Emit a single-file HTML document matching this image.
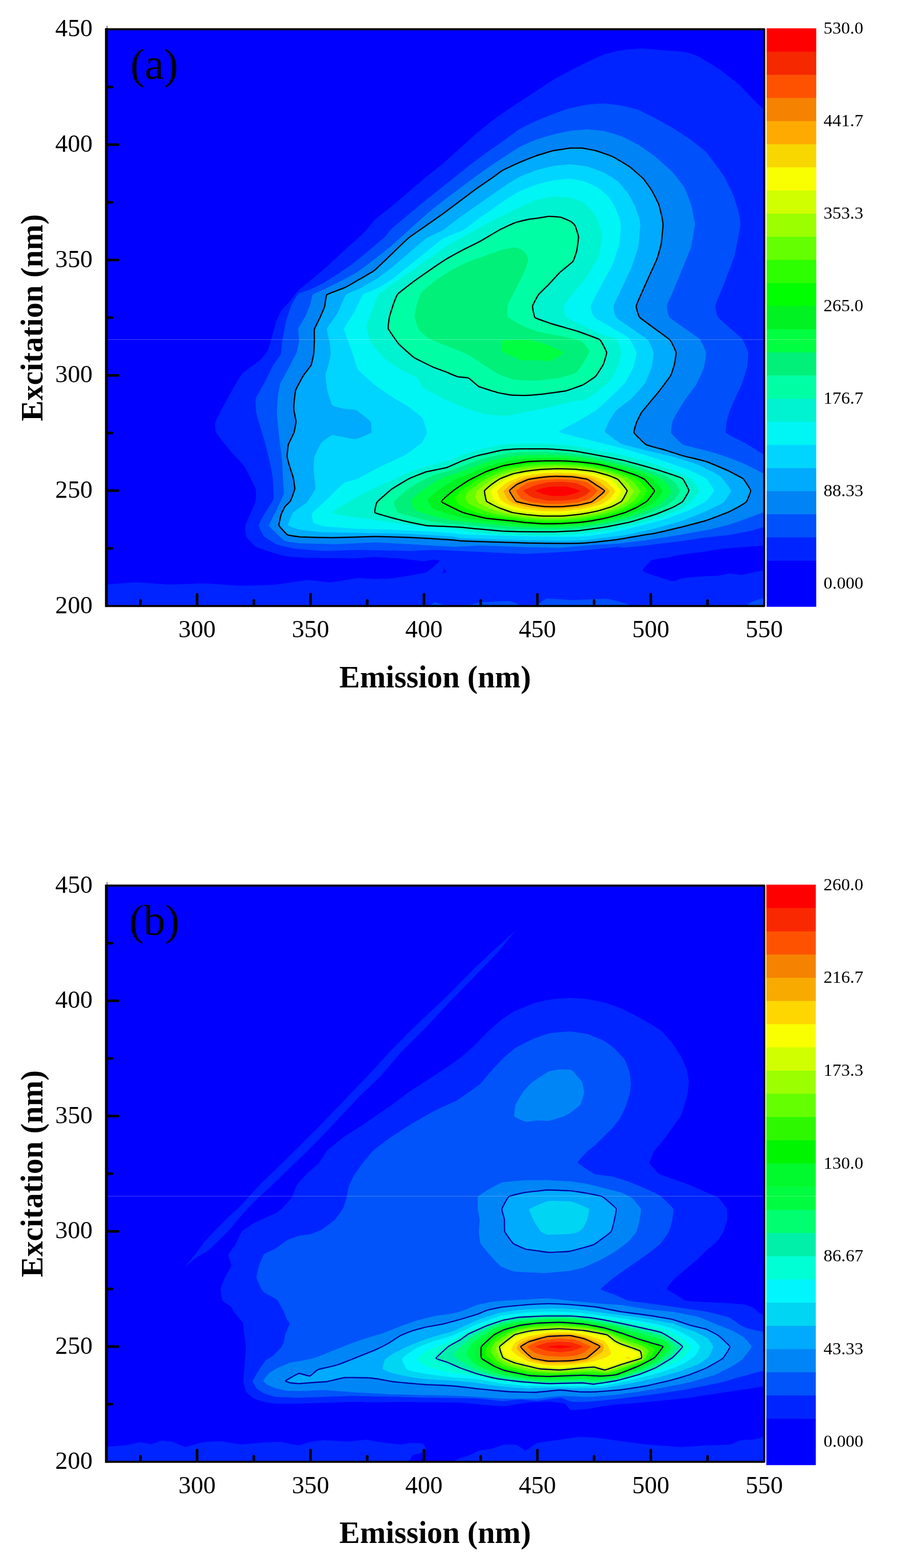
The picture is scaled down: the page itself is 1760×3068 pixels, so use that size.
<!DOCTYPE html>
<html lang="en">
<head>
<meta charset="utf-8">
<title>Excitation-emission contour maps</title>
<style>
html,body{margin:0;padding:0;background:#fff;}
body{width:1760px;height:3068px;overflow:hidden;}
svg{display:block;}
text{fill:#000;}
</style>
</head>
<body>
<svg width="1760" height="3068" viewBox="0 0 1760 3068">
<rect width="1760" height="3068" fill="#fff"/>
<defs><clipPath id="clipa"><rect x="208" y="57.3" width="1286.5" height="1128.5"/></clipPath><clipPath id="clipb"><rect x="208" y="1732.8" width="1286.5" height="1127.3999999999999"/></clipPath></defs>
<g>
<rect x="208" y="57.3" width="1286.5" height="1128.5" fill="#0000ff"/>
<g clip-path="url(#clipa)">
<path d="M1497.0 217.0C1497.0 217.0 1478.0 199.8 1474.7 196.6C1471.4 193.3 1452.5 172.3 1448.0 168.3C1443.6 164.3 1413.6 140.5 1408.1 136.6C1402.5 132.7 1369.4 112.3 1364.8 110.0C1360.1 107.6 1342.6 102.4 1338.1 101.6C1333.7 100.9 1303.7 98.7 1298.1 98.3C1292.6 97.9 1260.4 95.0 1254.8 95.0C1249.3 95.0 1219.8 97.5 1214.9 98.3C1210.0 99.1 1186.0 105.1 1181.6 106.6C1177.1 108.2 1152.7 119.5 1148.2 121.6C1143.8 123.7 1119.4 135.9 1114.9 138.3C1110.5 140.6 1086.1 153.9 1081.6 156.6C1077.2 159.3 1052.8 175.4 1048.3 178.2C1043.9 181.1 1018.2 197.8 1015.0 199.9C1011.8 202.0 1003.0 207.7 999.8 209.9C996.6 212.1 970.9 229.9 966.5 233.2C962.0 236.5 937.6 256.1 933.2 259.9C928.7 263.6 904.3 285.8 899.9 289.8C895.4 293.8 871.0 316.0 866.6 319.8C862.1 323.6 837.7 342.8 833.2 346.5C828.8 350.1 804.4 371.0 799.9 374.8C795.5 378.6 771.1 399.4 766.6 403.1C762.2 406.8 736.6 426.6 733.3 429.7C730.0 432.9 718.9 447.6 716.7 450.1C714.4 452.5 702.8 463.9 699.9 466.6C697.0 469.2 677.0 486.5 673.2 489.9C669.4 493.3 647.5 514.4 643.2 518.2C639.0 522.0 613.9 543.2 609.9 546.5C605.9 549.9 586.2 565.3 583.3 568.2C580.4 571.1 568.8 587.2 566.6 589.8C564.4 592.5 551.7 605.5 550.0 608.2C548.2 610.8 541.2 626.4 540.0 629.8C538.8 633.3 532.8 656.0 531.6 659.8C530.5 663.6 524.8 683.6 523.3 686.4C521.9 689.3 511.5 701.4 510.0 703.1C508.4 704.8 502.4 709.5 500.0 711.4C497.6 713.3 476.8 727.3 473.3 731.6C469.7 736.0 450.1 770.4 446.6 776.6C443.2 782.8 423.3 820.3 421.7 824.9C420.1 829.6 420.8 842.8 422.7 846.6C424.5 850.3 446.3 877.1 450.0 881.5C453.7 886.0 475.0 908.2 478.3 913.2C481.6 918.2 498.5 951.8 499.9 956.5C501.3 961.2 500.6 978.4 499.3 983.1C497.9 987.9 481.1 1023.7 479.9 1028.1C478.8 1032.6 480.3 1047.0 481.6 1049.8C482.9 1052.5 497.2 1067.9 499.9 1069.8C502.7 1071.6 519.4 1076.9 523.3 1078.1C527.1 1079.3 551.9 1087.1 557.1 1088.0C562.4 1088.9 592.9 1091.3 601.8 1091.6C610.7 1091.9 682.3 1092.6 691.1 1092.5C699.8 1092.4 726.9 1090.0 733.0 1090.0C739.1 1090.0 776.8 1092.5 783.0 1093.0C789.2 1093.5 822.4 1097.9 826.6 1098.0C830.8 1098.1 844.4 1095.1 846.6 1095.0C848.8 1094.9 860.0 1096.0 860.0 1097.0C860.0 1098.0 848.4 1108.5 846.6 1110.0C844.8 1111.5 836.1 1118.9 833.0 1120.0C829.9 1121.1 804.4 1125.7 800.0 1126.5C795.6 1127.3 771.1 1131.1 766.6 1131.5C762.1 1131.9 737.4 1133.0 733.0 1133.0C728.6 1133.0 705.8 1130.6 700.0 1131.0C694.2 1131.4 653.0 1139.1 646.4 1139.4C639.9 1139.6 608.9 1134.6 601.8 1134.9C594.6 1135.2 548.2 1143.1 539.3 1143.8C530.4 1144.6 477.1 1146.2 467.9 1146.1C458.6 1145.9 409.8 1141.8 400.9 1141.6C392.0 1141.5 342.9 1144.0 333.9 1143.8C325.0 1143.7 275.4 1139.4 267.0 1139.4C258.5 1139.4 206.8 1143.8 206.7 1143.8C206.6 1143.8 207.0 1144.0 207.0 1144.0C207.0 1144.0 207.0 1187.0 207.0 1187.0C207.0 1187.0 1497.0 1187.0 1497.0 1187.0C1497.0 1187.0 1497.0 217.0 1497.0 217.0Z" fill="#0024ff"/>
<path d="M1496.7 1067.5C1496.7 1067.5 1473.2 1069.1 1467.9 1069.5C1462.5 1069.9 1422.5 1072.9 1416.4 1073.6C1410.2 1074.3 1380.6 1079.1 1375.1 1079.8C1369.7 1080.6 1338.7 1084.2 1333.9 1085.0C1329.1 1085.7 1307.0 1090.4 1303.0 1091.1C1299.0 1091.9 1277.3 1094.6 1274.2 1096.3C1271.1 1098.0 1256.1 1114.8 1256.7 1116.9C1257.2 1119.0 1278.4 1125.9 1282.4 1127.2C1286.4 1128.6 1313.0 1136.8 1316.4 1137.1C1319.9 1137.4 1330.7 1131.9 1333.9 1131.3C1337.2 1130.7 1360.0 1128.6 1364.8 1128.2C1369.7 1127.9 1401.9 1126.6 1406.1 1126.2C1410.2 1125.8 1423.8 1122.1 1426.7 1122.1C1429.5 1122.0 1446.6 1125.2 1449.3 1125.1C1452.1 1125.1 1464.7 1121.7 1467.9 1121.0C1471.0 1120.3 1496.7 1114.8 1496.7 1114.8C1496.7 1114.8 1496.7 1067.5 1496.7 1067.5Z" fill="#0000ff"/>
<path d="M868.0 1113.0C868.5 1112.9 874.1 1118.5 874.0 1119.0C873.9 1119.5 866.4 1121.4 866.0 1121.0C865.6 1120.6 867.5 1113.1 868.0 1113.0Z" fill="#0000ff"/>
<path d="M1457.6 1187.0C1457.6 1187.0 1466.5 1179.4 1467.9 1178.7C1469.2 1178.0 1482.9 1173.0 1484.4 1172.5C1485.8 1172.1 1496.7 1170.1 1496.7 1170.1C1496.7 1170.1 1496.7 1187.0 1496.7 1187.0C1496.7 1187.0 1457.6 1187.0 1457.6 1187.0Z" fill="#0050fc"/>
<path d="M1046.4 1187.0C1046.4 1187.0 1065.1 1172.1 1068.7 1171.4C1072.3 1170.8 1112.1 1174.0 1117.9 1174.0C1123.7 1174.0 1180.3 1171.3 1184.8 1171.4C1189.3 1171.5 1204.1 1175.2 1207.0 1176.0C1209.9 1176.8 1243.0 1187.0 1243.0 1187.0C1243.0 1187.0 1046.4 1187.0 1046.4 1187.0Z" fill="#0050fc"/>
<path d="M908.0 1187.0C908.0 1187.0 934.5 1179.1 939.0 1178.6C943.5 1178.0 992.8 1175.6 997.0 1176.0C1001.2 1176.4 1024.0 1187.0 1024.0 1187.0C1024.0 1187.0 908.0 1187.0 908.0 1187.0Z" fill="#0050fc"/>
<path d="M840.0 1187.0C840.0 1187.0 848.1 1178.6 850.0 1178.6C851.9 1178.6 877.0 1187.0 877.0 1187.0C877.0 1187.0 840.0 1187.0 840.0 1187.0Z" fill="#0050fc"/>
<path d="M1496.7 891.9C1496.7 891.9 1480.1 880.8 1478.2 879.5C1476.2 878.3 1459.6 868.3 1457.6 867.2C1455.5 866.0 1438.9 857.9 1437.0 856.8C1435.1 855.8 1420.3 848.0 1419.5 846.5C1418.6 845.1 1420.1 830.1 1420.5 828.0C1420.8 825.9 1425.8 807.7 1426.7 805.3C1427.5 803.0 1435.7 783.4 1437.0 780.6C1438.2 777.8 1450.2 753.0 1451.4 749.8C1452.6 746.6 1460.8 719.5 1461.4 716.5C1462.0 713.5 1463.5 692.5 1463.0 689.8C1462.5 687.1 1454.3 666.6 1451.4 663.2C1448.5 659.7 1407.4 624.8 1404.7 621.5C1402.1 618.3 1398.1 601.8 1398.7 598.2C1399.4 594.6 1416.2 554.8 1418.1 549.9C1419.9 545.0 1434.9 505.4 1436.4 499.9C1437.9 494.4 1447.6 444.1 1448.0 440.0C1448.5 435.8 1445.4 419.3 1444.7 416.4C1444.0 413.6 1436.2 386.8 1434.7 383.1C1433.2 379.4 1417.4 347.4 1414.7 343.1C1412.1 338.9 1384.8 301.7 1381.4 298.2C1378.1 294.6 1351.4 273.9 1348.1 271.5C1344.8 269.1 1318.1 251.9 1314.8 249.9C1311.5 247.9 1284.8 233.3 1281.5 231.5C1278.2 229.8 1251.5 216.1 1248.2 214.9C1244.8 213.6 1218.2 207.2 1214.9 206.6C1211.5 205.9 1184.9 202.6 1181.6 202.6C1178.2 202.5 1151.6 204.4 1148.2 204.9C1144.9 205.3 1118.3 210.6 1114.9 211.6C1111.6 212.5 1085.0 222.0 1081.6 223.2C1078.3 224.5 1051.6 235.0 1048.3 236.5C1045.0 238.0 1018.3 251.2 1015.0 253.2C1011.7 255.2 986.4 274.2 983.1 276.5C979.9 278.8 953.2 297.4 949.8 299.8C946.5 302.2 919.9 322.2 916.5 324.8C913.2 327.4 886.5 348.8 883.2 351.5C879.9 354.1 853.2 375.4 849.9 378.1C846.6 380.8 819.9 402.0 816.6 404.8C813.3 407.5 785.9 430.8 783.3 433.1C780.6 435.3 764.8 448.6 763.3 450.1C761.8 451.6 755.3 461.2 753.2 463.3C751.0 465.3 723.2 488.8 719.9 491.6C716.5 494.3 689.5 516.0 686.5 518.2C683.5 520.5 662.6 534.8 659.9 536.5C657.2 538.3 635.9 551.7 633.2 553.2C630.6 554.7 609.1 565.4 606.6 566.5C604.1 567.6 585.1 573.4 583.3 574.9C581.4 576.3 571.1 593.9 570.0 596.5C568.8 599.1 560.7 623.8 560.0 626.5C559.2 629.1 555.4 647.6 555.0 649.8C554.5 652.0 551.9 667.6 551.6 669.8C551.3 672.0 550.2 690.8 549.3 693.1C548.4 695.4 534.9 713.6 533.3 716.4C531.7 719.3 518.3 746.9 516.7 750.1C515.0 753.2 500.7 777.0 499.9 779.9C499.2 782.9 500.8 805.9 501.6 809.9C502.4 813.9 515.3 855.4 516.6 859.9C517.8 864.4 525.7 896.2 526.6 899.9C527.4 903.5 532.8 929.3 533.2 933.2C533.7 937.0 535.7 972.8 534.9 976.5C534.1 980.1 518.0 1003.9 516.6 1006.5C515.1 1009.0 505.9 1025.9 505.9 1028.1C505.9 1030.3 514.9 1047.9 516.6 1049.8C518.3 1051.6 537.1 1063.6 539.9 1064.8C542.7 1065.9 568.6 1072.4 573.2 1073.1C577.9 1073.8 626.8 1077.9 633.2 1078.1C639.5 1078.2 691.7 1076.0 700.0 1076.0C708.3 1076.0 792.5 1078.0 800.0 1078.0C807.5 1078.0 843.0 1075.9 850.0 1076.0C857.0 1076.1 930.4 1079.6 939.3 1080.0C948.2 1080.4 1019.6 1083.6 1028.6 1083.6C1037.5 1083.5 1108.9 1079.8 1117.9 1079.1C1126.8 1078.4 1202.6 1070.5 1207.1 1070.2C1211.6 1069.8 1217.9 1071.7 1220.6 1071.6C1223.3 1071.4 1257.7 1067.9 1261.8 1067.5C1265.9 1067.0 1298.9 1062.8 1303.0 1062.3C1307.2 1061.8 1340.1 1057.7 1344.2 1057.2C1348.4 1056.6 1381.3 1051.5 1385.5 1051.0C1389.6 1050.5 1422.5 1047.5 1426.7 1046.8C1430.8 1046.2 1464.4 1039.4 1467.9 1038.6C1471.4 1037.8 1496.7 1030.4 1496.7 1030.4C1496.7 1030.4 1496.7 891.9 1496.7 891.9Z" fill="#0050fc"/>
<path d="M1496.7 929.0C1496.7 929.0 1480.1 919.7 1478.2 918.7C1476.2 917.6 1460.1 909.5 1457.6 908.4C1455.0 907.2 1429.8 897.1 1426.7 896.0C1423.6 894.9 1398.8 886.6 1395.8 885.7C1392.7 884.8 1367.8 878.2 1364.8 877.5C1361.9 876.7 1337.9 871.0 1336.0 870.2C1334.1 869.5 1328.9 864.2 1327.8 863.0C1326.6 861.8 1312.9 848.5 1312.3 846.5C1311.7 844.6 1314.6 826.1 1315.4 823.9C1316.2 821.6 1326.4 803.5 1327.8 801.2C1329.1 798.9 1340.5 781.0 1342.2 778.5C1343.9 776.1 1359.7 756.0 1361.4 753.1C1363.1 750.2 1375.5 723.0 1376.4 719.8C1377.4 716.6 1381.2 692.6 1380.8 689.8C1380.3 687.0 1371.6 666.6 1368.1 663.2C1364.6 659.7 1313.0 624.8 1309.8 621.5C1306.6 618.3 1303.9 600.6 1304.1 598.2C1304.4 595.8 1313.4 576.5 1314.8 573.2C1316.2 570.0 1329.6 537.7 1331.5 533.2C1333.3 528.7 1350.1 487.9 1351.4 483.3C1352.8 478.6 1358.5 442.3 1358.8 440.0C1359.1 437.7 1358.5 435.1 1358.1 433.1C1357.7 431.1 1352.4 403.1 1351.4 399.8C1350.4 396.4 1340.0 369.6 1338.1 366.5C1336.3 363.3 1317.6 339.5 1314.8 336.5C1312.0 333.5 1284.8 309.2 1281.5 306.5C1278.2 303.8 1251.5 285.2 1248.2 283.2C1244.8 281.2 1218.2 267.9 1214.9 266.5C1211.5 265.2 1184.9 257.2 1181.6 256.5C1178.2 255.9 1151.6 253.2 1148.2 253.2C1144.9 253.2 1118.3 255.4 1114.9 255.9C1111.6 256.4 1085.0 262.3 1081.6 263.2C1078.3 264.1 1051.6 271.9 1048.3 273.2C1045.0 274.4 1019.1 285.8 1015.0 288.2C1010.9 290.5 970.6 317.1 966.5 319.8C962.4 322.6 936.5 340.7 933.2 343.1C929.8 345.6 903.2 365.6 899.9 368.1C896.5 370.6 869.9 390.5 866.6 393.1C863.2 395.7 836.6 416.9 833.2 419.8C829.9 422.6 803.1 446.9 799.8 449.9C796.5 452.9 769.8 477.1 766.5 479.9C763.2 482.7 736.5 504.0 733.2 506.6C729.8 509.1 703.0 529.5 699.9 531.5C696.7 533.6 672.9 546.6 669.9 548.2C666.9 549.8 642.8 561.8 639.9 563.2C637.0 564.6 613.3 574.9 611.6 576.5C609.9 578.2 607.3 594.3 606.6 596.5C605.8 598.7 597.8 617.5 596.6 619.8C595.4 622.2 583.9 640.8 583.3 643.1C582.7 645.5 585.1 664.1 584.9 666.5C584.8 668.8 580.9 687.3 579.9 689.8C579.0 692.3 568.2 713.4 566.6 716.4C565.0 719.4 549.5 747.1 548.3 750.1C547.1 753.1 543.6 773.6 543.2 776.6C542.9 779.6 541.4 805.8 541.6 809.9C541.7 814.1 546.1 855.4 546.6 859.9C547.1 864.4 551.2 896.2 551.6 899.9C551.9 903.5 553.1 929.8 553.2 933.2C553.4 936.5 555.6 963.2 554.9 966.5C554.2 969.8 541.4 996.7 539.9 999.8C538.5 1002.9 525.9 1025.9 525.9 1028.1C525.9 1030.3 538.4 1041.6 539.9 1043.1C541.4 1044.6 554.2 1057.1 556.6 1058.1C558.9 1059.1 581.7 1062.8 586.5 1063.1C591.4 1063.4 645.8 1064.8 653.2 1064.8C660.5 1064.7 725.8 1061.4 733.1 1061.4C740.4 1061.4 792.1 1064.3 799.7 1064.8C807.3 1065.2 878.0 1069.6 885.0 1069.8C892.0 1069.9 931.8 1067.5 939.0 1067.5C946.2 1067.5 1020.8 1070.3 1028.6 1070.5C1036.4 1070.7 1088.8 1071.7 1095.5 1071.5C1102.2 1071.3 1157.3 1066.4 1162.5 1066.0C1167.7 1065.6 1197.1 1064.5 1200.0 1064.4C1202.9 1064.2 1217.5 1062.7 1220.6 1062.3C1223.7 1061.9 1257.7 1057.7 1261.8 1057.2C1265.9 1056.6 1298.9 1051.6 1303.0 1051.0C1307.2 1050.3 1340.1 1044.5 1344.2 1043.8C1348.4 1043.0 1381.3 1037.4 1385.5 1036.5C1389.6 1035.7 1422.5 1027.5 1426.7 1026.2C1430.8 1025.0 1464.4 1013.1 1467.9 1011.8C1471.4 1010.5 1496.7 1000.5 1496.7 1000.5C1496.7 1000.5 1496.7 929.0 1496.7 929.0Z" fill="#0083f5"/>
<path d="M1468.0 959.9C1467.7 957.6 1455.4 938.6 1453.0 936.6C1450.7 934.6 1425.0 921.6 1421.4 919.9C1417.8 918.2 1385.8 904.7 1381.4 903.3C1377.1 901.8 1339.0 892.8 1334.8 891.6C1330.6 890.4 1301.7 881.0 1298.1 879.9C1294.6 878.9 1266.1 871.6 1263.2 869.9C1260.3 868.3 1240.8 848.8 1239.9 846.6C1238.9 844.5 1244.1 828.6 1244.8 826.6C1245.6 824.6 1252.7 809.7 1254.8 806.7C1257.0 803.6 1285.3 770.0 1288.2 766.4C1291.0 762.8 1309.9 737.4 1311.5 734.8C1313.0 732.1 1318.3 715.4 1318.8 713.1C1319.3 710.9 1322.6 692.2 1322.1 689.8C1321.7 687.4 1313.3 668.2 1309.8 664.8C1306.3 661.4 1254.8 624.8 1251.5 621.5C1248.2 618.2 1244.0 601.3 1244.2 598.9C1244.3 596.5 1253.6 576.0 1254.8 573.2C1256.0 570.4 1266.7 546.6 1268.2 543.2C1269.7 539.9 1283.6 509.9 1284.8 506.6C1286.1 503.3 1292.6 479.9 1293.1 476.6C1293.7 473.4 1296.4 444.1 1296.5 441.6C1296.6 439.1 1295.2 428.5 1294.8 426.4C1294.4 424.3 1289.2 402.4 1288.2 399.8C1287.2 397.1 1276.3 375.6 1274.8 373.1C1273.3 370.6 1260.3 352.1 1258.2 349.8C1256.0 347.5 1234.5 328.6 1231.5 326.5C1228.5 324.3 1201.5 308.1 1198.2 306.5C1194.9 304.9 1167.9 295.7 1164.9 294.8C1161.9 294.0 1140.7 290.1 1138.3 289.8C1135.8 289.6 1117.8 289.6 1114.9 289.8C1112.1 290.1 1085.0 294.1 1081.6 294.8C1078.3 295.6 1051.6 303.7 1048.3 304.8C1045.0 306.0 1018.3 316.7 1015.0 318.2C1011.7 319.6 985.9 331.6 983.1 333.1C980.4 334.7 962.3 348.1 959.8 349.8C957.3 351.5 936.2 366.0 933.2 368.1C930.2 370.3 903.2 390.6 899.9 393.1C896.5 395.6 869.9 415.7 866.6 418.1C863.2 420.5 836.6 439.1 833.2 441.4C829.9 443.7 803.1 462.2 799.8 464.9C796.5 467.7 769.8 493.4 766.5 496.6C763.2 499.7 736.5 525.6 733.2 528.2C729.8 530.8 702.9 546.5 699.9 548.2C696.9 550.0 676.2 561.8 673.2 563.2C670.2 564.6 641.2 574.7 639.2 576.5C637.3 578.3 635.6 597.5 634.9 599.8C634.2 602.2 625.9 620.9 624.9 623.2C623.9 625.4 615.4 642.0 614.9 644.1C614.4 646.3 615.0 664.0 614.9 666.5C614.8 668.9 613.6 690.7 613.3 693.1C612.9 695.5 609.3 712.7 608.3 714.8C607.3 716.8 594.8 732.3 593.3 734.7C591.8 737.2 579.1 760.5 578.2 763.3C577.3 766.1 575.0 787.9 574.9 789.9C574.7 791.9 574.7 801.5 574.9 803.3C575.1 805.0 578.9 822.8 578.9 824.9C578.9 827.1 575.6 844.3 574.9 846.6C574.1 848.8 564.6 867.6 563.9 869.9C563.2 872.2 561.4 891.0 561.6 893.2C561.7 895.4 566.0 911.2 566.6 913.2C567.1 915.2 572.7 931.0 573.2 933.2C573.7 935.3 576.8 954.2 576.5 956.5C576.3 958.8 569.2 978.1 568.2 979.8C567.3 981.6 558.1 990.1 557.2 991.5C556.3 992.8 550.5 1004.6 549.9 1006.5C549.3 1008.3 545.0 1026.1 545.6 1028.1C546.2 1030.1 560.2 1045.3 562.2 1046.4C564.3 1047.6 582.2 1050.1 586.5 1050.4C590.9 1050.7 642.5 1052.1 649.8 1052.1C657.2 1052.1 725.6 1049.8 733.1 1049.8C740.6 1049.7 792.1 1051.1 799.7 1051.4C807.3 1051.8 880.0 1056.1 885.0 1056.4C890.0 1056.8 895.8 1058.0 899.9 1058.2C903.9 1058.4 959.8 1060.3 966.5 1060.5C973.2 1060.7 1026.4 1062.4 1033.1 1062.5C1039.8 1062.6 1094.2 1063.2 1099.7 1063.2C1105.2 1063.2 1137.9 1062.8 1143.0 1062.5C1148.1 1062.2 1197.1 1057.0 1201.5 1056.5C1206.0 1055.9 1227.5 1052.2 1231.5 1051.5C1235.5 1050.8 1276.5 1044.2 1281.5 1043.2C1286.5 1042.2 1326.5 1032.8 1331.5 1031.5C1336.5 1030.3 1376.9 1019.6 1381.4 1018.2C1385.9 1016.8 1418.2 1004.5 1421.4 1003.2C1424.6 1001.9 1442.8 992.6 1444.7 991.5C1446.6 990.4 1458.5 983.1 1459.7 981.5C1460.9 980.0 1468.4 962.1 1468.0 959.9Z" fill="#00aafc"/>
<path d="M1429.7 959.9C1429.4 957.3 1411.3 934.1 1408.1 931.6C1404.8 929.0 1369.4 911.2 1364.8 909.3C1360.1 907.3 1319.8 894.6 1314.8 893.3C1309.8 891.9 1269.8 882.9 1264.8 881.6C1259.8 880.4 1218.9 870.1 1214.9 868.3C1210.8 866.4 1184.4 847.2 1183.2 845.0C1182.1 842.7 1190.5 825.4 1191.5 823.3C1192.6 821.2 1202.7 805.5 1204.9 803.3C1207.0 801.1 1232.0 782.4 1234.9 779.7C1237.7 777.1 1259.5 752.9 1261.5 749.8C1263.5 746.6 1274.0 719.5 1274.8 716.5C1275.7 713.5 1278.6 692.4 1278.2 689.8C1277.7 687.2 1270.1 668.2 1266.5 664.8C1262.9 661.4 1208.9 624.8 1205.5 621.5C1202.2 618.2 1199.4 601.6 1199.9 598.9C1200.3 596.1 1213.1 570.3 1214.9 566.6C1216.6 562.8 1233.2 527.4 1234.9 523.3C1236.5 519.1 1247.3 487.4 1248.2 483.3C1249.0 479.1 1252.1 442.8 1252.2 440.0C1252.3 437.1 1250.4 428.3 1249.8 426.4C1249.3 424.6 1242.6 405.5 1241.5 403.1C1240.4 400.7 1229.9 380.5 1228.2 378.1C1226.5 375.7 1210.5 356.8 1208.2 354.8C1205.9 352.8 1184.6 339.6 1181.6 338.1C1178.6 336.7 1151.6 326.6 1148.2 325.8C1144.9 325.0 1118.3 321.5 1114.9 321.5C1111.6 321.4 1085.0 324.2 1081.6 324.8C1078.3 325.4 1051.6 332.1 1048.3 333.1C1045.0 334.2 1017.8 345.1 1015.0 346.5C1012.2 347.8 995.6 358.2 993.1 359.8C990.7 361.4 969.5 376.0 966.5 378.1C963.5 380.2 936.5 399.1 933.2 401.4C929.8 403.8 903.2 422.3 899.9 424.8C896.5 427.2 869.9 448.0 866.6 450.1C863.2 452.2 836.4 464.3 833.1 466.6C829.8 468.8 803.1 492.1 799.8 494.9C796.5 497.7 769.5 520.8 766.5 523.2C763.5 525.6 742.8 541.2 739.8 543.2C736.8 545.2 709.7 561.5 706.5 563.2C703.4 564.9 678.9 574.0 676.5 576.5C674.2 579.0 661.8 609.8 659.9 613.2C658.0 616.5 640.0 640.3 639.2 643.1C638.5 646.0 644.5 667.3 644.9 669.8C645.3 672.3 646.7 690.8 646.6 693.1C646.4 695.4 642.1 714.4 641.6 716.4C641.1 718.4 636.7 730.7 636.6 733.1C636.5 735.4 639.2 760.3 639.8 763.3C640.5 766.3 648.2 791.4 649.8 793.3C651.5 795.1 670.8 799.5 673.2 799.9C675.5 800.4 693.9 801.3 696.5 802.6C699.1 803.8 723.3 822.7 724.8 824.9C726.2 827.1 727.3 844.9 725.8 846.6C724.3 848.3 698.6 859.0 694.8 859.2C691.0 859.5 653.2 851.2 649.8 851.6C646.5 851.9 629.9 864.5 628.2 866.6C626.4 868.6 615.6 890.7 614.9 893.2C614.1 895.7 613.1 913.4 613.2 916.5C613.3 919.7 617.2 953.2 616.5 956.5C615.9 959.8 602.0 980.8 599.9 983.1C597.7 985.5 575.0 1000.9 573.2 1003.1C571.4 1005.4 562.6 1026.4 563.2 1028.1C563.9 1029.8 583.0 1035.8 586.5 1036.4C590.0 1037.1 625.8 1041.1 633.2 1041.4C640.5 1041.8 724.8 1042.9 733.1 1043.1C741.4 1043.3 792.1 1044.4 799.7 1044.8C807.3 1045.1 880.0 1049.4 885.0 1049.8C890.0 1050.2 895.8 1052.6 899.9 1052.8C903.9 1053.1 959.8 1054.9 966.5 1055.2C973.2 1055.4 1026.4 1057.0 1033.1 1057.2C1039.8 1057.3 1094.2 1057.8 1099.7 1057.8C1105.2 1057.8 1137.9 1057.2 1143.0 1056.8C1148.1 1056.4 1197.1 1050.4 1201.5 1049.8C1206.0 1049.2 1227.5 1046.0 1231.5 1045.2C1235.5 1044.4 1276.5 1035.1 1281.5 1033.8C1286.5 1032.6 1326.5 1021.5 1331.5 1019.8C1336.5 1018.1 1377.3 1001.7 1381.4 999.9C1385.6 998.0 1412.3 985.2 1414.7 983.2C1417.1 981.2 1430.1 962.5 1429.7 959.9Z" fill="#00d5ff"/>
<path d="M1396.4 959.9C1396.4 957.7 1383.8 938.6 1381.4 936.6C1379.0 934.6 1353.1 921.9 1348.1 919.9C1343.1 917.9 1288.2 898.8 1281.5 896.6C1274.8 894.4 1221.5 878.4 1214.9 876.6C1208.2 874.8 1154.3 861.5 1148.2 860.0C1142.2 858.4 1094.1 846.8 1093.3 845.0C1092.4 843.1 1128.0 825.4 1131.6 823.3C1135.2 821.2 1161.7 805.7 1164.9 803.3C1168.1 801.0 1192.0 779.1 1194.9 776.4C1197.7 773.7 1219.4 752.6 1221.5 749.8C1223.7 746.9 1237.0 722.8 1238.2 719.8C1239.4 716.8 1245.3 692.8 1244.8 689.8C1244.3 686.8 1232.3 663.2 1228.2 659.8C1224.1 656.4 1166.9 624.6 1163.2 621.5C1159.6 618.5 1154.3 601.9 1154.9 598.9C1155.5 595.8 1172.7 564.0 1174.9 559.9C1177.1 555.8 1196.4 520.8 1198.2 516.6C1200.0 512.4 1210.7 480.4 1211.5 476.6C1212.3 472.8 1214.3 442.6 1214.2 440.0C1214.1 437.3 1210.5 424.9 1209.9 423.1C1209.2 421.2 1202.6 405.1 1201.5 403.1C1200.5 401.1 1189.9 384.9 1188.2 383.1C1186.6 381.3 1170.6 367.9 1168.2 366.5C1165.9 365.0 1144.2 355.6 1141.6 354.8C1138.9 354.0 1117.9 349.9 1114.9 349.8C1111.9 349.7 1085.0 352.5 1081.6 353.1C1078.3 353.7 1051.6 360.4 1048.3 361.5C1045.0 362.5 1017.8 373.5 1015.0 374.8C1012.2 376.1 995.6 386.5 993.1 388.1C990.7 389.7 969.5 404.3 966.5 406.4C963.5 408.5 936.2 427.6 933.2 429.7C930.2 431.9 909.9 448.2 906.5 450.1C903.2 451.9 870.1 464.4 866.4 466.6C862.8 468.7 836.4 490.6 833.1 493.2C829.8 495.9 803.1 517.2 799.8 519.9C796.5 522.6 769.5 544.4 766.5 546.5C763.5 548.7 742.7 561.7 739.8 563.2C737.0 564.7 712.2 574.2 709.9 576.5C707.5 578.8 695.0 606.5 693.2 609.8C691.4 613.2 673.8 640.1 673.2 643.1C672.6 646.1 680.7 667.3 681.5 669.8C682.4 672.3 689.0 690.4 689.9 693.1C690.8 695.8 697.7 720.1 699.9 723.1C702.0 726.1 729.8 750.6 733.1 753.3C736.4 756.0 763.1 774.5 766.4 776.6C769.8 778.8 796.7 794.5 799.7 796.6C802.7 798.7 824.6 815.8 826.4 818.3C828.1 820.8 834.8 844.2 834.7 846.6C834.6 849.0 826.8 864.4 824.7 866.6C822.6 868.7 797.2 887.5 793.1 889.9C789.0 892.2 747.8 910.9 743.1 913.2C738.4 915.5 703.3 934.9 699.8 936.5C696.3 938.1 675.5 943.5 673.2 944.8C670.8 946.2 655.2 961.2 653.2 963.2C651.2 965.1 635.3 981.1 633.2 983.1C631.0 985.2 610.9 1002.8 609.9 1004.8C608.9 1006.8 612.0 1021.9 613.2 1023.1C614.4 1024.4 628.8 1029.2 633.2 1029.8C637.5 1030.4 693.1 1034.4 699.8 1034.8C706.5 1035.1 759.8 1036.2 766.4 1036.4C773.1 1036.7 827.1 1039.4 833.0 1039.8C839.0 1040.1 881.7 1042.8 885.0 1043.1C888.4 1043.4 895.8 1045.3 899.9 1045.5C903.9 1045.7 959.8 1047.6 966.5 1047.8C973.2 1048.0 1026.4 1049.7 1033.1 1049.8C1039.8 1050.0 1094.2 1050.5 1099.7 1050.5C1105.2 1050.5 1138.3 1049.9 1143.0 1049.5C1147.8 1049.1 1189.6 1043.1 1194.9 1042.2C1200.1 1041.2 1243.0 1031.1 1248.2 1029.8C1253.3 1028.6 1293.1 1018.1 1298.1 1016.5C1303.1 1014.9 1343.9 1000.0 1348.1 998.2C1352.3 996.4 1379.0 981.8 1381.4 979.9C1383.8 978.0 1396.4 962.1 1396.4 959.9Z" fill="#00f5f5"/>
<path d="M816.6 739.8C814.4 738.0 786.6 725.1 783.3 723.1C779.9 721.1 752.9 702.5 750.0 699.8C747.1 697.1 726.6 673.0 725.0 669.8C723.3 666.7 716.5 639.7 716.7 636.5C716.8 633.3 727.1 609.5 728.3 606.5C729.5 603.5 738.1 579.0 740.0 576.5C741.9 574.1 763.6 558.7 766.6 556.6C769.6 554.4 796.6 535.6 799.9 533.2C803.3 530.9 829.9 512.3 833.2 509.9C836.6 507.6 863.2 488.8 866.6 486.6C869.9 484.4 896.5 468.5 899.9 466.6C903.2 464.7 929.8 450.1 933.2 448.3C936.5 446.5 963.2 431.7 966.5 430.0C969.8 428.2 995.7 415.3 999.8 413.3C1003.9 411.4 1044.2 392.9 1048.3 391.4C1052.4 390.0 1078.3 385.0 1081.6 384.8C1085.0 384.5 1111.9 385.9 1114.9 386.4C1117.9 387.0 1139.4 395.1 1141.6 396.4C1143.7 397.8 1156.9 411.4 1158.2 413.1C1159.6 414.8 1167.3 427.4 1168.2 429.7C1169.2 432.1 1177.4 456.5 1177.6 460.0C1177.7 463.5 1173.0 495.9 1171.6 499.9C1170.1 503.9 1150.7 536.2 1148.2 539.9C1145.7 543.6 1123.9 570.3 1121.6 573.2C1119.3 576.2 1102.9 596.5 1102.3 598.9C1101.6 601.3 1104.3 618.6 1108.3 621.5C1112.2 624.4 1176.6 654.4 1181.6 656.5C1186.5 658.6 1204.9 661.5 1206.5 663.2C1208.2 664.8 1214.8 687.1 1214.9 689.8C1215.0 692.5 1209.2 713.8 1208.2 716.5C1207.2 719.1 1196.9 740.6 1194.9 743.1C1192.9 745.6 1170.9 764.4 1168.2 766.4C1165.6 768.4 1144.2 782.1 1141.6 783.1C1139.0 784.1 1119.3 785.3 1116.0 786.0C1112.7 786.7 1078.8 796.0 1074.7 797.0C1070.6 798.0 1037.6 804.2 1033.5 805.0C1029.4 805.8 996.4 813.1 992.3 813.4C988.2 813.7 955.1 811.5 951.0 810.7C946.9 809.9 914.0 799.8 909.9 798.3C905.8 796.8 872.8 782.4 868.7 780.4C864.6 778.4 830.1 760.5 827.5 758.5C824.9 756.5 818.8 741.5 816.6 739.8Z" fill="#00f3d0"/>
<path d="M1368.1 959.9C1368.1 957.6 1354.1 938.6 1351.4 936.6C1348.8 934.6 1319.1 921.6 1314.8 919.9C1310.5 918.2 1269.8 904.8 1264.8 903.3C1259.8 901.8 1219.9 891.1 1214.9 889.9C1209.9 888.8 1169.9 880.9 1164.9 879.9C1159.9 879.0 1119.9 872.2 1114.9 871.6C1109.9 871.0 1070.0 868.4 1065.0 868.3C1060.0 868.1 1019.1 868.2 1015.0 868.3C1010.9 868.4 987.2 869.3 983.1 869.9C979.1 870.6 937.3 879.5 933.2 880.6C929.0 881.7 902.3 890.7 899.9 891.6C897.5 892.5 886.7 898.6 885.0 899.2C883.3 899.8 869.0 903.2 866.4 903.9C863.8 904.6 836.4 912.2 833.0 913.2C829.7 914.2 803.1 922.5 799.7 923.9C796.4 925.2 769.8 938.3 766.4 939.8C763.1 941.4 736.4 953.2 733.1 954.8C729.8 956.4 703.1 969.7 699.8 971.5C696.5 973.3 669.0 989.9 666.5 991.5C664.0 993.1 649.0 1002.8 649.8 1003.8C650.7 1004.7 679.8 1009.9 683.1 1010.5C686.5 1011.0 713.1 1014.3 716.5 1014.8C719.8 1015.3 745.6 1019.2 749.8 1019.8C753.9 1020.4 795.6 1025.9 799.7 1026.4C803.9 1027.0 828.8 1030.4 833.0 1030.8C837.3 1031.2 880.0 1034.2 885.0 1034.8C890.0 1035.4 928.3 1041.9 933.2 1042.5C938.1 1043.1 979.1 1046.3 983.1 1046.5C987.2 1046.7 1011.7 1047.1 1015.0 1047.2C1018.3 1047.2 1044.1 1048.2 1048.3 1048.2C1052.5 1048.2 1093.3 1047.4 1098.3 1047.2C1103.3 1046.9 1143.2 1043.7 1148.2 1043.2C1153.2 1042.6 1193.2 1037.4 1198.2 1036.5C1203.2 1035.6 1243.2 1026.2 1248.2 1024.8C1253.2 1023.5 1294.0 1011.3 1298.1 1009.9C1302.3 1008.4 1328.8 997.9 1331.5 996.5C1334.1 995.1 1349.6 983.4 1351.4 981.5C1353.3 979.7 1368.1 962.1 1368.1 959.9Z" fill="#00f3d0"/>
<path d="M1073.1 423.3C1075.2 423.2 1094.2 424.5 1096.4 425.0C1098.6 425.5 1115.0 432.5 1116.4 433.3C1117.8 434.1 1124.0 440.1 1124.7 441.6C1125.5 443.1 1131.2 460.9 1131.4 463.3C1131.5 465.7 1128.6 487.5 1128.0 489.9C1127.5 492.4 1122.1 509.4 1120.4 511.6C1118.7 513.8 1097.1 531.0 1094.7 533.2C1092.4 535.5 1075.2 554.4 1073.1 556.6C1071.0 558.7 1054.7 574.4 1053.1 576.5C1051.5 578.7 1041.8 596.6 1041.4 598.9C1041.1 601.1 1044.4 619.7 1046.4 621.5C1048.5 623.3 1078.9 633.5 1083.1 634.8C1087.2 636.2 1125.2 646.7 1129.7 648.2C1134.2 649.7 1170.2 662.7 1173.0 664.8C1175.8 666.9 1186.0 687.4 1186.3 689.8C1186.7 692.2 1180.8 710.8 1179.7 713.1C1178.6 715.5 1166.7 734.4 1164.7 736.4C1162.7 738.4 1142.6 751.7 1139.7 753.1C1136.8 754.5 1110.1 763.9 1106.4 764.8C1102.7 765.6 1070.4 770.0 1066.4 770.4C1062.4 770.9 1029.8 773.6 1026.4 773.8C1023.1 773.9 1002.5 773.4 999.8 773.1C997.1 772.8 976.3 768.9 973.2 768.1C970.0 767.3 939.3 757.8 936.5 756.4C933.7 755.0 918.6 740.7 916.5 739.8C914.4 738.8 897.0 737.7 894.9 737.1C892.7 736.5 875.6 729.1 873.2 728.1C870.8 727.2 849.7 719.5 846.6 718.1C843.4 716.7 813.3 702.0 809.9 699.8C806.6 697.6 782.5 676.0 779.9 673.2C777.4 670.3 760.2 645.8 759.3 643.2C758.4 640.5 761.1 622.4 761.6 619.9C762.2 617.4 769.1 595.5 770.0 593.2C770.8 591.0 776.3 577.0 778.3 574.9C780.3 572.7 806.7 552.3 809.9 549.9C813.2 547.5 840.1 528.7 843.2 526.6C846.4 524.4 870.1 508.5 873.2 506.6C876.4 504.7 903.2 490.0 906.5 488.3C909.9 486.5 936.3 473.5 939.8 471.6C943.3 469.7 973.2 451.7 976.5 450.0C979.8 448.2 1003.6 437.0 1006.5 436.0C1009.3 434.9 1030.8 429.8 1033.1 429.3C1035.4 428.8 1051.1 426.9 1053.1 426.6C1055.1 426.3 1070.9 423.4 1073.1 423.3Z" fill="#00ffa5"/>
<path d="M1006.5 483.9C1008.3 483.9 1018.6 487.6 1019.8 488.3C1021.0 489.0 1029.1 497.2 1029.8 498.3C1030.4 499.4 1033.4 508.2 1033.1 509.9C1032.9 511.7 1025.9 530.6 1024.8 533.2C1023.6 535.9 1011.4 560.1 1009.8 563.2C1008.2 566.4 994.0 593.7 993.1 596.5C992.3 599.4 991.8 617.9 993.1 619.9C994.5 621.9 1017.0 635.1 1019.8 636.5C1022.6 637.9 1045.8 647.1 1049.8 648.2C1053.8 649.3 1095.4 657.2 1099.7 658.2C1104.1 659.1 1133.7 665.1 1136.4 666.5C1139.0 667.9 1152.7 684.5 1153.0 686.5C1153.4 688.5 1144.4 704.3 1143.0 706.5C1141.7 708.6 1128.9 728.1 1126.4 729.8C1123.9 731.4 1096.9 739.0 1093.1 739.8C1089.2 740.5 1054.1 744.6 1049.8 744.8C1045.4 744.9 1010.1 743.7 1006.5 743.1C1002.8 742.5 979.3 734.4 976.5 733.1C973.7 731.8 953.0 718.5 949.8 716.5C946.7 714.5 917.0 695.1 913.2 693.1C909.4 691.1 876.9 678.0 873.2 676.5C869.6 675.0 842.6 664.7 839.9 663.2C837.2 661.7 821.4 648.7 819.9 646.5C818.5 644.3 810.8 622.4 810.6 619.9C810.3 617.4 814.3 598.9 814.9 596.5C815.6 594.2 821.5 575.5 823.3 573.2C825.0 570.9 847.1 552.1 849.9 549.9C852.7 547.7 876.7 531.7 879.9 529.9C883.0 528.1 909.7 514.8 913.2 513.3C916.7 511.8 946.3 501.2 949.8 499.9C953.3 498.7 980.3 489.1 983.1 488.3C986.0 487.5 1004.6 483.9 1006.5 483.9Z" fill="#00f07a"/>
<path d="M981.5 666.5C984.1 665.3 1028.9 664.5 1033.1 664.8C1037.4 665.2 1062.9 671.9 1066.4 673.2C1069.9 674.4 1102.6 688.1 1103.1 689.8C1103.6 691.5 1079.1 705.7 1076.4 706.5C1073.8 707.2 1052.6 704.9 1049.8 704.8C1046.9 704.7 1022.3 705.2 1019.8 704.8C1017.3 704.4 1001.7 697.3 999.8 696.5C997.9 695.6 982.4 689.6 981.5 688.1C980.6 686.6 978.9 667.7 981.5 666.5Z" fill="#00ff40"/>
<path d="M733.3 1003.2C731.8 1001.7 735.6 984.9 737.3 982.5C739.0 980.2 763.5 958.9 766.6 956.6C769.8 954.3 796.6 938.2 799.9 936.6C803.3 934.9 829.6 924.3 833.2 923.2C836.9 922.2 869.9 915.9 873.2 914.9C876.5 913.9 896.9 904.4 899.9 903.3C902.9 902.1 929.0 892.7 933.2 891.6C937.3 890.5 979.1 881.3 983.1 880.6C987.2 879.9 1010.7 878.4 1015.0 878.3C1019.3 878.2 1063.3 878.1 1068.3 878.3C1073.3 878.4 1110.1 881.0 1114.9 881.6C1119.8 882.2 1159.9 889.0 1164.9 889.9C1169.9 890.8 1209.9 898.8 1214.9 899.9C1219.9 901.1 1260.2 911.9 1264.8 913.3C1269.5 914.6 1304.6 925.4 1308.1 926.6C1311.6 927.7 1332.8 934.9 1334.8 936.6C1336.7 938.2 1347.1 957.6 1347.1 959.9C1347.1 962.1 1336.4 979.9 1334.8 981.5C1333.2 983.2 1317.5 991.9 1314.8 993.2C1312.1 994.4 1285.7 1005.1 1281.5 1006.5C1277.3 1007.9 1236.5 1020.3 1231.5 1021.5C1226.5 1022.8 1186.6 1030.7 1181.6 1031.5C1176.6 1032.3 1136.6 1037.7 1131.6 1038.2C1126.6 1038.6 1087.5 1040.4 1081.6 1040.5C1075.8 1040.6 1019.9 1040.2 1015.0 1040.2C1010.1 1040.1 987.2 1039.4 983.1 1039.2C979.1 1038.9 937.3 1035.2 933.2 1034.8C929.0 1034.5 903.2 1031.8 899.9 1031.5C896.5 1031.3 869.9 1030.0 866.6 1029.8C863.2 1029.7 836.6 1028.6 833.2 1028.2C829.9 1027.8 803.3 1022.3 799.9 1021.5C796.6 1020.8 770.0 1014.1 766.6 1013.2C763.3 1012.3 734.8 1004.7 733.3 1003.2Z" fill="#00ffa5"/>
<path d="M1329.7 961.0C1329.6 962.5 1321.9 974.6 1320.6 976.1C1319.4 977.5 1306.1 987.9 1304.1 989.1C1302.2 990.2 1284.4 998.2 1282.3 999.0C1280.2 999.9 1263.7 1006.1 1261.8 1006.8C1259.8 1007.4 1244.9 1012.1 1243.2 1012.7C1241.4 1013.2 1228.8 1017.0 1227.2 1017.4C1225.7 1017.8 1213.8 1020.6 1212.4 1020.9C1211.1 1021.2 1200.6 1023.3 1199.4 1023.6C1198.1 1023.8 1189.1 1025.7 1188.1 1025.9C1187.0 1026.1 1179.1 1027.7 1178.1 1027.9C1177.2 1028.0 1169.6 1029.1 1168.8 1029.2C1167.9 1029.3 1161.1 1030.2 1160.3 1030.3C1159.5 1030.4 1153.5 1031.3 1152.7 1031.4C1152.0 1031.5 1146.4 1032.2 1145.7 1032.3C1145.1 1032.4 1139.9 1033.1 1139.2 1033.2C1138.6 1033.3 1133.7 1033.8 1133.1 1033.9C1132.5 1034.0 1127.8 1034.4 1127.2 1034.4C1126.6 1034.5 1122.1 1034.7 1121.5 1034.7C1121.0 1034.7 1116.6 1035.0 1116.1 1035.0C1115.6 1035.0 1111.4 1035.2 1110.9 1035.2C1110.4 1035.3 1106.3 1035.5 1105.8 1035.5C1105.3 1035.5 1101.3 1035.7 1100.8 1035.7C1100.3 1035.8 1096.4 1035.9 1095.9 1036.0C1095.4 1036.0 1091.5 1036.1 1091.0 1036.1C1090.5 1036.2 1086.6 1036.3 1086.1 1036.3C1085.6 1036.4 1081.6 1036.5 1081.1 1036.5C1080.6 1036.5 1076.5 1036.5 1076.0 1036.5C1075.5 1036.5 1071.3 1036.5 1070.8 1036.5C1070.2 1036.5 1065.9 1036.5 1065.4 1036.5C1064.8 1036.5 1060.3 1036.5 1059.7 1036.5C1059.2 1036.5 1054.4 1036.4 1053.8 1036.4C1053.2 1036.4 1048.2 1036.3 1047.5 1036.3C1046.9 1036.3 1041.5 1036.2 1040.8 1036.2C1040.1 1036.2 1034.2 1036.1 1033.4 1036.1C1032.6 1036.0 1026.2 1035.9 1025.3 1035.9C1024.4 1035.9 1017.2 1035.7 1016.3 1035.7C1015.4 1035.7 1007.4 1035.3 1006.4 1035.2C1005.3 1035.2 996.2 1034.7 995.0 1034.7C993.8 1034.6 983.6 1033.8 982.2 1033.7C980.8 1033.6 969.0 1032.5 967.4 1032.4C965.7 1032.2 951.5 1031.0 949.5 1030.8C947.5 1030.6 930.2 1028.9 927.7 1028.6C925.2 1028.4 902.8 1026.3 899.4 1026.0C896.0 1025.8 863.5 1023.6 859.5 1023.0C855.6 1022.5 824.3 1015.9 820.2 1014.9C816.2 1013.8 780.5 1003.8 778.0 1002.2C775.5 1000.6 769.4 984.1 770.2 982.0C770.9 980.0 790.1 962.9 792.5 961.0C795.0 959.1 816.9 944.8 819.7 943.2C822.6 941.6 846.2 930.4 849.4 929.2C852.6 928.0 881.0 920.7 883.8 919.8C886.6 918.9 903.4 912.1 905.4 911.3C907.4 910.5 922.1 904.9 923.8 904.2C925.5 903.6 938.6 899.0 940.2 898.5C941.8 898.0 954.4 894.8 955.9 894.4C957.5 894.0 969.0 891.6 970.4 891.4C971.7 891.1 981.6 889.0 982.8 888.7C984.0 888.5 993.0 886.8 994.1 886.6C995.2 886.5 1004.0 885.7 1005.1 885.7C1006.1 885.6 1013.9 884.9 1014.9 884.9C1015.8 884.8 1023.0 884.5 1023.9 884.4C1024.7 884.4 1031.4 884.4 1032.2 884.4C1033.0 884.3 1039.0 884.3 1039.7 884.3C1040.5 884.3 1046.0 884.2 1046.7 884.2C1047.3 884.2 1052.5 884.2 1053.1 884.2C1053.7 884.2 1058.6 884.1 1059.2 884.1C1059.8 884.1 1064.3 884.1 1064.9 884.1C1065.5 884.1 1069.9 884.2 1070.4 884.2C1071.0 884.2 1075.3 884.5 1075.8 884.5C1076.3 884.5 1080.5 884.8 1081.0 884.8C1081.5 884.8 1085.5 885.0 1086.0 885.1C1086.5 885.1 1090.5 885.3 1091.0 885.4C1091.5 885.4 1095.4 885.6 1095.9 885.6C1096.4 885.7 1100.4 885.9 1100.9 885.9C1101.4 886.0 1105.4 886.2 1105.9 886.3C1106.4 886.3 1110.4 886.6 1110.9 886.6C1111.4 886.7 1115.5 887.1 1116.1 887.2C1116.6 887.3 1120.7 887.9 1121.3 887.9C1121.8 888.0 1126.1 888.6 1126.6 888.7C1127.2 888.8 1131.7 889.5 1132.3 889.5C1132.8 889.6 1137.6 890.3 1138.2 890.4C1138.8 890.5 1143.8 891.2 1144.5 891.3C1145.1 891.4 1150.5 892.3 1151.2 892.4C1151.9 892.5 1157.7 893.4 1158.5 893.5C1159.2 893.6 1165.5 894.8 1166.4 894.9C1167.2 895.1 1174.1 896.3 1175.1 896.5C1176.0 896.7 1183.7 898.1 1184.8 898.3C1185.8 898.5 1194.5 900.3 1195.6 900.6C1196.8 900.8 1206.9 902.9 1208.2 903.2C1209.6 903.5 1220.4 906.4 1221.9 906.8C1223.3 907.2 1236.1 910.7 1237.8 911.2C1239.6 911.6 1254.9 915.9 1257.0 916.5C1259.1 917.1 1276.9 922.7 1279.3 923.5C1281.7 924.4 1302.9 931.7 1305.0 932.8C1307.1 933.9 1320.7 944.5 1321.9 945.9C1323.1 947.3 1329.8 959.5 1329.7 961.0Z" fill="#00f07a"/>
<path d="M1312.9 961.0C1312.9 962.4 1305.2 973.7 1304.0 975.0C1302.8 976.3 1291.3 986.1 1289.7 987.2C1288.0 988.2 1272.2 995.8 1270.3 996.7C1268.4 997.5 1253.5 1003.4 1251.7 1004.1C1250.0 1004.7 1236.4 1009.3 1234.8 1009.8C1233.2 1010.3 1221.2 1013.9 1219.7 1014.3C1218.3 1014.7 1207.3 1017.4 1206.0 1017.7C1204.7 1018.0 1194.9 1020.1 1193.7 1020.3C1192.6 1020.5 1184.1 1022.3 1183.1 1022.5C1182.1 1022.7 1174.6 1024.3 1173.6 1024.4C1172.7 1024.6 1165.6 1025.6 1164.8 1025.7C1163.9 1025.8 1157.6 1026.7 1156.8 1026.8C1156.1 1026.9 1150.3 1027.7 1149.6 1027.8C1148.9 1027.9 1143.6 1028.7 1143.0 1028.8C1142.4 1028.8 1137.4 1029.5 1136.8 1029.5C1136.2 1029.6 1131.5 1030.1 1130.9 1030.1C1130.3 1030.2 1125.9 1030.5 1125.3 1030.6C1124.8 1030.6 1120.5 1030.8 1119.9 1030.9C1119.4 1030.9 1115.3 1031.1 1114.8 1031.1C1114.3 1031.2 1110.4 1031.4 1109.9 1031.4C1109.4 1031.4 1105.5 1031.6 1105.1 1031.7C1104.6 1031.7 1100.8 1031.9 1100.3 1031.9C1099.9 1031.9 1096.1 1032.1 1095.7 1032.1C1095.2 1032.1 1091.5 1032.2 1091.0 1032.2C1090.5 1032.2 1086.8 1032.4 1086.3 1032.4C1085.9 1032.4 1082.1 1032.5 1081.6 1032.5C1081.1 1032.5 1077.3 1032.5 1076.8 1032.5C1076.3 1032.5 1072.3 1032.6 1071.8 1032.6C1071.3 1032.6 1067.2 1032.6 1066.7 1032.6C1066.2 1032.6 1061.9 1032.6 1061.3 1032.6C1060.8 1032.6 1056.3 1032.5 1055.7 1032.5C1055.2 1032.5 1050.4 1032.3 1049.8 1032.3C1049.2 1032.3 1044.2 1032.1 1043.5 1032.1C1042.8 1032.1 1037.3 1031.9 1036.6 1031.9C1035.9 1031.9 1029.8 1031.7 1029.0 1031.6C1028.3 1031.6 1021.6 1031.4 1020.7 1031.3C1019.8 1031.3 1012.5 1030.8 1011.5 1030.7C1010.5 1030.6 1002.2 1030.1 1001.1 1030.0C1000.0 1029.9 990.6 1029.1 989.3 1029.0C988.0 1028.9 977.0 1027.8 975.5 1027.7C974.0 1027.5 960.8 1026.3 959.0 1026.1C957.1 1025.9 941.0 1024.3 938.7 1024.1C936.4 1023.8 916.4 1021.6 913.4 1021.3C910.5 1021.0 883.3 1018.1 879.9 1017.6C876.5 1017.0 849.8 1010.6 846.4 1009.7C843.0 1008.7 813.6 999.3 811.4 997.8C809.3 996.3 802.8 981.7 803.4 979.9C804.0 978.0 821.3 962.7 823.5 961.0C825.7 959.3 845.1 946.5 847.6 945.0C850.1 943.6 870.1 933.4 872.8 932.3C875.5 931.2 898.8 924.1 901.2 923.2C903.6 922.4 918.5 916.0 920.3 915.3C922.1 914.5 935.8 909.4 937.4 908.9C939.0 908.3 950.9 904.1 952.4 903.6C953.9 903.1 965.5 900.1 966.9 899.8C968.3 899.5 979.1 897.4 980.3 897.1C981.6 896.9 990.8 895.0 991.9 894.8C993.0 894.6 1001.2 893.0 1002.2 892.9C1003.3 892.7 1011.1 891.9 1012.1 891.8C1013.0 891.7 1020.1 891.0 1021.0 891.0C1021.8 890.9 1028.5 890.6 1029.2 890.6C1030.0 890.6 1036.1 890.4 1036.9 890.4C1037.6 890.4 1043.1 890.3 1043.8 890.3C1044.4 890.3 1049.5 890.2 1050.1 890.2C1050.7 890.2 1055.4 890.0 1056.0 890.0C1056.6 890.0 1061.1 890.0 1061.6 890.0C1062.1 890.0 1066.4 890.0 1066.9 890.0C1067.4 890.0 1071.5 890.0 1072.0 890.0C1072.5 890.0 1076.4 890.2 1076.9 890.2C1077.4 890.3 1081.2 890.4 1081.7 890.4C1082.2 890.5 1085.9 890.6 1086.4 890.6C1086.9 890.7 1090.5 890.8 1091.0 890.8C1091.5 890.8 1095.1 891.0 1095.6 891.0C1096.0 891.0 1099.7 891.2 1100.2 891.2C1100.6 891.2 1104.4 891.5 1104.8 891.5C1105.3 891.6 1109.1 891.8 1109.5 891.8C1110.0 891.9 1113.8 892.2 1114.3 892.3C1114.8 892.4 1118.7 892.8 1119.2 892.9C1119.7 892.9 1123.8 893.4 1124.3 893.5C1124.8 893.6 1129.1 894.1 1129.6 894.1C1130.1 894.2 1134.6 894.7 1135.2 894.8C1135.8 894.9 1140.6 895.5 1141.2 895.5C1141.8 895.6 1146.9 896.4 1147.6 896.5C1148.2 896.6 1153.8 897.4 1154.5 897.5C1155.2 897.6 1161.2 898.6 1162.0 898.7C1162.8 898.8 1169.5 899.9 1170.4 900.1C1171.3 900.3 1178.7 901.6 1179.7 901.8C1180.6 901.9 1188.8 903.7 1189.9 903.9C1191.0 904.2 1200.4 906.1 1201.6 906.4C1202.9 906.7 1213.1 909.5 1214.5 909.8C1215.9 910.2 1227.8 913.6 1229.4 914.0C1231.0 914.5 1245.3 918.6 1247.2 919.2C1249.1 919.7 1265.7 925.0 1267.8 925.8C1270.0 926.6 1288.5 933.7 1290.3 934.8C1292.1 935.8 1303.5 945.7 1304.7 947.0C1305.8 948.3 1313.0 959.6 1312.9 961.0Z" fill="#00ff40"/>
<path d="M1296.1 961.0C1296.1 962.3 1288.4 972.7 1287.4 973.9C1286.3 975.1 1276.6 984.2 1275.2 985.2C1273.7 986.3 1260.0 993.5 1258.4 994.3C1256.7 995.1 1243.3 1000.8 1241.7 1001.4C1240.1 1002.0 1227.9 1006.5 1226.4 1007.0C1224.9 1007.5 1213.6 1010.8 1212.2 1011.2C1210.9 1011.6 1200.9 1014.3 1199.6 1014.6C1198.4 1014.9 1189.2 1016.8 1188.1 1017.1C1187.0 1017.3 1179.0 1019.0 1178.1 1019.2C1177.1 1019.4 1170.0 1020.8 1169.2 1021.0C1168.3 1021.1 1161.6 1022.1 1160.8 1022.2C1160.0 1022.3 1154.0 1023.2 1153.3 1023.3C1152.6 1023.4 1147.1 1024.2 1146.5 1024.3C1145.8 1024.4 1140.9 1025.1 1140.2 1025.2C1139.6 1025.3 1134.9 1025.8 1134.4 1025.9C1133.8 1025.9 1129.3 1026.3 1128.7 1026.3C1128.2 1026.4 1123.9 1026.7 1123.4 1026.7C1122.9 1026.8 1118.8 1027.0 1118.3 1027.0C1117.8 1027.0 1114.0 1027.3 1113.5 1027.3C1113.0 1027.3 1109.3 1027.5 1108.8 1027.6C1108.4 1027.6 1104.7 1027.8 1104.3 1027.8C1103.8 1027.8 1100.3 1028.1 1099.8 1028.1C1099.4 1028.1 1095.8 1028.2 1095.4 1028.2C1095.0 1028.2 1091.4 1028.3 1091.0 1028.3C1090.6 1028.3 1087.0 1028.4 1086.6 1028.4C1086.1 1028.4 1082.6 1028.5 1082.1 1028.5C1081.7 1028.5 1078.0 1028.6 1077.6 1028.6C1077.1 1028.6 1073.4 1028.6 1072.9 1028.6C1072.4 1028.6 1068.5 1028.6 1068.0 1028.7C1067.5 1028.7 1063.5 1028.7 1063.0 1028.7C1062.4 1028.7 1058.2 1028.6 1057.7 1028.6C1057.1 1028.5 1052.7 1028.3 1052.2 1028.3C1051.6 1028.3 1046.8 1028.0 1046.2 1028.0C1045.6 1028.0 1040.5 1027.7 1039.8 1027.7C1039.2 1027.7 1033.5 1027.4 1032.8 1027.4C1032.1 1027.3 1025.9 1027.0 1025.0 1027.0C1024.2 1026.9 1017.6 1026.3 1016.7 1026.2C1015.8 1026.1 1008.2 1025.4 1007.2 1025.3C1006.2 1025.2 997.6 1024.3 996.4 1024.2C995.2 1024.1 985.1 1023.1 983.7 1023.0C982.3 1022.8 970.1 1021.6 968.4 1021.4C966.7 1021.3 951.7 1019.8 949.7 1019.5C947.6 1019.3 929.9 1016.9 927.4 1016.5C924.9 1016.2 903.0 1012.7 900.3 1012.1C897.5 1011.5 875.3 1005.4 872.5 1004.5C869.8 1003.5 846.6 994.8 844.8 993.4C843.0 992.1 836.1 979.3 836.5 977.7C837.0 976.1 852.5 962.5 854.4 961.0C856.4 959.5 873.4 948.2 875.5 946.9C877.6 945.6 894.0 936.4 896.1 935.3C898.3 934.3 916.7 927.5 918.6 926.7C920.5 925.9 933.5 919.9 935.1 919.2C936.7 918.6 949.5 914.0 951.0 913.5C952.5 912.9 963.3 909.1 964.7 908.7C966.0 908.3 976.6 905.5 977.8 905.2C979.1 904.9 989.1 903.1 990.3 902.8C991.4 902.6 999.9 901.0 1001.0 900.8C1002.0 900.6 1009.5 899.3 1010.4 899.1C1011.3 899.0 1018.2 898.0 1019.1 897.9C1019.9 897.8 1026.3 897.2 1027.1 897.1C1027.9 897.1 1033.9 896.8 1034.6 896.7C1035.4 896.7 1040.9 896.5 1041.5 896.5C1042.2 896.5 1047.2 896.3 1047.8 896.3C1048.4 896.3 1053.0 896.1 1053.5 896.1C1054.1 896.1 1058.4 895.9 1058.9 895.9C1059.4 895.9 1063.5 895.9 1064.0 895.9C1064.5 895.9 1068.4 895.9 1068.9 895.9C1069.4 895.9 1073.1 895.9 1073.6 895.9C1074.0 895.9 1077.6 896.0 1078.1 896.0C1078.5 896.0 1082.0 896.1 1082.5 896.1C1082.9 896.1 1086.3 896.2 1086.8 896.2C1087.2 896.2 1090.6 896.3 1091.0 896.3C1091.4 896.3 1094.8 896.4 1095.2 896.4C1095.7 896.4 1099.1 896.5 1099.5 896.5C1099.9 896.5 1103.3 896.7 1103.8 896.8C1104.2 896.8 1107.7 897.0 1108.1 897.1C1108.6 897.1 1112.1 897.4 1112.6 897.4C1113.0 897.4 1116.7 897.8 1117.2 897.8C1117.6 897.9 1121.4 898.2 1121.9 898.3C1122.4 898.3 1126.4 898.7 1126.9 898.7C1127.5 898.8 1131.7 899.2 1132.3 899.2C1132.8 899.3 1137.4 899.7 1138.0 899.8C1138.6 899.8 1143.3 900.5 1144.0 900.6C1144.6 900.7 1149.8 901.4 1150.5 901.5C1151.2 901.6 1156.9 902.4 1157.7 902.5C1158.4 902.6 1164.8 903.6 1165.7 903.7C1166.5 903.8 1173.6 905.0 1174.6 905.2C1175.5 905.3 1183.0 907.0 1184.1 907.3C1185.1 907.5 1193.9 909.4 1195.0 909.7C1196.2 910.0 1205.9 912.5 1207.2 912.9C1208.5 913.2 1219.5 916.4 1221.0 916.9C1222.5 917.3 1235.6 921.2 1237.3 921.8C1239.1 922.3 1254.4 927.4 1256.4 928.1C1258.3 928.9 1274.1 935.7 1275.6 936.7C1277.2 937.7 1286.4 946.9 1287.5 948.1C1288.5 949.3 1296.1 959.7 1296.1 961.0Z" fill="#00f222"/>
<path d="M863.2 981.5C862.2 979.4 883.9 962.0 886.5 959.9C889.2 957.8 913.4 941.7 916.5 939.9C919.7 938.1 946.5 924.7 949.8 923.2C953.2 921.8 979.1 912.6 983.1 911.6C987.1 910.6 1025.9 903.9 1029.9 903.4C1033.9 902.9 1059.4 901.8 1062.9 901.8C1066.3 901.7 1095.0 901.6 1098.6 901.8C1102.1 901.9 1130.9 903.6 1134.3 904.0C1137.7 904.3 1164.2 907.6 1167.3 908.1C1170.3 908.6 1192.0 913.7 1194.7 914.4C1197.5 915.1 1219.7 921.9 1222.2 922.6C1224.7 923.4 1242.3 929.3 1244.2 930.1C1246.1 930.8 1258.9 936.8 1260.7 938.3C1262.4 939.8 1279.7 958.1 1279.9 960.3C1280.1 962.4 1266.6 979.2 1264.8 980.9C1263.0 982.5 1246.3 992.1 1244.2 993.2C1242.0 994.3 1224.7 1002.0 1222.2 1002.9C1219.7 1003.8 1197.5 1010.4 1194.7 1011.1C1192.0 1011.8 1170.3 1016.6 1167.3 1017.1C1164.2 1017.7 1137.7 1021.7 1134.3 1022.1C1130.9 1022.4 1102.1 1024.1 1098.6 1024.3C1095.0 1024.4 1066.3 1024.9 1062.9 1024.8C1059.4 1024.8 1032.9 1022.9 1029.9 1022.6C1026.9 1022.4 1006.4 1019.8 1002.4 1019.3C998.4 1018.9 954.6 1014.7 949.8 1013.9C945.0 1013.0 910.9 1004.8 906.5 1003.2C902.2 1001.6 864.2 983.7 863.2 981.5Z" fill="#00ff00"/>
<path d="M1266.0 961.0C1266.0 962.1 1259.2 970.9 1258.4 972.0C1257.6 973.0 1250.9 981.0 1249.8 981.9C1248.7 982.8 1238.3 989.3 1237.0 990.0C1235.7 990.8 1224.7 995.9 1223.4 996.5C1222.1 997.1 1211.8 1001.1 1210.5 1001.6C1209.2 1002.0 1199.1 1005.0 1198.0 1005.3C1196.8 1005.7 1188.3 1008.2 1187.2 1008.5C1186.2 1008.7 1178.0 1010.5 1177.0 1010.7C1176.1 1010.9 1169.0 1012.4 1168.2 1012.6C1167.3 1012.7 1161.0 1014.0 1160.2 1014.1C1159.5 1014.2 1153.6 1015.2 1152.9 1015.3C1152.2 1015.4 1146.9 1016.2 1146.3 1016.3C1145.7 1016.4 1140.8 1017.1 1140.3 1017.2C1139.7 1017.2 1135.2 1017.9 1134.7 1017.9C1134.2 1018.0 1129.9 1018.5 1129.4 1018.5C1128.9 1018.6 1124.9 1018.8 1124.4 1018.9C1123.9 1018.9 1120.2 1019.2 1119.7 1019.2C1119.2 1019.2 1115.7 1019.5 1115.2 1019.5C1114.8 1019.5 1111.4 1019.8 1111.0 1019.8C1110.5 1019.8 1107.2 1020.1 1106.8 1020.1C1106.4 1020.1 1103.2 1020.3 1102.8 1020.4C1102.4 1020.4 1099.2 1020.6 1098.8 1020.6C1098.5 1020.6 1095.3 1020.7 1094.9 1020.7C1094.5 1020.7 1091.4 1020.7 1091.0 1020.7C1090.6 1020.7 1087.5 1020.8 1087.1 1020.8C1086.7 1020.8 1083.5 1020.8 1083.1 1020.8C1082.7 1020.8 1079.5 1020.9 1079.1 1020.9C1078.7 1020.9 1075.4 1020.9 1074.9 1020.9C1074.5 1020.9 1071.1 1021.0 1070.6 1021.0C1070.2 1021.0 1066.6 1021.0 1066.1 1021.0C1065.7 1021.0 1061.9 1020.9 1061.5 1020.9C1061.0 1020.9 1057.1 1020.7 1056.6 1020.6C1056.1 1020.6 1051.9 1020.3 1051.4 1020.3C1050.9 1020.2 1046.4 1019.9 1045.8 1019.9C1045.2 1019.8 1040.4 1019.5 1039.7 1019.5C1039.1 1019.4 1033.7 1019.0 1033.0 1019.0C1032.3 1018.9 1026.6 1018.2 1025.8 1018.2C1025.1 1018.1 1018.6 1017.4 1017.7 1017.2C1016.8 1017.1 1009.5 1016.2 1008.5 1016.1C1007.5 1016.0 998.9 1015.0 997.7 1014.9C996.5 1014.7 986.1 1013.6 984.7 1013.4C983.3 1013.2 971.0 1011.6 969.4 1011.4C967.8 1011.1 954.2 1008.5 952.4 1008.1C950.6 1007.6 935.7 1003.7 933.8 1003.1C931.9 1002.5 916.5 996.9 914.6 996.1C912.7 995.3 897.7 987.7 896.5 986.6C895.2 985.5 889.4 975.5 889.7 974.2C889.9 972.9 899.6 962.2 900.9 961.0C902.3 959.8 915.1 950.6 916.6 949.6C918.1 948.5 929.7 940.8 931.2 940.0C932.6 939.1 944.6 932.9 946.0 932.2C947.4 931.4 957.9 926.3 959.3 925.7C960.6 925.1 971.5 921.3 972.8 920.9C974.1 920.4 983.4 917.2 984.5 916.9C985.7 916.6 994.7 914.3 995.8 914.1C996.9 913.8 1005.4 912.3 1006.4 912.2C1007.4 912.0 1014.6 910.7 1015.5 910.6C1016.4 910.4 1022.8 909.4 1023.5 909.2C1024.3 909.1 1030.0 908.2 1030.6 908.1C1031.3 908.0 1036.7 907.4 1037.3 907.3C1037.9 907.2 1043.0 906.9 1043.6 906.9C1044.2 906.9 1048.7 906.6 1049.2 906.6C1049.8 906.5 1054.0 906.3 1054.5 906.3C1055.0 906.3 1058.8 906.1 1059.3 906.1C1059.8 906.1 1063.4 905.9 1063.8 905.9C1064.2 905.8 1067.7 905.8 1068.1 905.8C1068.6 905.8 1071.8 905.8 1072.2 905.8C1072.6 905.7 1075.8 905.7 1076.2 905.7C1076.6 905.7 1079.6 905.7 1080.0 905.7C1080.4 905.7 1083.3 905.7 1083.7 905.7C1084.1 905.7 1087.0 905.6 1087.4 905.6C1087.7 905.6 1090.6 905.6 1091.0 905.6C1091.4 905.6 1094.3 905.6 1094.6 905.6C1095.0 905.6 1097.9 905.7 1098.3 905.7C1098.7 905.7 1101.6 905.8 1102.0 905.9C1102.3 905.9 1105.3 906.1 1105.7 906.1C1106.1 906.1 1109.2 906.3 1109.6 906.3C1110.0 906.3 1113.2 906.5 1113.6 906.5C1114.0 906.5 1117.3 906.7 1117.8 906.7C1118.2 906.8 1121.7 907.0 1122.2 907.0C1122.6 907.0 1126.4 907.2 1126.9 907.2C1127.4 907.3 1131.5 907.5 1132.0 907.6C1132.5 907.6 1136.8 908.1 1137.3 908.2C1137.9 908.2 1142.5 908.8 1143.1 908.9C1143.7 909.0 1148.8 909.6 1149.5 909.7C1150.2 909.8 1155.9 910.5 1156.7 910.6C1157.5 910.7 1163.9 911.6 1164.7 911.7C1165.5 911.9 1172.3 913.3 1173.3 913.5C1174.2 913.7 1181.9 915.4 1182.9 915.7C1183.9 915.9 1192.5 918.2 1193.6 918.5C1194.8 918.8 1204.4 921.7 1205.7 922.1C1207.0 922.5 1218.1 926.0 1219.6 926.5C1221.1 927.1 1234.0 931.6 1235.5 932.3C1237.0 932.9 1248.0 939.3 1249.2 940.2C1250.3 941.1 1256.9 949.0 1257.7 950.1C1258.5 951.1 1266.0 959.9 1266.0 961.0Z" fill="#2dff00"/>
<path d="M1252.6 961.0C1252.7 962.0 1246.7 970.2 1246.0 971.2C1245.4 972.1 1239.8 979.6 1238.9 980.5C1238.0 981.3 1228.7 987.5 1227.5 988.2C1226.4 988.9 1216.4 993.7 1215.1 994.3C1213.9 994.8 1204.2 998.6 1203.0 999.0C1201.8 999.4 1192.3 1002.2 1191.3 1002.5C1190.2 1002.8 1182.2 1005.2 1181.2 1005.5C1180.2 1005.7 1172.5 1007.4 1171.6 1007.5C1170.7 1007.7 1164.0 1009.1 1163.2 1009.3C1162.4 1009.4 1156.5 1010.6 1155.8 1010.7C1155.0 1010.8 1149.6 1011.7 1148.9 1011.8C1148.3 1011.9 1143.4 1012.7 1142.8 1012.8C1142.2 1012.9 1137.7 1013.5 1137.1 1013.6C1136.6 1013.7 1132.4 1014.2 1131.9 1014.3C1131.4 1014.3 1127.4 1014.8 1127.0 1014.8C1126.5 1014.9 1122.7 1015.1 1122.3 1015.2C1121.8 1015.2 1118.3 1015.5 1117.9 1015.5C1117.5 1015.5 1114.1 1015.8 1113.7 1015.8C1113.3 1015.9 1110.1 1016.1 1109.7 1016.2C1109.3 1016.2 1106.2 1016.4 1105.9 1016.5C1105.5 1016.5 1102.5 1016.7 1102.1 1016.7C1101.7 1016.8 1098.7 1017.0 1098.4 1017.0C1098.0 1017.0 1095.0 1017.0 1094.7 1017.0C1094.3 1017.0 1091.4 1017.1 1091.0 1017.1C1090.6 1017.1 1087.7 1017.1 1087.3 1017.1C1087.0 1017.1 1084.0 1017.1 1083.6 1017.1C1083.2 1017.1 1080.2 1017.2 1079.8 1017.2C1079.4 1017.2 1076.3 1017.2 1075.9 1017.2C1075.5 1017.2 1072.3 1017.2 1071.9 1017.2C1071.5 1017.2 1068.1 1017.3 1067.7 1017.3C1067.3 1017.3 1063.8 1017.2 1063.3 1017.2C1062.8 1017.2 1059.1 1017.0 1058.7 1017.0C1058.2 1017.0 1054.3 1016.7 1053.8 1016.6C1053.3 1016.6 1049.1 1016.3 1048.6 1016.3C1048.1 1016.2 1043.5 1015.9 1042.9 1015.8C1042.3 1015.8 1037.3 1015.4 1036.6 1015.4C1036.0 1015.3 1030.5 1014.7 1029.8 1014.7C1029.1 1014.6 1022.9 1014.0 1022.1 1013.9C1021.3 1013.8 1014.5 1012.9 1013.5 1012.8C1012.6 1012.6 1004.6 1011.6 1003.5 1011.5C1002.4 1011.4 992.8 1010.2 991.6 1010.0C990.3 1009.8 979.6 1008.0 978.2 1007.7C976.8 1007.5 964.9 1004.7 963.4 1004.3C961.8 1003.9 948.7 1000.1 947.1 999.6C945.4 999.0 932.1 993.7 930.5 992.9C928.9 992.2 915.8 985.2 914.7 984.2C913.7 983.2 909.5 974.0 909.6 972.9C909.7 971.7 915.5 962.1 916.5 961.0C917.5 959.9 928.6 951.4 929.9 950.4C931.2 949.5 941.5 942.3 942.9 941.5C944.2 940.7 954.7 934.8 956.0 934.1C957.2 933.5 967.3 928.7 968.6 928.2C969.9 927.7 979.8 924.1 981.0 923.7C982.2 923.3 991.0 920.4 992.1 920.0C993.2 919.7 1001.8 917.7 1002.8 917.5C1003.8 917.3 1011.6 915.9 1012.5 915.7C1013.5 915.5 1020.2 914.4 1021.0 914.2C1021.8 914.1 1027.8 913.2 1028.6 913.1C1029.3 913.0 1034.6 912.2 1035.2 912.1C1035.9 912.0 1040.8 911.4 1041.4 911.4C1041.9 911.3 1046.5 910.9 1047.1 910.9C1047.6 910.9 1051.8 910.6 1052.3 910.5C1052.8 910.5 1056.7 910.3 1057.1 910.3C1057.6 910.3 1061.2 910.1 1061.6 910.1C1062.0 910.1 1065.4 909.9 1065.8 909.9C1066.2 909.9 1069.4 909.8 1069.8 909.8C1070.2 909.8 1073.2 909.7 1073.6 909.7C1074.0 909.7 1076.9 909.7 1077.2 909.7C1077.6 909.7 1080.4 909.6 1080.8 909.6C1081.1 909.6 1083.9 909.6 1084.2 909.6C1084.6 909.6 1087.3 909.5 1087.6 909.5C1088.0 909.5 1090.7 909.5 1091.0 909.5C1091.3 909.5 1094.0 909.5 1094.4 909.5C1094.7 909.5 1097.4 909.5 1097.8 909.6C1098.1 909.6 1100.9 909.7 1101.2 909.7C1101.5 909.7 1104.3 909.9 1104.7 909.9C1105.0 909.9 1107.9 910.0 1108.3 910.1C1108.7 910.1 1111.6 910.2 1112.0 910.2C1112.4 910.3 1115.5 910.4 1115.9 910.4C1116.3 910.5 1119.6 910.6 1120.1 910.6C1120.5 910.7 1124.0 910.8 1124.5 910.8C1125.0 910.9 1128.8 911.1 1129.3 911.1C1129.8 911.1 1133.8 911.6 1134.3 911.6C1134.8 911.7 1139.1 912.2 1139.7 912.3C1140.3 912.4 1145.1 913.0 1145.7 913.0C1146.3 913.1 1151.7 913.8 1152.4 913.9C1153.1 914.0 1159.2 914.8 1160.0 914.9C1160.8 915.0 1167.4 916.2 1168.2 916.4C1169.1 916.6 1176.4 918.2 1177.4 918.4C1178.3 918.6 1186.3 920.8 1187.4 921.1C1188.5 921.4 1197.7 924.0 1198.9 924.4C1200.1 924.7 1210.3 928.2 1211.7 928.7C1213.0 929.2 1224.8 933.5 1226.1 934.1C1227.4 934.8 1236.4 940.9 1237.4 941.7C1238.3 942.6 1244.4 949.9 1245.1 950.9C1245.9 951.9 1252.6 960.0 1252.6 961.0Z" fill="#64ff00"/>
<path d="M1239.3 961.0C1239.3 961.9 1234.3 969.5 1233.7 970.4C1233.1 971.3 1228.8 978.2 1228.0 979.0C1227.2 979.8 1219.2 985.6 1218.1 986.3C1217.1 986.9 1208.0 991.5 1206.8 992.0C1205.7 992.5 1196.6 996.1 1195.5 996.5C1194.3 996.8 1185.5 999.4 1184.5 999.7C1183.5 1000.0 1176.1 1002.3 1175.2 1002.5C1174.3 1002.7 1167.1 1004.2 1166.2 1004.4C1165.4 1004.6 1159.0 1005.8 1158.3 1006.0C1157.5 1006.1 1152.0 1007.2 1151.3 1007.3C1150.6 1007.4 1145.6 1008.3 1145.0 1008.4C1144.4 1008.5 1139.9 1009.3 1139.3 1009.3C1138.8 1009.4 1134.5 1010.0 1134.0 1010.1C1133.5 1010.1 1129.6 1010.6 1129.1 1010.6C1128.6 1010.7 1124.9 1011.1 1124.5 1011.1C1124.0 1011.1 1120.6 1011.4 1120.1 1011.5C1119.7 1011.5 1116.5 1011.8 1116.1 1011.8C1115.7 1011.9 1112.6 1012.1 1112.2 1012.2C1111.8 1012.2 1108.8 1012.5 1108.5 1012.5C1108.1 1012.5 1105.2 1012.8 1104.9 1012.8C1104.5 1012.9 1101.7 1013.1 1101.4 1013.1C1101.0 1013.2 1098.2 1013.3 1097.9 1013.4C1097.5 1013.4 1094.8 1013.4 1094.4 1013.4C1094.1 1013.4 1091.3 1013.4 1091.0 1013.4C1090.7 1013.4 1087.9 1013.4 1087.6 1013.4C1087.2 1013.4 1084.4 1013.4 1084.1 1013.4C1083.7 1013.4 1080.9 1013.4 1080.6 1013.4C1080.2 1013.4 1077.3 1013.5 1076.9 1013.5C1076.6 1013.5 1073.6 1013.5 1073.2 1013.5C1072.8 1013.5 1069.7 1013.5 1069.3 1013.5C1068.9 1013.5 1065.6 1013.5 1065.1 1013.4C1064.7 1013.4 1061.2 1013.4 1060.8 1013.4C1060.3 1013.3 1056.7 1013.0 1056.2 1013.0C1055.8 1013.0 1051.9 1012.7 1051.4 1012.6C1050.9 1012.6 1046.6 1012.3 1046.1 1012.2C1045.5 1012.2 1040.9 1011.8 1040.2 1011.8C1039.6 1011.7 1034.5 1011.2 1033.8 1011.1C1033.1 1011.1 1027.3 1010.5 1026.5 1010.5C1025.8 1010.4 1019.4 1009.5 1018.6 1009.4C1017.7 1009.3 1010.4 1008.3 1009.4 1008.1C1008.3 1008.0 999.5 1006.9 998.4 1006.7C997.3 1006.5 988.1 1004.4 986.9 1004.1C985.7 1003.8 975.7 1001.0 974.3 1000.6C973.0 1000.2 961.7 996.6 960.3 996.0C958.9 995.5 947.8 990.5 946.4 989.8C945.1 989.0 933.9 982.7 933.0 981.8C932.2 980.9 929.6 972.6 929.5 971.6C929.5 970.5 931.4 962.0 932.0 961.0C932.7 960.0 942.1 952.2 943.2 951.3C944.3 950.4 953.4 943.8 954.5 943.0C955.7 942.3 964.8 936.7 965.9 936.1C967.1 935.5 976.8 931.2 977.9 930.7C979.1 930.2 988.1 926.8 989.2 926.5C990.3 926.1 998.7 923.5 999.7 923.2C1000.7 922.9 1008.9 921.2 1009.8 921.0C1010.8 920.8 1017.9 919.4 1018.7 919.3C1019.5 919.1 1025.7 918.0 1026.5 917.9C1027.2 917.8 1032.9 917.0 1033.6 916.9C1034.2 916.8 1039.2 916.2 1039.8 916.1C1040.4 916.0 1044.9 915.5 1045.4 915.4C1045.9 915.3 1050.1 915.0 1050.6 914.9C1051.1 914.9 1054.9 914.5 1055.3 914.5C1055.8 914.5 1059.4 914.3 1059.8 914.3C1060.2 914.3 1063.5 914.1 1063.9 914.1C1064.3 914.1 1067.4 914.0 1067.8 914.0C1068.2 913.9 1071.1 913.8 1071.5 913.8C1071.8 913.8 1074.6 913.7 1075.0 913.7C1075.3 913.7 1078.0 913.6 1078.3 913.6C1078.6 913.6 1081.2 913.6 1081.6 913.5C1081.9 913.5 1084.4 913.5 1084.7 913.5C1085.1 913.4 1087.6 913.4 1087.9 913.4C1088.2 913.4 1090.7 913.3 1091.0 913.3C1091.3 913.3 1093.8 913.4 1094.1 913.4C1094.4 913.4 1096.9 913.4 1097.3 913.4C1097.6 913.5 1100.1 913.6 1100.4 913.6C1100.8 913.6 1103.3 913.7 1103.7 913.7C1104.0 913.7 1106.7 913.8 1107.0 913.8C1107.3 913.9 1110.1 914.0 1110.5 914.0C1110.8 914.0 1113.7 914.1 1114.1 914.1C1114.5 914.1 1117.6 914.3 1118.0 914.3C1118.4 914.3 1121.7 914.4 1122.1 914.4C1122.5 914.5 1126.1 914.6 1126.6 914.6C1127.0 914.7 1130.8 915.0 1131.3 915.1C1131.8 915.1 1135.8 915.6 1136.3 915.7C1136.8 915.8 1141.3 916.3 1141.9 916.4C1142.5 916.4 1147.5 917.1 1148.1 917.1C1148.8 917.2 1154.5 918.0 1155.2 918.1C1156.0 918.2 1162.4 919.2 1163.2 919.3C1164.1 919.5 1170.9 920.9 1171.8 921.1C1172.7 921.4 1180.2 923.4 1181.2 923.6C1182.2 923.9 1191.0 926.3 1192.1 926.7C1193.2 927.0 1202.5 930.3 1203.8 930.8C1205.0 931.2 1215.7 935.4 1216.8 936.0C1217.9 936.6 1224.8 942.5 1225.6 943.3C1226.4 944.1 1231.9 950.8 1232.6 951.7C1233.3 952.6 1239.2 960.1 1239.3 961.0Z" fill="#9bff00"/>
<path d="M947.5 960.3C948.0 958.6 959.7 949.1 961.2 947.9C962.7 946.7 975.6 938.0 977.7 936.9C979.8 935.9 999.8 928.1 1002.4 927.3C1005.0 926.6 1027.1 922.3 1029.9 921.8C1032.6 921.4 1054.3 918.8 1057.4 918.5C1060.4 918.3 1086.9 917.2 1090.3 917.1C1093.8 917.1 1122.5 918.0 1126.0 918.2C1129.6 918.5 1158.6 922.0 1161.8 922.6C1164.9 923.2 1186.9 929.3 1189.2 930.1C1191.6 930.8 1206.6 936.8 1208.5 938.3C1210.3 939.8 1226.0 958.1 1226.3 960.3C1226.7 962.4 1216.9 979.3 1215.3 980.9C1213.8 982.5 1197.1 990.9 1194.7 991.9C1192.3 992.8 1170.3 999.4 1167.3 1000.1C1164.2 1000.8 1137.7 1005.7 1134.3 1006.2C1130.9 1006.6 1102.1 1009.5 1098.6 1009.7C1095.0 1009.9 1066.3 1009.9 1062.9 1009.7C1059.4 1009.6 1032.9 1007.3 1029.9 1007.0C1026.9 1006.6 1005.2 1003.5 1002.4 1002.9C999.7 1002.2 977.5 994.3 974.9 993.2C972.4 992.1 953.0 982.5 951.6 980.9C950.2 979.2 947.0 961.9 947.5 960.3Z" fill="#d0ff00"/>
<path d="M1214.9 961.0C1214.9 961.8 1210.5 968.0 1210.0 968.8C1209.6 969.6 1206.1 975.4 1205.5 976.1C1204.9 976.7 1198.6 981.7 1197.8 982.2C1196.9 982.8 1189.8 986.8 1188.9 987.2C1188.0 987.7 1180.6 990.8 1179.6 991.1C1178.7 991.4 1171.0 993.5 1170.2 993.8C1169.3 994.0 1162.9 995.9 1162.2 996.1C1161.4 996.3 1155.3 997.6 1154.6 997.7C1153.9 997.8 1148.5 998.9 1147.9 999.0C1147.2 999.1 1142.5 1000.0 1141.9 1000.1C1141.4 1000.2 1137.1 1000.9 1136.6 1001.0C1136.1 1001.0 1132.2 1001.7 1131.8 1001.8C1131.3 1001.8 1127.7 1002.3 1127.2 1002.3C1126.8 1002.3 1123.4 1002.7 1123.0 1002.7C1122.6 1002.8 1119.5 1003.1 1119.1 1003.1C1118.8 1003.1 1115.9 1003.4 1115.5 1003.5C1115.2 1003.5 1112.4 1003.8 1112.1 1003.8C1111.8 1003.8 1109.2 1004.1 1108.9 1004.1C1108.5 1004.1 1106.0 1004.4 1105.7 1004.4C1105.4 1004.4 1103.0 1004.7 1102.7 1004.7C1102.4 1004.7 1100.0 1004.9 1099.7 1005.0C1099.5 1005.0 1097.1 1005.1 1096.8 1005.1C1096.5 1005.1 1094.2 1005.1 1093.9 1005.1C1093.6 1005.1 1091.3 1005.1 1091.0 1005.1C1090.7 1005.1 1088.4 1005.1 1088.1 1005.1C1087.8 1005.1 1085.5 1005.1 1085.2 1005.1C1084.9 1005.1 1082.5 1005.1 1082.2 1005.1C1081.9 1005.1 1079.5 1005.1 1079.2 1005.1C1078.9 1005.1 1076.3 1005.1 1076.0 1005.1C1075.7 1005.1 1073.1 1005.1 1072.7 1005.1C1072.4 1005.1 1069.6 1005.1 1069.2 1005.1C1068.9 1005.1 1065.9 1005.1 1065.5 1005.1C1065.1 1005.1 1062.1 1004.9 1061.7 1004.9C1061.3 1004.8 1058.0 1004.6 1057.6 1004.6C1057.1 1004.5 1053.6 1004.2 1053.1 1004.2C1052.7 1004.1 1048.8 1003.8 1048.3 1003.7C1047.8 1003.7 1043.4 1003.3 1042.8 1003.2C1042.2 1003.2 1037.3 1002.8 1036.7 1002.7C1036.0 1002.6 1030.7 1001.9 1030.0 1001.8C1029.2 1001.7 1023.1 1000.8 1022.3 1000.7C1021.4 1000.6 1014.1 999.5 1013.2 999.3C1012.4 999.2 1005.3 997.1 1004.4 996.9C1003.5 996.6 995.8 994.0 994.7 993.7C993.7 993.3 984.5 990.3 983.4 989.8C982.4 989.4 974.5 985.0 973.6 984.4C972.6 983.7 965.0 978.4 964.5 977.7C963.9 976.9 962.5 970.3 962.2 969.4C962.0 968.6 959.6 961.8 959.9 961.0C960.2 960.2 967.1 953.7 967.9 952.9C968.8 952.2 975.8 946.6 976.7 946.0C977.6 945.3 984.8 940.6 985.7 940.1C986.7 939.5 995.1 936.0 996.1 935.6C997.1 935.2 1004.4 932.2 1005.3 931.9C1006.2 931.6 1013.4 929.4 1014.3 929.2C1015.2 929.0 1022.3 927.7 1023.1 927.5C1023.9 927.4 1029.8 926.2 1030.5 926.1C1031.2 925.9 1036.4 925.0 1037.0 924.9C1037.6 924.8 1042.4 924.2 1043.0 924.2C1043.6 924.1 1047.8 923.6 1048.3 923.5C1048.8 923.5 1052.6 923.1 1053.0 923.0C1053.5 923.0 1056.9 922.6 1057.3 922.5C1057.7 922.5 1060.8 922.2 1061.2 922.2C1061.6 922.1 1064.6 922.0 1064.9 922.0C1065.3 922.0 1068.0 921.8 1068.4 921.8C1068.7 921.8 1071.3 921.7 1071.6 921.7C1071.9 921.6 1074.3 921.5 1074.6 921.5C1074.9 921.5 1077.3 921.4 1077.5 921.4C1077.8 921.3 1080.1 921.2 1080.3 921.2C1080.6 921.2 1082.8 921.1 1083.1 921.1C1083.3 921.1 1085.5 921.0 1085.7 921.0C1086.0 921.0 1088.1 921.0 1088.4 920.9C1088.6 920.9 1090.7 920.9 1091.0 920.9C1091.3 920.9 1093.4 921.0 1093.6 921.0C1093.9 921.0 1096.0 921.1 1096.3 921.1C1096.5 921.1 1098.7 921.1 1098.9 921.1C1099.2 921.1 1101.4 921.2 1101.7 921.2C1101.9 921.2 1104.2 921.3 1104.5 921.3C1104.8 921.3 1107.1 921.4 1107.4 921.4C1107.7 921.4 1110.2 921.5 1110.5 921.5C1110.8 921.5 1113.4 921.6 1113.8 921.6C1114.1 921.6 1116.9 921.7 1117.3 921.7C1117.6 921.7 1120.7 921.8 1121.1 921.8C1121.5 921.8 1124.7 922.0 1125.1 922.1C1125.6 922.1 1129.0 922.5 1129.4 922.6C1129.9 922.6 1133.6 923.1 1134.1 923.2C1134.6 923.2 1138.9 923.8 1139.4 923.8C1140.0 923.9 1144.8 924.5 1145.4 924.6C1146.1 924.7 1151.7 925.4 1152.4 925.5C1153.2 925.6 1159.2 926.8 1160.0 927.0C1160.7 927.2 1167.4 928.8 1168.2 929.0C1169.1 929.3 1176.1 931.5 1177.0 931.8C1177.9 932.1 1185.2 935.1 1186.2 935.5C1187.2 935.9 1195.4 939.5 1196.2 940.1C1197.0 940.6 1201.9 945.7 1202.5 946.3C1203.1 947.0 1208.3 952.5 1208.9 953.3C1209.5 954.0 1214.8 960.2 1214.9 961.0Z" fill="#faff00"/>
<path d="M1203.8 961.0C1203.8 961.7 1199.2 967.4 1198.7 968.1C1198.2 968.7 1194.4 973.9 1193.9 974.5C1193.3 975.1 1187.6 979.6 1186.8 980.1C1186.1 980.6 1180.0 984.2 1179.3 984.6C1178.5 985.1 1172.1 988.0 1171.3 988.3C1170.5 988.6 1163.3 990.4 1162.5 990.6C1161.7 990.9 1155.9 992.5 1155.1 992.6C1154.4 992.8 1149.0 994.0 1148.4 994.1C1147.7 994.2 1142.9 995.2 1142.4 995.3C1141.8 995.4 1137.5 996.2 1137.0 996.3C1136.5 996.4 1132.5 996.9 1132.1 997.0C1131.6 997.1 1128.1 997.6 1127.6 997.6C1127.2 997.7 1123.9 998.1 1123.5 998.1C1123.1 998.1 1120.1 998.4 1119.8 998.5C1119.4 998.5 1116.6 998.8 1116.3 998.8C1115.9 998.8 1113.3 999.1 1113.0 999.1C1112.7 999.2 1110.2 999.4 1109.9 999.4C1109.6 999.4 1107.3 999.7 1107.0 999.7C1106.7 999.7 1104.5 999.9 1104.2 1000.0C1104.0 1000.0 1101.8 1000.2 1101.5 1000.2C1101.2 1000.3 1099.1 1000.4 1098.8 1000.4C1098.6 1000.4 1096.5 1000.5 1096.2 1000.5C1095.9 1000.5 1093.9 1000.5 1093.6 1000.5C1093.3 1000.5 1091.3 1000.5 1091.0 1000.5C1090.7 1000.5 1088.7 1000.5 1088.4 1000.5C1088.1 1000.5 1086.1 1000.5 1085.8 1000.5C1085.5 1000.5 1083.4 1000.5 1083.1 1000.5C1082.9 1000.5 1080.7 1000.5 1080.4 1000.5C1080.1 1000.5 1077.9 1000.5 1077.6 1000.5C1077.3 1000.5 1074.9 1000.5 1074.6 1000.5C1074.3 1000.5 1071.8 1000.5 1071.5 1000.5C1071.2 1000.5 1068.5 1000.5 1068.2 1000.5C1067.8 1000.5 1065.1 1000.4 1064.7 1000.3C1064.3 1000.3 1061.4 1000.2 1061.0 1000.1C1060.6 1000.1 1057.4 999.8 1057.0 999.7C1056.6 999.7 1053.1 999.4 1052.7 999.3C1052.2 999.3 1048.3 998.9 1047.8 998.9C1047.3 998.8 1042.9 998.4 1042.4 998.3C1041.8 998.3 1037.0 997.6 1036.3 997.5C1035.7 997.4 1030.1 996.7 1029.4 996.6C1028.6 996.5 1022.0 995.6 1021.2 995.4C1020.4 995.2 1014.0 993.5 1013.2 993.2C1012.3 993.0 1005.1 990.8 1004.1 990.5C1003.1 990.2 994.4 987.6 993.4 987.2C992.4 986.7 985.6 982.7 984.8 982.1C984.0 981.6 978.1 976.6 977.7 975.9C977.2 975.2 975.3 969.3 975.0 968.6C974.7 967.9 972.0 961.7 972.2 961.0C972.4 960.3 978.6 954.4 979.4 953.7C980.1 953.0 986.4 947.9 987.2 947.3C988.0 946.7 994.7 942.5 995.6 942.0C996.4 941.5 1004.1 938.3 1004.9 937.9C1005.8 937.6 1012.4 934.9 1013.2 934.6C1014.0 934.3 1020.4 932.3 1021.2 932.1C1022.0 931.9 1028.6 930.7 1029.3 930.6C1030.1 930.5 1035.5 929.4 1036.1 929.3C1036.8 929.2 1041.5 928.4 1042.1 928.3C1042.6 928.2 1046.9 927.6 1047.4 927.6C1047.9 927.5 1051.8 927.1 1052.2 927.0C1052.7 927.0 1056.2 926.6 1056.6 926.6C1057.0 926.5 1060.1 926.2 1060.5 926.2C1060.8 926.1 1063.7 925.9 1064.0 925.8C1064.4 925.8 1067.1 925.7 1067.4 925.6C1067.7 925.6 1070.2 925.5 1070.5 925.5C1070.8 925.4 1073.1 925.3 1073.4 925.3C1073.7 925.3 1075.9 925.2 1076.1 925.1C1076.4 925.1 1078.5 925.0 1078.8 925.0C1079.0 925.0 1081.1 924.9 1081.3 924.9C1081.6 924.8 1083.5 924.7 1083.8 924.7C1084.0 924.7 1086.0 924.7 1086.2 924.7C1086.5 924.7 1088.4 924.7 1088.6 924.7C1088.9 924.7 1090.8 924.6 1091.0 924.6C1091.2 924.7 1093.1 924.7 1093.4 924.7C1093.6 924.7 1095.5 924.8 1095.8 924.8C1096.0 924.8 1097.9 924.8 1098.2 924.9C1098.4 924.9 1100.4 924.9 1100.7 924.9C1100.9 924.9 1103.0 925.0 1103.2 925.0C1103.5 925.0 1105.6 925.1 1105.9 925.1C1106.2 925.1 1108.4 925.1 1108.7 925.2C1109.0 925.2 1111.3 925.2 1111.6 925.2C1112.0 925.2 1114.5 925.3 1114.8 925.3C1115.2 925.3 1117.9 925.4 1118.3 925.4C1118.7 925.4 1121.6 925.6 1122.0 925.6C1122.4 925.7 1125.6 926.0 1126.0 926.0C1126.4 926.1 1129.8 926.6 1130.2 926.6C1130.7 926.7 1134.5 927.2 1135.0 927.3C1135.5 927.3 1139.8 927.9 1140.4 928.0C1141.0 928.1 1146.0 928.7 1146.7 928.8C1147.4 929.0 1152.9 930.0 1153.6 930.1C1154.4 930.3 1160.7 931.6 1161.4 931.8C1162.2 932.1 1168.0 934.3 1168.8 934.6C1169.6 934.9 1175.7 937.7 1176.5 938.1C1177.3 938.5 1184.3 941.8 1185.0 942.3C1185.8 942.8 1190.6 947.2 1191.2 947.8C1191.8 948.4 1197.1 953.3 1197.7 954.0C1198.4 954.7 1203.7 960.3 1203.8 961.0Z" fill="#f8d700"/>
<path d="M1192.7 961.0C1192.8 961.6 1187.9 966.7 1187.4 967.3C1186.9 967.9 1182.8 972.5 1182.2 973.0C1181.7 973.5 1176.5 977.4 1175.9 977.9C1175.3 978.3 1170.3 981.7 1169.6 982.1C1169.0 982.4 1163.7 985.2 1163.0 985.4C1162.3 985.7 1155.7 987.3 1154.9 987.5C1154.2 987.7 1148.8 989.0 1148.1 989.2C1147.5 989.3 1142.7 990.4 1142.1 990.5C1141.6 990.6 1137.4 991.5 1136.9 991.6C1136.4 991.7 1132.5 992.4 1132.1 992.5C1131.6 992.6 1128.0 993.0 1127.5 993.0C1127.1 993.1 1123.9 993.5 1123.5 993.5C1123.1 993.6 1120.2 993.9 1119.9 993.9C1119.5 993.9 1116.8 994.2 1116.5 994.2C1116.2 994.3 1113.7 994.5 1113.4 994.5C1113.1 994.5 1110.8 994.8 1110.5 994.8C1110.2 994.8 1108.1 995.0 1107.8 995.0C1107.5 995.1 1105.5 995.3 1105.2 995.3C1104.9 995.3 1103.0 995.5 1102.7 995.5C1102.5 995.5 1100.6 995.7 1100.3 995.8C1100.1 995.8 1098.2 995.9 1097.9 995.9C1097.7 995.9 1095.8 995.9 1095.6 995.9C1095.4 995.9 1093.5 995.9 1093.3 995.9C1093.1 995.9 1091.2 995.9 1091.0 995.9C1090.8 995.9 1088.9 995.9 1088.7 995.9C1088.5 995.9 1086.6 995.9 1086.4 995.9C1086.2 995.9 1084.3 995.9 1084.1 995.9C1083.8 995.9 1081.9 995.9 1081.6 995.9C1081.4 995.9 1079.4 995.9 1079.1 995.9C1078.9 995.9 1076.8 995.9 1076.5 995.9C1076.3 995.9 1074.1 995.9 1073.8 995.9C1073.5 995.9 1071.1 995.9 1070.8 995.9C1070.5 995.9 1068.0 995.8 1067.7 995.8C1067.4 995.8 1064.7 995.7 1064.4 995.7C1064.0 995.7 1061.3 995.4 1060.9 995.3C1060.5 995.3 1057.5 995.0 1057.1 994.9C1056.7 994.9 1053.3 994.5 1052.8 994.5C1052.4 994.4 1048.6 994.0 1048.0 994.0C1047.5 993.9 1043.3 993.4 1042.7 993.3C1042.1 993.2 1037.1 992.6 1036.5 992.5C1035.8 992.4 1029.9 991.6 1029.2 991.5C1028.5 991.3 1022.7 989.8 1021.9 989.6C1021.2 989.4 1014.4 987.6 1013.5 987.3C1012.6 987.1 1004.2 984.9 1003.3 984.5C1002.5 984.1 996.7 980.4 996.0 979.9C995.4 979.4 991.2 974.8 990.8 974.2C990.4 973.6 988.1 968.4 987.8 967.8C987.5 967.1 984.4 961.7 984.5 961.0C984.7 960.3 990.2 955.0 990.8 954.4C991.5 953.8 996.9 949.2 997.7 948.7C998.4 948.2 1004.6 944.4 1005.4 944.0C1006.2 943.5 1013.0 940.6 1013.8 940.3C1014.6 940.0 1020.3 937.5 1021.0 937.3C1021.8 937.0 1027.5 935.2 1028.2 935.0C1028.9 934.8 1034.9 933.8 1035.6 933.7C1036.3 933.6 1041.2 932.7 1041.8 932.6C1042.4 932.5 1046.6 931.8 1047.1 931.7C1047.6 931.6 1051.4 931.0 1051.9 931.0C1052.3 930.9 1055.8 930.5 1056.2 930.5C1056.6 930.4 1059.7 930.2 1060.1 930.1C1060.5 930.1 1063.3 929.8 1063.6 929.8C1064.0 929.8 1066.5 929.5 1066.8 929.5C1067.1 929.5 1069.5 929.3 1069.8 929.3C1070.1 929.3 1072.3 929.1 1072.6 929.1C1072.9 929.1 1074.9 929.0 1075.2 929.0C1075.4 928.9 1077.4 928.8 1077.7 928.8C1077.9 928.8 1079.8 928.6 1080.0 928.6C1080.2 928.6 1082.1 928.5 1082.3 928.5C1082.5 928.5 1084.3 928.4 1084.5 928.4C1084.7 928.4 1086.5 928.4 1086.7 928.4C1086.9 928.4 1088.6 928.4 1088.9 928.4C1089.1 928.4 1090.8 928.4 1091.0 928.4C1091.2 928.4 1092.9 928.4 1093.1 928.4C1093.3 928.5 1095.1 928.5 1095.3 928.5C1095.5 928.5 1097.2 928.6 1097.5 928.6C1097.7 928.6 1099.4 928.6 1099.7 928.6C1099.9 928.6 1101.7 928.7 1102.0 928.7C1102.2 928.7 1104.1 928.7 1104.4 928.7C1104.6 928.8 1106.6 928.8 1106.9 928.8C1107.1 928.8 1109.3 928.9 1109.5 928.9C1109.8 928.9 1112.1 929.0 1112.4 929.0C1112.7 929.0 1115.2 929.0 1115.5 929.1C1115.8 929.1 1118.5 929.2 1118.9 929.2C1119.2 929.2 1122.1 929.5 1122.5 929.5C1122.9 929.6 1125.9 930.0 1126.3 930.1C1126.7 930.1 1130.1 930.6 1130.5 930.7C1131.0 930.7 1134.8 931.3 1135.4 931.4C1135.9 931.4 1140.3 932.1 1140.9 932.2C1141.5 932.3 1146.6 933.1 1147.3 933.2C1148.0 933.4 1154.0 934.4 1154.6 934.6C1155.3 934.8 1159.9 937.1 1160.6 937.4C1161.2 937.7 1166.2 940.3 1166.8 940.7C1167.5 941.0 1173.2 944.1 1173.8 944.5C1174.5 945.0 1179.3 948.8 1179.9 949.3C1180.6 949.8 1185.9 954.2 1186.6 954.7C1187.2 955.3 1192.7 960.4 1192.7 961.0Z" fill="#ffaa00"/>
<path d="M996.4 960.3C996.4 958.6 1008.8 949.0 1010.7 947.9C1012.5 946.8 1030.3 939.0 1032.6 938.3C1035.0 937.6 1054.8 934.5 1057.4 934.2C1060.0 933.9 1081.8 932.0 1084.8 932.0C1087.9 931.9 1114.6 932.5 1117.8 932.8C1121.0 933.1 1145.7 936.7 1148.0 937.5C1150.4 938.2 1162.8 946.8 1164.5 947.9C1166.2 949.1 1182.0 959.2 1182.4 960.3C1182.8 961.4 1174.1 968.8 1172.7 969.9C1171.4 971.0 1158.5 981.3 1156.3 982.3C1154.1 983.2 1131.7 988.1 1128.8 988.6C1125.9 989.0 1101.6 991.2 1098.6 991.3C1095.5 991.5 1071.4 991.5 1068.4 991.3C1065.3 991.1 1041.1 988.3 1038.1 987.7C1035.2 987.2 1011.4 982.3 1009.3 980.9C1007.2 979.5 996.3 961.9 996.4 960.3Z" fill="#f58200"/>
<path d="M1009.3 960.3C1009.8 958.8 1027.5 946.2 1029.9 945.2C1032.3 944.1 1054.3 940.1 1057.4 939.7C1060.4 939.3 1087.0 937.5 1090.3 937.5C1093.6 937.4 1120.4 938.8 1123.3 939.1C1126.2 939.4 1145.8 942.7 1148.0 943.8C1150.3 944.8 1168.4 958.7 1168.6 960.3C1168.9 961.9 1155.5 974.2 1153.5 975.4C1151.5 976.5 1131.5 982.6 1128.8 983.1C1126.0 983.6 1101.6 985.7 1098.6 985.8C1095.5 986.0 1071.4 986.0 1068.4 985.8C1065.3 985.6 1040.6 982.8 1038.1 982.3C1035.7 981.7 1020.3 976.5 1018.9 975.4C1017.5 974.3 1008.7 961.8 1009.3 960.3Z" fill="#ff5200"/>
<path d="M1023.0 960.3C1023.4 959.3 1041.2 951.5 1043.6 950.7C1046.0 949.8 1068.4 944.2 1071.1 943.8C1073.8 943.4 1095.8 942.3 1098.6 942.4C1101.3 942.5 1123.8 944.7 1126.0 945.2C1128.2 945.6 1141.1 951.3 1142.5 952.0C1144.0 952.8 1154.9 959.4 1154.9 960.3C1154.9 961.2 1144.0 969.1 1142.5 969.9C1141.1 970.7 1128.2 976.3 1126.0 976.8C1123.8 977.2 1101.3 979.4 1098.6 979.5C1095.8 979.6 1073.8 979.8 1071.1 979.5C1068.4 979.2 1045.4 974.5 1043.6 974.0C1041.8 973.5 1036.4 970.6 1035.4 969.9C1034.4 969.2 1022.6 961.2 1023.0 960.3Z" fill="#f52800"/>
<path d="M1046.4 960.3C1046.4 959.7 1061.2 955.2 1062.9 954.8C1064.5 954.4 1077.1 952.2 1079.3 952.0C1081.5 951.9 1104.6 951.8 1106.8 952.0C1109.0 952.2 1121.9 955.7 1123.3 956.2C1124.7 956.6 1135.7 959.8 1135.7 960.3C1135.7 960.8 1124.7 965.3 1123.3 965.8C1121.9 966.2 1109.0 969.7 1106.8 969.9C1104.6 970.1 1081.5 970.6 1079.3 970.4C1077.1 970.3 1064.5 967.7 1062.9 967.1C1061.2 966.6 1046.4 960.9 1046.4 960.3Z" fill="#ff0000"/>
<path d="M1468.0 959.9C1467.7 957.6 1455.4 938.6 1453.0 936.6C1450.7 934.6 1425.0 921.6 1421.4 919.9C1417.8 918.2 1385.8 904.7 1381.4 903.3C1377.1 901.8 1339.0 892.8 1334.8 891.6C1330.6 890.4 1301.7 881.0 1298.1 879.9C1294.6 878.9 1266.1 871.6 1263.2 869.9C1260.3 868.3 1240.8 848.8 1239.9 846.6C1238.9 844.5 1244.1 828.6 1244.8 826.6C1245.6 824.6 1252.7 809.7 1254.8 806.7C1257.0 803.6 1285.3 770.0 1288.2 766.4C1291.0 762.8 1309.9 737.4 1311.5 734.8C1313.0 732.1 1318.3 715.4 1318.8 713.1C1319.3 710.9 1322.6 692.2 1322.1 689.8C1321.7 687.4 1313.3 668.2 1309.8 664.8C1306.3 661.4 1254.8 624.8 1251.5 621.5C1248.2 618.2 1244.0 601.3 1244.2 598.9C1244.3 596.5 1253.6 576.0 1254.8 573.2C1256.0 570.4 1266.7 546.6 1268.2 543.2C1269.7 539.9 1283.6 509.9 1284.8 506.6C1286.1 503.3 1292.6 479.9 1293.1 476.6C1293.7 473.4 1296.4 444.1 1296.5 441.6C1296.6 439.1 1295.2 428.5 1294.8 426.4C1294.4 424.3 1289.2 402.4 1288.2 399.8C1287.2 397.1 1276.3 375.6 1274.8 373.1C1273.3 370.6 1260.3 352.1 1258.2 349.8C1256.0 347.5 1234.5 328.6 1231.5 326.5C1228.5 324.3 1201.5 308.1 1198.2 306.5C1194.9 304.9 1167.9 295.7 1164.9 294.8C1161.9 294.0 1140.7 290.1 1138.3 289.8C1135.8 289.6 1117.8 289.6 1114.9 289.8C1112.1 290.1 1085.0 294.1 1081.6 294.8C1078.3 295.6 1051.6 303.7 1048.3 304.8C1045.0 306.0 1018.3 316.7 1015.0 318.2C1011.7 319.6 985.9 331.6 983.1 333.1C980.4 334.7 962.3 348.1 959.8 349.8C957.3 351.5 936.2 366.0 933.2 368.1C930.2 370.3 903.2 390.6 899.9 393.1C896.5 395.6 869.9 415.7 866.6 418.1C863.2 420.5 836.6 439.1 833.2 441.4C829.9 443.7 803.1 462.2 799.8 464.9C796.5 467.7 769.8 493.4 766.5 496.6C763.2 499.7 736.5 525.6 733.2 528.2C729.8 530.8 702.9 546.5 699.9 548.2C696.9 550.0 676.2 561.8 673.2 563.2C670.2 564.6 641.2 574.7 639.2 576.5C637.3 578.3 635.6 597.5 634.9 599.8C634.2 602.2 625.9 620.9 624.9 623.2C623.9 625.4 615.4 642.0 614.9 644.1C614.4 646.3 615.0 664.0 614.9 666.5C614.8 668.9 613.6 690.7 613.3 693.1C612.9 695.5 609.3 712.7 608.3 714.8C607.3 716.8 594.8 732.3 593.3 734.7C591.8 737.2 579.1 760.5 578.2 763.3C577.3 766.1 575.0 787.9 574.9 789.9C574.7 791.9 574.7 801.5 574.9 803.3C575.1 805.0 578.9 822.8 578.9 824.9C578.9 827.1 575.6 844.3 574.9 846.6C574.1 848.8 564.6 867.6 563.9 869.9C563.2 872.2 561.4 891.0 561.6 893.2C561.7 895.4 566.0 911.2 566.6 913.2C567.1 915.2 572.7 931.0 573.2 933.2C573.7 935.3 576.8 954.2 576.5 956.5C576.3 958.8 569.2 978.1 568.2 979.8C567.3 981.6 558.1 990.1 557.2 991.5C556.3 992.8 550.5 1004.6 549.9 1006.5C549.3 1008.3 545.0 1026.1 545.6 1028.1C546.2 1030.1 560.2 1045.3 562.2 1046.4C564.3 1047.6 582.2 1050.1 586.5 1050.4C590.9 1050.7 642.5 1052.1 649.8 1052.1C657.2 1052.1 725.6 1049.8 733.1 1049.8C740.6 1049.7 792.1 1051.1 799.7 1051.4C807.3 1051.8 880.0 1056.1 885.0 1056.4C890.0 1056.8 895.8 1058.0 899.9 1058.2C903.9 1058.4 959.8 1060.3 966.5 1060.5C973.2 1060.7 1026.4 1062.4 1033.1 1062.5C1039.8 1062.6 1094.2 1063.2 1099.7 1063.2C1105.2 1063.2 1137.9 1062.8 1143.0 1062.5C1148.1 1062.2 1197.1 1057.0 1201.5 1056.5C1206.0 1055.9 1227.5 1052.2 1231.5 1051.5C1235.5 1050.8 1276.5 1044.2 1281.5 1043.2C1286.5 1042.2 1326.5 1032.8 1331.5 1031.5C1336.5 1030.3 1376.9 1019.6 1381.4 1018.2C1385.9 1016.8 1418.2 1004.5 1421.4 1003.2C1424.6 1001.9 1442.8 992.6 1444.7 991.5C1446.6 990.4 1458.5 983.1 1459.7 981.5C1460.9 980.0 1468.4 962.1 1468.0 959.9Z" fill="none" stroke="#000" stroke-width="2.5" stroke-linejoin="round"/>
<path d="M1073.1 423.3C1075.2 423.2 1094.2 424.5 1096.4 425.0C1098.6 425.5 1115.0 432.5 1116.4 433.3C1117.8 434.1 1124.0 440.1 1124.7 441.6C1125.5 443.1 1131.2 460.9 1131.4 463.3C1131.5 465.7 1128.6 487.5 1128.0 489.9C1127.5 492.4 1122.1 509.4 1120.4 511.6C1118.7 513.8 1097.1 531.0 1094.7 533.2C1092.4 535.5 1075.2 554.4 1073.1 556.6C1071.0 558.7 1054.7 574.4 1053.1 576.5C1051.5 578.7 1041.8 596.6 1041.4 598.9C1041.1 601.1 1044.4 619.7 1046.4 621.5C1048.5 623.3 1078.9 633.5 1083.1 634.8C1087.2 636.2 1125.2 646.7 1129.7 648.2C1134.2 649.7 1170.2 662.7 1173.0 664.8C1175.8 666.9 1186.0 687.4 1186.3 689.8C1186.7 692.2 1180.8 710.8 1179.7 713.1C1178.6 715.5 1166.7 734.4 1164.7 736.4C1162.7 738.4 1142.6 751.7 1139.7 753.1C1136.8 754.5 1110.1 763.9 1106.4 764.8C1102.7 765.6 1070.4 770.0 1066.4 770.4C1062.4 770.9 1029.8 773.6 1026.4 773.8C1023.1 773.9 1002.5 773.4 999.8 773.1C997.1 772.8 976.3 768.9 973.2 768.1C970.0 767.3 939.3 757.8 936.5 756.4C933.7 755.0 918.6 740.7 916.5 739.8C914.4 738.8 897.0 737.7 894.9 737.1C892.7 736.5 875.6 729.1 873.2 728.1C870.8 727.2 849.7 719.5 846.6 718.1C843.4 716.7 813.3 702.0 809.9 699.8C806.6 697.6 782.5 676.0 779.9 673.2C777.4 670.3 760.2 645.8 759.3 643.2C758.4 640.5 761.1 622.4 761.6 619.9C762.2 617.4 769.1 595.5 770.0 593.2C770.8 591.0 776.3 577.0 778.3 574.9C780.3 572.7 806.7 552.3 809.9 549.9C813.2 547.5 840.1 528.7 843.2 526.6C846.4 524.4 870.1 508.5 873.2 506.6C876.4 504.7 903.2 490.0 906.5 488.3C909.9 486.5 936.3 473.5 939.8 471.6C943.3 469.7 973.2 451.7 976.5 450.0C979.8 448.2 1003.6 437.0 1006.5 436.0C1009.3 434.9 1030.8 429.8 1033.1 429.3C1035.4 428.8 1051.1 426.9 1053.1 426.6C1055.1 426.3 1070.9 423.4 1073.1 423.3Z" fill="none" stroke="#000" stroke-width="2.5" stroke-linejoin="round"/>
<path d="M733.3 1003.2C731.8 1001.7 735.6 984.9 737.3 982.5C739.0 980.2 763.5 958.9 766.6 956.6C769.8 954.3 796.6 938.2 799.9 936.6C803.3 934.9 829.6 924.3 833.2 923.2C836.9 922.2 869.9 915.9 873.2 914.9C876.5 913.9 896.9 904.4 899.9 903.3C902.9 902.1 929.0 892.7 933.2 891.6C937.3 890.5 979.1 881.3 983.1 880.6C987.2 879.9 1010.7 878.4 1015.0 878.3C1019.3 878.2 1063.3 878.1 1068.3 878.3C1073.3 878.4 1110.1 881.0 1114.9 881.6C1119.8 882.2 1159.9 889.0 1164.9 889.9C1169.9 890.8 1209.9 898.8 1214.9 899.9C1219.9 901.1 1260.2 911.9 1264.8 913.3C1269.5 914.6 1304.6 925.4 1308.1 926.6C1311.6 927.7 1332.8 934.9 1334.8 936.6C1336.7 938.2 1347.1 957.6 1347.1 959.9C1347.1 962.1 1336.4 979.9 1334.8 981.5C1333.2 983.2 1317.5 991.9 1314.8 993.2C1312.1 994.4 1285.7 1005.1 1281.5 1006.5C1277.3 1007.9 1236.5 1020.3 1231.5 1021.5C1226.5 1022.8 1186.6 1030.7 1181.6 1031.5C1176.6 1032.3 1136.6 1037.7 1131.6 1038.2C1126.6 1038.6 1087.5 1040.4 1081.6 1040.5C1075.8 1040.6 1019.9 1040.2 1015.0 1040.2C1010.1 1040.1 987.2 1039.4 983.1 1039.2C979.1 1038.9 937.3 1035.2 933.2 1034.8C929.0 1034.5 903.2 1031.8 899.9 1031.5C896.5 1031.3 869.9 1030.0 866.6 1029.8C863.2 1029.7 836.6 1028.6 833.2 1028.2C829.9 1027.8 803.3 1022.3 799.9 1021.5C796.6 1020.8 770.0 1014.1 766.6 1013.2C763.3 1012.3 734.8 1004.7 733.3 1003.2Z" fill="none" stroke="#000" stroke-width="2.5" stroke-linejoin="round"/>
<path d="M863.2 981.5C862.2 979.4 883.9 962.0 886.5 959.9C889.2 957.8 913.4 941.7 916.5 939.9C919.7 938.1 946.5 924.7 949.8 923.2C953.2 921.8 979.1 912.6 983.1 911.6C987.1 910.6 1025.9 903.9 1029.9 903.4C1033.9 902.9 1059.4 901.8 1062.9 901.8C1066.3 901.7 1095.0 901.6 1098.6 901.8C1102.1 901.9 1130.9 903.6 1134.3 904.0C1137.7 904.3 1164.2 907.6 1167.3 908.1C1170.3 908.6 1192.0 913.7 1194.7 914.4C1197.5 915.1 1219.7 921.9 1222.2 922.6C1224.7 923.4 1242.3 929.3 1244.2 930.1C1246.1 930.8 1258.9 936.8 1260.7 938.3C1262.4 939.8 1279.7 958.1 1279.9 960.3C1280.1 962.4 1266.6 979.2 1264.8 980.9C1263.0 982.5 1246.3 992.1 1244.2 993.2C1242.0 994.3 1224.7 1002.0 1222.2 1002.9C1219.7 1003.8 1197.5 1010.4 1194.7 1011.1C1192.0 1011.8 1170.3 1016.6 1167.3 1017.1C1164.2 1017.7 1137.7 1021.7 1134.3 1022.1C1130.9 1022.4 1102.1 1024.1 1098.6 1024.3C1095.0 1024.4 1066.3 1024.9 1062.9 1024.8C1059.4 1024.8 1032.9 1022.9 1029.9 1022.6C1026.9 1022.4 1006.4 1019.8 1002.4 1019.3C998.4 1018.9 954.6 1014.7 949.8 1013.9C945.0 1013.0 910.9 1004.8 906.5 1003.2C902.2 1001.6 864.2 983.7 863.2 981.5Z" fill="none" stroke="#000" stroke-width="2.5" stroke-linejoin="round"/>
<path d="M947.5 960.3C948.0 958.6 959.7 949.1 961.2 947.9C962.7 946.7 975.6 938.0 977.7 936.9C979.8 935.9 999.8 928.1 1002.4 927.3C1005.0 926.6 1027.1 922.3 1029.9 921.8C1032.6 921.4 1054.3 918.8 1057.4 918.5C1060.4 918.3 1086.9 917.2 1090.3 917.1C1093.8 917.1 1122.5 918.0 1126.0 918.2C1129.6 918.5 1158.6 922.0 1161.8 922.6C1164.9 923.2 1186.9 929.3 1189.2 930.1C1191.6 930.8 1206.6 936.8 1208.5 938.3C1210.3 939.8 1226.0 958.1 1226.3 960.3C1226.7 962.4 1216.9 979.3 1215.3 980.9C1213.8 982.5 1197.1 990.9 1194.7 991.9C1192.3 992.8 1170.3 999.4 1167.3 1000.1C1164.2 1000.8 1137.7 1005.7 1134.3 1006.2C1130.9 1006.6 1102.1 1009.5 1098.6 1009.7C1095.0 1009.9 1066.3 1009.9 1062.9 1009.7C1059.4 1009.6 1032.9 1007.3 1029.9 1007.0C1026.9 1006.6 1005.2 1003.5 1002.4 1002.9C999.7 1002.2 977.5 994.3 974.9 993.2C972.4 992.1 953.0 982.5 951.6 980.9C950.2 979.2 947.0 961.9 947.5 960.3Z" fill="none" stroke="#000" stroke-width="2.5" stroke-linejoin="round"/>
<path d="M996.4 960.3C996.4 958.6 1008.8 949.0 1010.7 947.9C1012.5 946.8 1030.3 939.0 1032.6 938.3C1035.0 937.6 1054.8 934.5 1057.4 934.2C1060.0 933.9 1081.8 932.0 1084.8 932.0C1087.9 931.9 1114.6 932.5 1117.8 932.8C1121.0 933.1 1145.7 936.7 1148.0 937.5C1150.4 938.2 1162.8 946.8 1164.5 947.9C1166.2 949.1 1182.0 959.2 1182.4 960.3C1182.8 961.4 1174.1 968.8 1172.7 969.9C1171.4 971.0 1158.5 981.3 1156.3 982.3C1154.1 983.2 1131.7 988.1 1128.8 988.6C1125.9 989.0 1101.6 991.2 1098.6 991.3C1095.5 991.5 1071.4 991.5 1068.4 991.3C1065.3 991.1 1041.1 988.3 1038.1 987.7C1035.2 987.2 1011.4 982.3 1009.3 980.9C1007.2 979.5 996.3 961.9 996.4 960.3Z" fill="none" stroke="#000" stroke-width="2.5" stroke-linejoin="round"/>
</g>
<rect x="1499.2" y="1141.45" width="97.0" height="45.85" fill="#0000ff"/>
<rect x="1499.2" y="1096.20" width="97.0" height="45.85" fill="#0000ff"/>
<rect x="1499.2" y="1050.94" width="97.0" height="45.85" fill="#0024ff"/>
<rect x="1499.2" y="1005.69" width="97.0" height="45.85" fill="#0050fc"/>
<rect x="1499.2" y="960.44" width="97.0" height="45.85" fill="#0083f5"/>
<rect x="1499.2" y="915.19" width="97.0" height="45.85" fill="#00aafc"/>
<rect x="1499.2" y="869.94" width="97.0" height="45.85" fill="#00d5ff"/>
<rect x="1499.2" y="824.68" width="97.0" height="45.85" fill="#00f5f5"/>
<rect x="1499.2" y="779.43" width="97.0" height="45.85" fill="#00f3d0"/>
<rect x="1499.2" y="734.18" width="97.0" height="45.85" fill="#00ffa5"/>
<rect x="1499.2" y="688.93" width="97.0" height="45.85" fill="#00f07a"/>
<rect x="1499.2" y="643.68" width="97.0" height="45.85" fill="#00ff40"/>
<rect x="1499.2" y="598.42" width="97.0" height="45.85" fill="#00f222"/>
<rect x="1499.2" y="553.17" width="97.0" height="45.85" fill="#00ff00"/>
<rect x="1499.2" y="507.92" width="97.0" height="45.85" fill="#2dff00"/>
<rect x="1499.2" y="462.67" width="97.0" height="45.85" fill="#64ff00"/>
<rect x="1499.2" y="417.42" width="97.0" height="45.85" fill="#9bff00"/>
<rect x="1499.2" y="372.16" width="97.0" height="45.85" fill="#d0ff00"/>
<rect x="1499.2" y="326.91" width="97.0" height="45.85" fill="#faff00"/>
<rect x="1499.2" y="281.66" width="97.0" height="45.85" fill="#f8d700"/>
<rect x="1499.2" y="236.41" width="97.0" height="45.85" fill="#ffaa00"/>
<rect x="1499.2" y="191.16" width="97.0" height="45.85" fill="#f58200"/>
<rect x="1499.2" y="145.90" width="97.0" height="45.85" fill="#ff5200"/>
<rect x="1499.2" y="100.65" width="97.0" height="45.85" fill="#f52800"/>
<rect x="1499.2" y="55.40" width="97.0" height="45.85" fill="#ff0000"/>
<text x="1610.5" y="1152.25" font-size="34.5" font-family='"Liberation Serif", "DejaVu Serif", serif'>0.000</text>
<text x="1610.5" y="971.24" font-size="34.5" font-family='"Liberation Serif", "DejaVu Serif", serif'>88.33</text>
<text x="1610.5" y="790.23" font-size="34.5" font-family='"Liberation Serif", "DejaVu Serif", serif'>176.7</text>
<text x="1610.5" y="609.22" font-size="34.5" font-family='"Liberation Serif", "DejaVu Serif", serif'>265.0</text>
<text x="1610.5" y="428.22" font-size="34.5" font-family='"Liberation Serif", "DejaVu Serif", serif'>353.3</text>
<text x="1610.5" y="247.21" font-size="34.5" font-family='"Liberation Serif", "DejaVu Serif", serif'>441.7</text>
<text x="1610.5" y="66.20" font-size="34.5" font-family='"Liberation Serif", "DejaVu Serif", serif'>530.0</text>
<rect x="205" y="664" width="1391.2" height="1" fill="#fff" fill-opacity="0.28"/>
<rect x="208" y="57.3" width="1286.5" height="1128.5" fill="none" stroke="#000" stroke-width="4.0" stroke-linejoin="round"/>
<line x1="208" y1="55.3" x2="208" y2="1187.8" stroke="#000" stroke-width="5.4"/>
<line x1="209.3" y1="50.3" x2="209.3" y2="57.3" stroke="#000" stroke-width="1"/>
<line x1="274.54" y1="1185.1" x2="274.54" y2="1174.8" stroke="#000" stroke-width="5.0" stroke-linecap="round"/>
<line x1="385.45" y1="1185.1" x2="385.45" y2="1162.8" stroke="#000" stroke-width="5.0" stroke-linecap="round"/>
<line x1="496.35" y1="1185.1" x2="496.35" y2="1174.8" stroke="#000" stroke-width="5.0" stroke-linecap="round"/>
<line x1="607.26" y1="1185.1" x2="607.26" y2="1162.8" stroke="#000" stroke-width="5.0" stroke-linecap="round"/>
<line x1="718.16" y1="1185.1" x2="718.16" y2="1174.8" stroke="#000" stroke-width="5.0" stroke-linecap="round"/>
<line x1="829.07" y1="1185.1" x2="829.07" y2="1162.8" stroke="#000" stroke-width="5.0" stroke-linecap="round"/>
<line x1="939.97" y1="1185.1" x2="939.97" y2="1174.8" stroke="#000" stroke-width="5.0" stroke-linecap="round"/>
<line x1="1050.88" y1="1185.1" x2="1050.88" y2="1162.8" stroke="#000" stroke-width="5.0" stroke-linecap="round"/>
<line x1="1161.78" y1="1185.1" x2="1161.78" y2="1174.8" stroke="#000" stroke-width="5.0" stroke-linecap="round"/>
<line x1="1272.69" y1="1185.1" x2="1272.69" y2="1162.8" stroke="#000" stroke-width="5.0" stroke-linecap="round"/>
<line x1="1383.59" y1="1185.1" x2="1383.59" y2="1174.8" stroke="#000" stroke-width="5.0" stroke-linecap="round"/>
<line x1="208.7" y1="1072.95" x2="219" y2="1072.95" stroke="#000" stroke-width="5.0" stroke-linecap="round"/>
<line x1="208.7" y1="960.10" x2="231" y2="960.10" stroke="#000" stroke-width="5.0" stroke-linecap="round"/>
<line x1="208.7" y1="847.25" x2="219" y2="847.25" stroke="#000" stroke-width="5.0" stroke-linecap="round"/>
<line x1="208.7" y1="734.40" x2="231" y2="734.40" stroke="#000" stroke-width="5.0" stroke-linecap="round"/>
<line x1="208.7" y1="621.55" x2="219" y2="621.55" stroke="#000" stroke-width="5.0" stroke-linecap="round"/>
<line x1="208.7" y1="508.70" x2="231" y2="508.70" stroke="#000" stroke-width="5.0" stroke-linecap="round"/>
<line x1="208.7" y1="395.85" x2="219" y2="395.85" stroke="#000" stroke-width="5.0" stroke-linecap="round"/>
<line x1="208.7" y1="283.00" x2="231" y2="283.00" stroke="#000" stroke-width="5.0" stroke-linecap="round"/>
<line x1="208.7" y1="170.15" x2="219" y2="170.15" stroke="#000" stroke-width="5.0" stroke-linecap="round"/>
<text x="385.45" y="1247.3" font-size="48.6" text-anchor="middle" font-family='"Liberation Serif", "DejaVu Serif", serif'>300</text>
<text x="607.26" y="1247.3" font-size="48.6" text-anchor="middle" font-family='"Liberation Serif", "DejaVu Serif", serif'>350</text>
<text x="829.07" y="1247.3" font-size="48.6" text-anchor="middle" font-family='"Liberation Serif", "DejaVu Serif", serif'>400</text>
<text x="1050.88" y="1247.3" font-size="48.6" text-anchor="middle" font-family='"Liberation Serif", "DejaVu Serif", serif'>450</text>
<text x="1272.69" y="1247.3" font-size="48.6" text-anchor="middle" font-family='"Liberation Serif", "DejaVu Serif", serif'>500</text>
<text x="1494.50" y="1247.3" font-size="48.6" text-anchor="middle" font-family='"Liberation Serif", "DejaVu Serif", serif'>550</text>
<text x="181" y="1199.80" font-size="48.6" text-anchor="end" font-family='"Liberation Serif", "DejaVu Serif", serif'>200</text>
<text x="181" y="974.10" font-size="48.6" text-anchor="end" font-family='"Liberation Serif", "DejaVu Serif", serif'>250</text>
<text x="181" y="748.40" font-size="48.6" text-anchor="end" font-family='"Liberation Serif", "DejaVu Serif", serif'>300</text>
<text x="181" y="522.70" font-size="48.6" text-anchor="end" font-family='"Liberation Serif", "DejaVu Serif", serif'>350</text>
<text x="181" y="297.00" font-size="48.6" text-anchor="end" font-family='"Liberation Serif", "DejaVu Serif", serif'>400</text>
<text x="181" y="71.30" font-size="48.6" text-anchor="end" font-family='"Liberation Serif", "DejaVu Serif", serif'>450</text>
<text x="851" y="1345" font-size="60.5" font-weight="bold" text-anchor="middle" font-family='"Liberation Serif", "DejaVu Serif", serif'>Emission (nm)</text>
<text transform="translate(82.5,621.5) rotate(-90)" font-size="60.5" font-weight="bold" text-anchor="middle" font-family='"Liberation Serif", "DejaVu Serif", serif'>Excitation (nm)</text>
<text x="255" y="154" font-size="84" font-family='"Liberation Serif", "DejaVu Serif", serif'>(a)</text>
</g>
<g>
<rect x="208" y="1732.8" width="1286.5" height="1127.3999999999999" fill="#0000ff"/>
<g clip-path="url(#clipb)">
<path d="M361.2 2478.9C361.2 2478.9 379.9 2456.8 381.8 2454.5C383.7 2452.2 396.4 2434.2 398.3 2431.9C400.2 2429.6 416.4 2411.8 418.9 2409.2C421.4 2406.6 445.3 2382.8 447.8 2380.4C450.3 2378.0 466.3 2363.9 468.4 2361.8C470.5 2359.7 486.9 2341.5 489.0 2339.2C491.1 2336.9 507.7 2318.5 509.6 2316.5C511.5 2314.5 524.1 2302.7 527.0 2300.0C529.9 2297.3 563.0 2265.2 566.6 2261.6C570.2 2258.0 596.8 2231.4 599.9 2228.3C603.0 2225.2 623.2 2205.2 628.2 2200.0C633.2 2194.8 694.7 2130.4 700.0 2124.9C705.3 2119.4 730.0 2093.5 733.3 2089.9C736.6 2086.3 762.4 2057.5 766.6 2053.2C770.8 2048.9 811.6 2008.1 816.6 2003.3C821.6 1998.5 861.2 1961.8 866.6 1956.6C872.0 1951.4 919.3 1903.4 924.2 1898.5C929.1 1893.6 961.4 1863.1 965.5 1859.3C969.6 1855.5 1006.7 1822.2 1006.7 1822.2C1006.7 1822.2 978.9 1856.8 975.8 1860.4C972.7 1864.0 949.6 1888.3 944.8 1893.3C940.0 1898.3 885.5 1954.2 879.9 1960.0C874.3 1965.8 838.0 2004.9 833.2 2009.9C828.4 2014.9 787.8 2055.1 783.3 2059.9C778.8 2064.7 747.5 2102.1 743.3 2106.5C739.1 2110.9 704.6 2143.5 700.0 2148.2C695.4 2152.9 655.2 2196.1 651.5 2200.0C647.8 2203.9 629.1 2223.9 626.5 2226.6C623.9 2229.3 603.4 2249.9 599.9 2253.3C596.4 2256.7 560.3 2291.3 556.6 2294.9C552.9 2298.5 528.6 2322.3 526.0 2324.7C523.4 2327.1 507.6 2341.3 505.5 2343.3C503.4 2345.3 486.7 2361.9 484.8 2363.9C482.9 2365.9 470.2 2380.2 468.4 2382.4C466.5 2384.6 449.9 2404.9 447.8 2407.2C445.7 2409.5 429.3 2425.8 427.2 2427.8C425.1 2429.8 408.7 2445.7 406.5 2447.3C404.3 2448.9 386.2 2459.1 383.9 2460.7C381.6 2462.3 361.2 2478.9 361.2 2478.9Z" fill="#0024ff"/>
<path d="M207.0 2831.0C207.0 2831.0 240.6 2828.4 244.0 2828.0C247.4 2827.6 272.4 2822.1 275.0 2822.0C277.6 2821.9 293.9 2826.2 296.0 2826.0C298.1 2825.8 313.9 2819.2 316.0 2819.0C318.1 2818.8 334.7 2820.4 337.0 2821.0C339.3 2821.6 359.4 2830.8 362.0 2831.0C364.6 2831.2 386.1 2824.5 388.0 2824.0C389.9 2823.5 397.8 2821.6 400.0 2821.4C402.2 2821.2 429.5 2819.8 433.0 2820.0C436.5 2820.2 465.8 2825.9 470.0 2826.0C474.2 2826.1 512.6 2822.6 516.6 2822.4C520.6 2822.2 546.7 2821.1 550.0 2821.4C553.3 2821.7 580.2 2828.0 583.0 2828.0C585.8 2828.0 604.0 2821.9 606.5 2821.4C609.0 2820.9 629.2 2818.1 633.0 2818.0C636.8 2817.9 678.8 2820.5 683.0 2820.4C687.2 2820.3 713.8 2817.0 716.5 2817.0C719.2 2817.0 734.3 2820.5 736.5 2820.8C738.7 2821.2 758.6 2823.7 761.0 2824.0C763.4 2824.3 781.4 2826.5 783.5 2826.5C785.6 2826.5 800.8 2823.4 803.0 2823.3C805.2 2823.2 825.3 2823.9 826.8 2824.5C828.3 2825.1 832.9 2834.7 833.0 2835.6C833.1 2836.5 829.3 2841.2 828.0 2841.8C826.7 2842.4 808.5 2846.2 807.0 2847.3C805.5 2848.4 798.4 2863.0 798.4 2863.0C798.4 2863.0 207.0 2863.0 207.0 2863.0C207.0 2863.0 207.0 2831.0 207.0 2831.0Z" fill="#0024ff"/>
<path d="M880.0 2863.0C880.0 2863.0 895.1 2854.8 897.0 2854.0C898.9 2853.2 915.0 2848.8 917.0 2848.0C919.0 2847.2 934.9 2838.6 937.0 2838.0C939.1 2837.4 956.6 2836.2 959.0 2835.6C961.4 2835.0 981.5 2827.4 984.0 2827.0C986.5 2826.6 1007.8 2826.4 1010.0 2827.0C1012.2 2827.6 1025.9 2838.2 1028.0 2838.0C1030.1 2837.8 1048.1 2824.1 1051.6 2823.0C1055.1 2821.9 1094.0 2817.0 1098.0 2816.4C1102.0 2815.8 1128.2 2811.6 1131.6 2811.4C1134.9 2811.2 1160.8 2812.6 1165.0 2813.0C1169.2 2813.4 1210.0 2819.1 1215.0 2819.8C1220.0 2820.5 1259.2 2825.8 1265.0 2826.4C1270.8 2827.0 1325.7 2831.3 1331.5 2831.4C1337.3 2831.5 1376.6 2828.2 1381.4 2828.0C1386.2 2827.8 1424.7 2826.9 1428.0 2826.4C1431.3 2825.9 1445.7 2818.5 1448.0 2818.0C1450.3 2817.5 1472.2 2816.8 1474.7 2816.4C1477.2 2816.0 1497.0 2809.8 1497.0 2809.8C1497.0 2809.8 1497.0 2863.0 1497.0 2863.0C1497.0 2863.0 880.0 2863.0 880.0 2863.0Z" fill="#0024ff"/>
<path d="M1492.4 2573.1C1492.4 2573.1 1481.9 2566.5 1480.9 2565.7C1479.9 2565.0 1473.9 2559.0 1472.6 2558.3C1471.3 2557.6 1456.9 2552.9 1454.5 2552.5C1452.1 2552.1 1428.8 2550.3 1424.8 2550.1C1420.9 2549.8 1379.6 2547.8 1375.4 2547.6C1371.2 2547.3 1343.4 2545.8 1340.8 2545.1C1338.1 2544.4 1324.5 2534.7 1322.6 2533.6C1320.8 2532.4 1303.9 2523.6 1303.7 2522.0C1303.5 2520.5 1316.2 2505.1 1318.1 2503.1C1320.0 2501.2 1339.1 2485.1 1341.4 2483.1C1343.8 2481.1 1362.8 2465.0 1364.8 2463.2C1366.8 2461.3 1379.6 2448.2 1381.4 2446.5C1383.3 2444.8 1399.7 2431.7 1401.4 2429.8C1403.1 2428.0 1413.7 2412.0 1414.7 2409.9C1415.8 2407.7 1421.7 2388.8 1422.1 2386.5C1422.4 2384.3 1422.3 2367.1 1421.4 2364.9C1420.5 2362.7 1406.7 2344.8 1404.7 2343.2C1402.7 2341.7 1384.3 2334.5 1381.4 2333.2C1378.6 2332.0 1351.4 2319.6 1348.1 2318.3C1344.8 2316.9 1317.8 2307.7 1314.8 2306.6C1311.8 2305.5 1290.4 2298.2 1288.2 2296.6C1285.9 2295.0 1270.2 2277.2 1269.8 2275.0C1269.4 2272.7 1278.4 2253.7 1279.8 2251.4C1281.2 2249.2 1296.4 2232.0 1298.1 2229.8C1299.9 2227.5 1313.1 2208.8 1314.8 2206.5C1316.5 2204.1 1330.3 2185.3 1331.5 2183.1C1332.6 2181.0 1337.5 2165.3 1338.1 2163.2C1338.8 2161.0 1344.3 2142.2 1344.8 2139.8C1345.2 2137.5 1347.2 2118.9 1347.1 2116.5C1347.0 2114.2 1343.9 2095.7 1343.1 2093.2C1342.3 2090.7 1332.9 2069.1 1331.5 2066.6C1330.0 2064.0 1316.6 2044.0 1314.8 2041.6C1313.0 2039.2 1296.8 2020.1 1294.8 2018.3C1292.8 2016.4 1277.2 2006.3 1274.8 2004.9C1272.5 2003.5 1251.2 1991.5 1248.2 1989.9C1245.2 1988.4 1218.2 1974.7 1214.9 1973.3C1211.5 1971.9 1184.9 1962.5 1181.6 1961.6C1178.2 1960.7 1151.6 1955.4 1148.2 1955.0C1144.9 1954.5 1118.3 1952.6 1114.9 1952.6C1111.6 1952.6 1085.0 1954.5 1081.6 1955.0C1078.3 1955.4 1051.6 1960.6 1048.3 1961.6C1045.0 1962.6 1017.1 1974.1 1015.0 1975.0C1012.9 1975.8 1008.1 1977.4 1006.5 1978.3C1004.9 1979.2 985.5 1991.5 983.1 1993.3C980.8 1995.0 962.0 2011.3 959.8 2013.3C957.7 2015.3 941.7 2031.4 939.8 2033.2C938.0 2035.1 925.2 2048.1 923.2 2049.9C921.2 2051.7 902.7 2067.7 899.9 2069.9C897.0 2072.1 869.9 2091.0 866.6 2093.2C863.2 2095.5 836.6 2112.7 833.2 2114.9C829.9 2117.0 803.3 2134.2 799.9 2136.5C796.6 2138.8 770.0 2159.1 766.6 2161.5C763.3 2163.9 736.6 2182.5 733.3 2184.8C730.0 2187.1 703.2 2205.0 700.0 2207.1C696.8 2209.2 672.8 2224.4 669.8 2226.6C666.8 2228.9 642.2 2249.1 639.8 2251.6C637.5 2254.1 625.2 2274.4 623.2 2276.6C621.2 2278.9 602.0 2294.4 599.9 2296.6C597.7 2298.8 581.3 2317.7 579.9 2319.9C578.5 2322.2 572.9 2339.4 571.6 2341.6C570.2 2343.7 554.8 2361.6 553.2 2363.2C551.6 2364.8 542.7 2371.7 539.9 2373.2C537.1 2374.7 500.0 2391.4 496.6 2393.2C493.2 2395.0 474.4 2407.9 472.6 2409.9C470.9 2411.9 462.9 2430.9 461.6 2433.2C460.3 2435.4 447.1 2452.7 446.6 2454.8C446.2 2457.0 452.6 2474.2 452.3 2476.5C452.0 2478.7 441.0 2497.6 440.0 2499.8C438.9 2502.0 431.9 2519.2 431.6 2521.5C431.4 2523.7 434.0 2543.0 435.0 2544.8C436.0 2546.5 450.5 2555.3 451.6 2556.4C452.8 2557.6 457.1 2566.5 458.3 2568.1C459.5 2569.7 474.0 2586.3 475.0 2588.1C475.9 2589.8 476.3 2600.8 476.6 2603.2C476.9 2605.7 480.9 2633.2 480.9 2636.6C481.0 2639.9 478.5 2666.5 478.3 2669.9C478.0 2673.2 475.8 2700.5 475.9 2703.2C476.1 2705.8 480.6 2721.5 481.6 2723.2C482.6 2724.8 494.9 2735.5 496.6 2736.5C498.4 2737.5 514.4 2742.7 516.6 2743.2C518.8 2743.7 536.6 2746.3 539.9 2746.5C543.2 2746.6 578.5 2746.6 583.2 2746.5C587.9 2746.4 628.2 2745.0 633.2 2744.8C638.2 2744.7 678.1 2743.2 683.1 2743.2C688.1 2743.1 728.1 2743.8 733.1 2743.8C738.1 2743.8 778.1 2743.2 783.1 2743.2C788.1 2743.2 827.2 2743.7 833.0 2743.8C838.9 2743.9 892.4 2744.4 899.9 2744.8C907.4 2745.2 977.3 2751.4 983.1 2751.5C989.0 2751.6 1013.9 2746.9 1016.5 2746.5C1019.0 2746.1 1031.2 2744.2 1034.0 2744.0C1036.8 2743.8 1068.5 2742.3 1072.0 2742.4C1075.5 2742.5 1100.8 2745.0 1103.0 2745.8C1105.2 2746.6 1114.2 2758.5 1116.8 2759.0C1119.4 2759.5 1150.4 2756.5 1154.5 2756.0C1158.6 2755.5 1193.0 2749.3 1199.0 2748.6C1205.0 2747.9 1267.5 2743.1 1274.7 2742.4C1281.9 2741.7 1336.5 2736.4 1343.4 2735.5C1350.3 2734.6 1406.8 2725.8 1412.0 2725.0C1417.2 2724.2 1442.2 2720.6 1446.4 2720.0C1450.7 2719.4 1497.0 2712.5 1497.0 2712.5C1497.0 2712.5 1492.4 2573.1 1492.4 2573.1Z" fill="#0024ff"/>
<path d="M1492.4 2606.1C1492.4 2606.1 1468.2 2600.9 1466.0 2600.3C1463.9 2599.7 1451.0 2594.5 1449.6 2593.7C1448.1 2593.0 1439.2 2586.3 1438.0 2585.5C1436.8 2584.7 1427.6 2578.2 1424.8 2577.2C1422.0 2576.3 1387.5 2567.6 1382.0 2566.5C1376.4 2565.5 1320.2 2557.5 1314.4 2556.6C1308.5 2555.8 1269.1 2550.4 1264.8 2549.8C1260.5 2549.2 1231.4 2545.6 1228.2 2544.8C1225.0 2543.9 1204.2 2534.2 1201.5 2533.1C1198.9 2532.0 1175.1 2524.0 1174.9 2522.5C1174.6 2521.0 1194.2 2505.0 1196.5 2503.1C1198.9 2501.2 1218.9 2486.6 1221.5 2484.8C1224.1 2483.0 1245.7 2468.2 1248.2 2466.5C1250.7 2464.7 1269.3 2451.5 1271.5 2449.8C1273.7 2448.2 1289.7 2435.2 1291.5 2433.2C1293.3 2431.2 1307.0 2412.2 1308.1 2409.9C1309.3 2407.5 1314.4 2388.8 1314.8 2386.5C1315.2 2384.3 1317.6 2367.2 1316.5 2364.9C1315.3 2362.6 1294.1 2341.8 1291.5 2339.9C1288.9 2338.0 1268.0 2328.0 1264.8 2326.6C1261.7 2325.2 1231.7 2312.8 1228.2 2311.6C1224.7 2310.3 1198.1 2302.3 1194.9 2301.6C1191.6 2300.9 1166.5 2298.6 1163.2 2297.3C1160.0 2295.9 1130.7 2277.2 1129.9 2275.0C1129.2 2272.7 1146.5 2254.9 1148.2 2253.1C1150.0 2251.3 1163.2 2241.3 1164.9 2239.8C1166.6 2238.3 1179.9 2224.8 1181.6 2223.1C1183.2 2221.5 1196.7 2208.1 1198.2 2206.5C1199.7 2204.8 1210.3 2191.8 1211.5 2189.8C1212.8 2187.8 1222.2 2169.0 1223.2 2166.5C1224.2 2164.0 1231.0 2142.2 1231.5 2139.8C1232.1 2137.5 1233.9 2122.0 1233.9 2119.9C1233.8 2117.7 1231.5 2098.9 1230.9 2096.5C1230.2 2094.2 1223.0 2075.5 1221.5 2073.2C1220.1 2071.0 1203.5 2053.4 1201.5 2051.6C1199.5 2049.7 1184.2 2038.0 1181.6 2036.6C1178.9 2035.2 1151.6 2024.2 1148.2 2023.3C1144.9 2022.3 1118.6 2018.3 1114.9 2018.3C1111.3 2018.2 1078.6 2020.8 1075.0 2021.6C1071.3 2022.3 1044.6 2032.0 1041.6 2033.2C1038.7 2034.5 1016.8 2045.7 1015.0 2046.6C1013.2 2047.5 1008.1 2050.3 1006.5 2051.6C1004.9 2052.8 985.5 2069.3 983.1 2071.6C980.8 2073.8 962.0 2094.1 959.8 2096.5C957.7 2099.0 941.8 2117.9 939.8 2119.9C937.8 2121.8 922.2 2133.2 919.9 2134.8C917.5 2136.5 896.7 2151.2 893.2 2153.2C889.7 2155.1 854.4 2170.8 849.9 2173.2C845.4 2175.5 807.6 2197.2 803.1 2200.0C798.6 2202.8 763.4 2225.7 759.8 2228.3C756.1 2230.9 732.3 2249.3 729.8 2251.6C727.3 2254.0 711.6 2272.6 709.8 2275.0C708.0 2277.3 694.5 2296.0 693.1 2298.3C691.8 2300.5 683.2 2317.8 682.5 2319.9C681.7 2322.1 678.7 2339.4 678.1 2341.6C677.6 2343.7 672.7 2361.0 671.5 2363.2C670.3 2365.5 657.0 2384.4 654.8 2386.5C652.7 2388.7 630.6 2405.1 628.2 2406.5C625.8 2407.9 608.8 2414.3 606.5 2414.9C604.3 2415.4 585.5 2417.6 583.2 2418.2C581.0 2418.8 563.8 2425.3 561.6 2426.5C559.3 2427.8 540.5 2441.8 538.2 2443.2C536.0 2444.5 518.2 2452.2 516.6 2453.8C515.0 2455.5 507.3 2474.2 506.6 2476.5C505.8 2478.8 501.3 2497.5 501.6 2499.8C501.8 2502.1 510.8 2521.6 511.6 2523.1C512.4 2524.6 516.8 2528.8 518.3 2529.8C519.8 2530.8 539.7 2541.3 541.6 2543.1C543.4 2544.9 553.9 2564.4 554.9 2566.4C555.9 2568.4 561.0 2581.9 561.6 2583.1C562.1 2584.2 566.7 2588.4 566.6 2589.7C566.4 2591.1 558.8 2608.1 558.2 2609.9C557.6 2611.7 555.3 2625.2 554.9 2626.6C554.5 2627.9 551.0 2635.2 549.9 2636.6C548.8 2637.9 534.7 2652.0 533.2 2653.2C531.7 2654.5 521.3 2660.2 519.9 2661.5C518.6 2662.9 507.9 2677.8 506.6 2679.9C505.3 2681.9 494.5 2700.3 494.3 2702.2C494.0 2704.0 500.5 2715.3 501.6 2716.5C502.7 2717.7 514.7 2725.7 516.6 2726.5C518.5 2727.3 536.6 2732.7 539.9 2733.2C543.2 2733.6 578.5 2734.8 583.2 2734.8C587.9 2734.8 628.2 2733.3 633.2 2733.2C638.2 2733.0 678.1 2731.5 683.1 2731.5C688.1 2731.5 728.1 2732.4 733.1 2732.5C738.1 2732.6 778.1 2733.0 783.1 2733.2C788.1 2733.3 827.9 2734.7 833.0 2734.8C838.1 2734.9 880.0 2735.4 885.0 2735.5C890.0 2735.6 928.3 2736.2 933.2 2736.5C938.1 2736.8 979.0 2741.4 983.1 2741.5C987.3 2741.6 1013.0 2738.2 1016.5 2738.2C1019.9 2738.1 1047.5 2740.9 1051.5 2740.7C1055.5 2740.5 1092.7 2734.9 1096.0 2735.0C1099.3 2735.1 1113.9 2742.0 1116.8 2742.4C1119.7 2742.8 1150.0 2742.7 1154.5 2742.4C1159.0 2742.1 1200.0 2738.0 1206.0 2737.3C1212.0 2736.6 1267.8 2729.6 1274.7 2728.7C1281.6 2727.8 1336.5 2719.6 1343.4 2718.4C1350.3 2717.2 1406.8 2705.8 1412.0 2704.6C1417.2 2703.4 1442.2 2695.5 1446.4 2694.3C1450.7 2693.1 1497.0 2680.6 1497.0 2680.6C1497.0 2680.6 1492.4 2606.1 1492.4 2606.1Z" fill="#0054f9"/>
<path d="M1094.7 2092.5C1097.0 2092.4 1115.9 2092.7 1118.1 2093.9C1120.2 2095.1 1136.8 2114.3 1138.0 2116.5C1139.3 2118.7 1142.5 2135.9 1142.4 2138.2C1142.2 2140.4 1136.0 2159.6 1134.7 2161.5C1133.4 2163.4 1118.1 2175.3 1116.4 2176.5C1114.7 2177.6 1103.6 2184.0 1101.4 2184.8C1099.2 2185.6 1075.7 2192.8 1073.1 2193.1C1070.5 2193.5 1052.0 2192.4 1049.8 2192.5C1047.5 2192.6 1030.3 2195.2 1028.1 2194.8C1025.9 2194.4 1006.8 2186.5 1005.8 2184.8C1004.8 2183.1 1007.3 2163.9 1008.1 2161.5C1009.0 2159.1 1021.5 2138.7 1023.1 2136.5C1024.7 2134.3 1037.3 2120.2 1039.8 2118.2C1042.3 2116.2 1070.3 2097.8 1073.1 2096.5C1075.8 2095.3 1092.5 2092.7 1094.7 2092.5Z" fill="#0085f6"/>
<path d="M934.8 2341.6C936.0 2339.7 954.1 2328.0 956.5 2326.6C958.9 2325.2 979.6 2314.1 983.1 2313.3C986.6 2312.4 1022.3 2309.5 1026.4 2309.3C1030.6 2309.1 1062.0 2309.1 1066.4 2309.3C1070.8 2309.4 1110.8 2311.2 1114.9 2311.6C1119.0 2312.0 1144.9 2315.9 1148.2 2316.6C1151.6 2317.3 1178.2 2324.1 1181.6 2324.9C1184.9 2325.7 1212.2 2332.3 1214.9 2333.2C1217.5 2334.2 1232.9 2341.7 1234.9 2343.2C1236.8 2344.8 1252.4 2362.7 1253.2 2364.9C1254.0 2367.1 1251.3 2384.3 1250.8 2386.5C1250.4 2388.8 1246.0 2407.7 1244.8 2409.9C1243.7 2412.0 1230.4 2427.8 1228.2 2429.8C1226.0 2431.8 1204.4 2448.0 1201.5 2449.8C1198.7 2451.7 1174.6 2465.0 1171.6 2466.5C1168.6 2468.0 1144.4 2478.8 1141.6 2479.8C1138.8 2480.8 1118.8 2485.9 1114.9 2486.5C1111.1 2487.0 1070.4 2490.7 1065.0 2490.8C1059.5 2490.9 1010.7 2488.8 1006.5 2488.1C1002.2 2487.5 982.0 2479.5 979.8 2478.1C977.6 2476.8 965.2 2463.7 963.2 2461.5C961.2 2459.2 941.2 2435.8 939.8 2433.2C938.5 2430.6 936.6 2412.2 936.5 2409.9C936.4 2407.5 938.3 2388.9 938.2 2386.5C938.1 2384.2 934.3 2365.5 934.2 2363.2C934.0 2361.0 933.7 2343.4 934.8 2341.6Z" fill="#0085f6"/>
<path d="M514.9 2701.5C515.1 2700.3 525.2 2687.8 526.6 2686.5C528.0 2685.3 541.2 2677.5 543.2 2676.5C545.2 2675.5 564.4 2667.2 566.6 2666.5C568.7 2665.9 584.0 2663.7 586.5 2663.2C589.0 2662.7 613.4 2657.5 616.5 2656.5C619.7 2655.5 646.5 2644.6 649.8 2643.2C653.2 2641.9 679.8 2631.1 683.1 2629.9C686.5 2628.6 713.1 2619.3 716.5 2618.2C719.8 2617.2 746.4 2609.4 749.8 2608.2C753.1 2607.1 779.7 2596.2 783.1 2594.9C786.4 2593.7 813.1 2584.3 816.4 2583.3C819.7 2582.3 846.3 2575.6 849.7 2574.9C853.1 2574.3 882.5 2570.3 885.0 2569.9C887.5 2569.5 897.5 2567.4 899.9 2566.6C902.3 2565.8 929.8 2554.3 933.2 2553.3C936.5 2552.3 962.3 2547.1 966.5 2546.6C970.7 2546.1 1011.2 2543.6 1016.5 2543.3C1021.7 2543.0 1066.7 2540.5 1071.6 2540.6C1076.6 2540.7 1110.3 2544.5 1114.9 2545.0C1119.6 2545.4 1159.9 2549.5 1164.9 2549.9C1169.9 2550.4 1209.9 2552.7 1214.9 2553.3C1219.9 2553.9 1259.8 2560.9 1264.8 2561.6C1269.8 2562.3 1309.8 2565.9 1314.8 2566.6C1319.8 2567.4 1360.6 2575.4 1364.8 2576.6C1368.9 2577.8 1394.7 2588.6 1398.1 2589.9C1401.4 2591.3 1428.6 2601.9 1431.4 2603.2C1434.2 2604.6 1452.8 2615.0 1454.7 2616.6C1456.6 2618.2 1469.9 2632.7 1469.7 2634.9C1469.5 2637.1 1453.3 2658.0 1451.4 2659.9C1449.5 2661.8 1434.1 2671.7 1431.4 2673.2C1428.7 2674.7 1402.2 2688.3 1398.1 2689.9C1393.9 2691.4 1353.1 2703.6 1348.1 2704.8C1343.1 2706.1 1303.1 2713.9 1298.1 2714.8C1293.1 2715.8 1253.2 2722.4 1248.2 2723.2C1243.2 2723.9 1203.2 2729.3 1198.2 2729.8C1193.2 2730.3 1153.4 2733.1 1148.2 2733.2C1143.1 2733.2 1099.9 2731.3 1094.9 2731.5C1090.0 2731.7 1053.9 2736.2 1048.3 2736.5C1042.7 2736.7 990.6 2736.7 983.1 2736.5C975.7 2736.2 907.4 2731.8 899.9 2731.5C892.4 2731.2 839.9 2730.0 833.2 2729.8C826.6 2729.7 773.3 2728.4 766.6 2728.2C760.0 2727.9 706.7 2725.2 700.0 2724.8C693.3 2724.4 638.2 2720.0 633.2 2719.8C628.2 2719.7 603.4 2721.4 599.9 2721.5C596.4 2721.6 566.2 2721.7 563.2 2721.5C560.2 2721.2 541.9 2717.1 539.9 2716.5C537.9 2715.9 524.5 2710.6 523.3 2709.8C522.0 2709.1 514.8 2702.7 514.9 2701.5Z" fill="#0085f6"/>
<path d="M981.5 2365.6C981.9 2363.3 992.6 2343.2 994.8 2341.6C997.1 2340.0 1023.7 2333.8 1026.4 2333.2C1029.2 2332.7 1047.5 2330.8 1049.8 2330.6C1052.0 2330.3 1068.4 2328.3 1071.6 2328.2C1074.9 2328.2 1111.1 2329.6 1114.9 2329.9C1118.8 2330.2 1145.1 2334.3 1148.2 2334.9C1151.4 2335.5 1175.4 2340.1 1178.2 2341.6C1181.1 2343.1 1203.7 2362.6 1204.9 2364.9C1206.0 2367.1 1202.0 2384.3 1201.5 2386.5C1201.0 2388.8 1196.9 2407.4 1194.9 2409.9C1192.9 2412.3 1165.6 2432.9 1161.6 2434.8C1157.6 2436.8 1119.3 2447.4 1114.9 2448.2C1110.5 2449.0 1076.6 2450.5 1073.3 2450.5C1070.0 2450.4 1052.0 2447.5 1049.8 2447.2C1047.5 2446.9 1030.4 2444.9 1028.1 2444.2C1025.8 2443.5 1005.8 2434.9 1003.8 2433.2C1001.7 2431.5 988.0 2412.2 987.1 2409.9C986.3 2407.5 986.8 2388.8 986.5 2386.5C986.2 2384.3 981.1 2367.8 981.5 2365.6Z" fill="#00aafc"/>
<path d="M1035.0 2365.6C1036.6 2364.1 1067.6 2350.6 1071.6 2349.9C1075.6 2349.2 1111.9 2350.2 1114.9 2350.6C1117.9 2350.9 1129.7 2355.8 1131.6 2356.6C1133.5 2357.3 1151.4 2364.1 1152.2 2365.6C1153.1 2367.1 1148.9 2384.7 1148.2 2386.5C1147.6 2388.4 1140.8 2402.0 1139.9 2403.2C1139.0 2404.4 1131.2 2410.3 1129.9 2410.9C1128.7 2411.4 1117.8 2413.9 1114.9 2414.2C1112.0 2414.4 1074.5 2416.0 1071.6 2415.9C1068.8 2415.7 1059.6 2411.7 1058.3 2410.5C1057.1 2409.4 1047.6 2394.7 1046.6 2393.2C1045.7 2391.7 1040.6 2381.3 1040.0 2379.9C1039.4 2378.5 1033.4 2367.1 1035.0 2365.6Z" fill="#00d5f3"/>
<path d="M558.2 2702.2C558.4 2701.6 568.6 2695.6 569.9 2694.9C571.2 2694.1 583.1 2687.3 584.9 2687.2C586.7 2687.1 604.0 2692.9 605.9 2692.5C607.7 2692.2 619.3 2680.8 621.5 2679.9C623.7 2678.9 647.6 2673.8 649.8 2673.2C652.1 2672.6 664.0 2669.1 666.5 2668.2C669.0 2667.3 696.5 2656.2 699.8 2654.9C703.1 2653.5 730.1 2642.9 733.1 2641.6C736.1 2640.2 757.3 2629.6 759.8 2628.2C762.3 2626.8 780.7 2614.5 783.1 2613.2C785.4 2612.0 803.9 2604.7 806.4 2603.9C808.9 2603.1 830.0 2597.2 833.0 2596.6C836.0 2595.9 863.0 2591.3 866.4 2590.6C869.7 2589.8 896.5 2582.5 899.9 2581.6C903.2 2580.6 930.5 2572.5 933.2 2571.6C935.8 2570.7 950.7 2564.0 953.2 2563.3C955.7 2562.6 979.1 2557.8 983.1 2557.3C987.1 2556.7 1028.6 2552.9 1033.1 2552.6C1037.6 2552.3 1069.0 2550.9 1073.1 2550.9C1077.2 2550.9 1110.3 2552.3 1114.9 2552.6C1119.5 2552.9 1159.9 2556.6 1164.9 2557.3C1169.9 2558.0 1209.9 2565.8 1214.9 2566.6C1219.9 2567.4 1259.8 2572.5 1264.8 2573.3C1269.8 2574.0 1310.6 2580.6 1314.8 2581.6C1319.0 2582.6 1344.8 2591.6 1348.1 2592.6C1351.4 2593.6 1378.6 2599.9 1381.4 2600.9C1384.3 2601.9 1402.4 2611.5 1404.7 2613.2C1407.0 2614.9 1427.0 2632.6 1427.4 2634.9C1427.8 2637.1 1415.4 2656.1 1413.1 2658.2C1410.8 2660.3 1384.7 2674.9 1381.4 2676.5C1378.2 2678.1 1351.4 2688.7 1348.1 2689.9C1344.8 2691.0 1319.0 2698.8 1314.8 2699.8C1310.6 2700.9 1269.8 2710.5 1264.8 2711.5C1259.8 2712.5 1219.9 2718.6 1214.9 2719.2C1209.9 2719.8 1169.1 2723.0 1164.9 2723.2C1160.7 2723.4 1135.1 2723.3 1131.6 2723.2C1128.1 2723.0 1099.1 2719.8 1094.9 2719.8C1090.8 2719.9 1053.1 2724.0 1048.3 2724.2C1043.6 2724.3 1003.9 2723.3 999.8 2723.2C995.7 2723.0 969.8 2720.8 966.5 2720.5C963.2 2720.2 936.5 2717.5 933.2 2717.2C929.8 2716.8 903.2 2713.5 899.9 2713.2C896.5 2712.8 869.9 2710.7 866.6 2710.5C863.2 2710.3 836.6 2709.4 833.2 2709.2C829.9 2709.0 803.3 2706.8 799.9 2706.5C796.6 2706.2 769.6 2703.6 766.6 2703.2C763.6 2702.8 742.5 2698.5 740.0 2698.2C737.5 2697.8 720.0 2696.0 716.7 2695.8C713.3 2695.7 677.0 2695.1 673.2 2695.5C669.3 2695.9 642.7 2702.7 639.8 2703.2C637.0 2703.6 619.3 2704.6 616.5 2704.8C613.8 2705.0 587.4 2707.1 584.9 2707.2C582.4 2707.2 567.9 2705.8 566.6 2705.5C565.2 2705.3 558.1 2702.7 558.2 2702.2Z" fill="#00aafc"/>
<path d="M748.1 2678.2C747.2 2676.4 751.9 2661.8 753.1 2659.9C754.3 2658.0 763.3 2651.7 766.4 2649.9C769.5 2648.1 795.3 2635.2 799.7 2633.2C804.2 2631.2 828.6 2621.5 833.0 2619.9C837.5 2618.3 862.9 2610.9 866.4 2609.9C869.8 2608.9 880.8 2606.6 885.0 2604.9C889.3 2603.2 923.7 2586.9 930.0 2584.4C936.3 2582.0 973.3 2569.5 980.0 2568.0C986.7 2566.5 1023.3 2562.4 1030.0 2561.9C1036.7 2561.4 1073.3 2560.2 1080.0 2560.2C1086.7 2560.3 1123.3 2561.8 1130.0 2562.4C1136.7 2563.0 1173.3 2567.9 1180.0 2568.7C1186.7 2569.5 1224.7 2574.4 1230.0 2575.1C1235.3 2575.8 1256.2 2579.0 1260.2 2579.6C1264.3 2580.3 1286.6 2584.2 1290.4 2584.9C1294.3 2585.6 1314.6 2589.4 1317.6 2590.2C1320.7 2591.1 1333.1 2596.8 1335.8 2597.8C1338.5 2598.8 1355.2 2603.9 1358.4 2605.3C1361.7 2606.7 1381.7 2616.9 1384.1 2618.9C1386.5 2620.9 1394.6 2632.7 1394.7 2635.1C1394.8 2637.5 1387.6 2652.9 1385.6 2655.2C1383.7 2657.4 1369.3 2667.1 1366.0 2668.8C1362.7 2670.5 1339.8 2679.5 1335.8 2680.9C1331.7 2682.3 1309.6 2688.8 1305.6 2689.9C1301.5 2691.1 1279.4 2696.5 1275.3 2697.5C1271.3 2698.5 1248.1 2703.6 1245.1 2704.3C1242.1 2705.0 1234.3 2706.6 1230.0 2707.3C1225.7 2708.1 1186.7 2715.0 1180.0 2715.6C1173.3 2716.3 1136.7 2716.5 1130.0 2716.6C1123.3 2716.6 1086.7 2715.9 1080.0 2715.8C1073.3 2715.8 1036.7 2716.6 1030.0 2716.4C1023.3 2716.2 986.7 2713.6 980.0 2712.8C973.3 2712.1 936.3 2706.3 930.0 2705.5C923.7 2704.7 891.5 2702.0 885.0 2701.5C878.5 2701.0 838.7 2698.7 833.0 2698.2C827.4 2697.7 804.2 2694.6 799.7 2693.9C795.3 2693.1 769.9 2687.6 766.4 2686.5C763.0 2685.5 749.0 2680.0 748.1 2678.2Z" fill="#00d5f3"/>
<path d="M786.4 2658.2C787.7 2655.3 812.2 2638.9 816.4 2636.6C820.6 2634.2 845.1 2624.8 849.7 2623.2C854.3 2621.7 879.7 2615.3 885.0 2613.2C890.4 2611.2 923.7 2594.8 930.0 2592.3C936.3 2589.7 973.3 2576.2 980.0 2574.6C986.7 2572.9 1023.3 2568.4 1030.0 2567.9C1036.7 2567.3 1073.3 2566.2 1080.0 2566.2C1086.7 2566.2 1123.3 2567.4 1130.0 2567.9C1136.7 2568.5 1173.3 2573.5 1180.0 2574.4C1186.7 2575.2 1224.7 2580.3 1230.0 2581.2C1235.3 2582.0 1256.2 2585.7 1260.2 2586.4C1264.3 2587.2 1286.8 2591.6 1290.4 2592.5C1294.1 2593.3 1311.6 2598.2 1314.6 2599.3C1317.6 2600.3 1333.1 2606.9 1335.8 2608.4C1338.5 2609.8 1353.2 2618.7 1355.4 2620.4C1357.6 2622.2 1368.8 2632.9 1369.0 2635.1C1369.2 2637.3 1360.7 2651.4 1358.4 2653.7C1356.2 2655.9 1339.3 2667.0 1335.8 2668.8C1332.2 2670.6 1309.6 2679.5 1305.6 2680.9C1301.5 2682.3 1279.4 2688.8 1275.3 2689.9C1271.3 2691.1 1248.1 2696.7 1245.1 2697.5C1242.1 2698.3 1234.3 2700.3 1230.0 2701.3C1225.7 2702.2 1186.7 2710.8 1180.0 2711.5C1173.3 2712.2 1136.7 2712.3 1130.0 2712.3C1123.3 2712.4 1086.7 2712.4 1080.0 2712.3C1073.3 2712.3 1036.7 2711.9 1030.0 2711.6C1023.3 2711.2 986.7 2708.0 980.0 2707.1C973.3 2706.2 936.3 2698.9 930.0 2698.1C923.7 2697.3 891.5 2695.5 885.0 2694.9C878.5 2694.2 839.0 2689.2 833.0 2688.2C827.1 2687.2 799.5 2681.9 796.4 2679.9C793.3 2677.9 785.1 2661.1 786.4 2658.2Z" fill="#00f5fc"/>
<path d="M816.4 2658.2C816.8 2656.4 829.7 2645.1 833.0 2643.2C836.4 2641.3 862.9 2631.3 866.4 2629.9C869.8 2628.4 880.8 2623.7 885.0 2621.6C889.3 2619.5 923.7 2601.0 930.0 2598.2C936.3 2595.4 973.3 2581.3 980.0 2579.6C986.7 2577.9 1023.3 2573.0 1030.0 2572.4C1036.7 2571.8 1073.3 2570.7 1080.0 2570.7C1086.7 2570.6 1123.3 2571.6 1130.0 2572.1C1136.7 2572.7 1173.3 2577.8 1180.0 2578.7C1186.7 2579.5 1224.7 2584.1 1230.0 2584.9C1235.3 2585.8 1256.2 2590.1 1260.2 2591.0C1264.3 2591.8 1287.1 2596.8 1290.4 2597.8C1293.8 2598.7 1307.6 2604.1 1310.1 2605.3C1312.6 2606.5 1326.1 2614.6 1328.2 2615.9C1330.3 2617.2 1340.3 2623.7 1341.8 2625.0C1343.3 2626.3 1351.1 2633.2 1350.9 2635.1C1350.7 2637.0 1340.8 2651.6 1338.8 2653.7C1336.8 2655.7 1323.9 2664.1 1320.7 2665.8C1317.4 2667.5 1294.5 2677.9 1290.4 2679.4C1286.4 2680.9 1264.3 2687.3 1260.2 2688.4C1256.2 2689.6 1235.3 2695.4 1230.0 2696.7C1224.7 2698.1 1186.7 2707.5 1180.0 2708.3C1173.3 2709.2 1136.7 2709.0 1130.0 2709.1C1123.3 2709.2 1086.7 2709.7 1080.0 2709.6C1073.3 2709.5 1036.7 2708.3 1030.0 2707.9C1023.3 2707.4 986.7 2703.7 980.0 2702.7C973.3 2701.7 936.3 2693.5 930.0 2692.4C923.7 2691.3 890.4 2687.5 885.0 2686.5C879.7 2685.6 853.6 2679.3 849.7 2678.2C845.8 2677.1 828.6 2671.2 826.4 2669.9C824.2 2668.5 815.9 2660.0 816.4 2658.2Z" fill="#00ffd4"/>
<path d="M852.6 2657.5C852.7 2656.0 874.2 2636.7 876.5 2634.9C878.9 2633.1 897.9 2622.8 899.9 2621.6C901.9 2620.3 914.0 2611.2 916.5 2609.9C919.0 2608.6 946.5 2596.2 949.8 2594.9C953.2 2593.6 979.8 2584.1 983.1 2583.3C986.5 2582.4 1012.3 2577.7 1016.5 2577.3C1020.6 2576.8 1061.4 2575.0 1066.4 2574.9C1071.4 2574.8 1112.0 2574.8 1116.4 2574.9C1120.8 2575.1 1150.6 2577.7 1154.9 2578.3C1159.2 2578.8 1196.9 2585.7 1201.5 2586.6C1206.2 2587.5 1243.7 2595.6 1248.2 2596.6C1252.7 2597.6 1288.2 2605.4 1291.5 2606.6C1294.8 2607.7 1312.6 2618.5 1314.8 2619.9C1317.0 2621.3 1334.8 2633.1 1334.8 2634.9C1334.8 2636.7 1317.5 2654.5 1314.8 2656.5C1312.1 2658.6 1284.8 2674.9 1281.5 2676.5C1278.2 2678.2 1252.0 2688.6 1248.2 2689.9C1244.3 2691.1 1209.2 2700.6 1204.9 2701.5C1200.5 2702.4 1164.9 2708.0 1161.6 2708.2C1158.2 2708.4 1142.6 2705.9 1138.3 2705.8C1133.9 2705.8 1080.1 2707.2 1075.0 2707.2C1069.8 2707.1 1038.7 2705.1 1035.0 2704.8C1031.2 2704.6 1003.2 2701.9 999.8 2701.5C996.4 2701.1 969.8 2697.2 966.5 2696.5C963.2 2695.8 936.5 2689.2 933.2 2688.2C929.8 2687.2 902.9 2677.7 899.9 2676.5C896.9 2675.4 875.6 2665.8 873.2 2664.9C870.9 2663.9 852.4 2659.0 852.6 2657.5Z" fill="#00f0aa"/>
<path d="M1321.8 2635.9C1321.8 2638.1 1314.9 2647.4 1311.5 2650.4C1308.0 2653.4 1284.9 2669.4 1280.6 2672.0C1276.2 2674.6 1265.6 2679.2 1259.6 2681.4C1253.5 2683.5 1216.2 2696.1 1208.1 2698.1C1199.9 2700.0 1167.4 2704.2 1161.6 2704.6C1155.8 2704.9 1145.9 2702.6 1138.6 2702.6C1131.2 2702.5 1082.2 2704.3 1073.6 2704.3C1064.9 2704.2 1042.4 2702.7 1034.6 2701.9C1026.8 2701.0 986.6 2695.3 980.1 2694.2C973.5 2693.0 960.7 2689.7 956.1 2688.2C951.4 2686.8 928.3 2678.4 924.1 2676.4C919.8 2674.5 908.2 2667.2 905.1 2665.0C902.0 2662.9 885.7 2654.3 887.0 2650.4C888.2 2646.5 914.1 2622.7 920.1 2618.2C926.1 2613.8 953.8 2599.6 959.1 2597.0C964.4 2594.5 979.0 2589.1 983.6 2587.8C988.1 2586.5 1007.3 2582.4 1014.1 2581.6C1020.8 2580.8 1056.3 2578.2 1064.6 2577.9C1072.8 2577.6 1106.9 2577.8 1113.1 2577.9C1119.3 2578.1 1131.8 2578.9 1139.1 2579.9C1146.4 2581.0 1188.1 2587.6 1200.6 2590.3C1213.1 2593.0 1281.1 2609.7 1289.1 2612.1C1297.1 2614.6 1308.3 2622.3 1311.1 2624.2C1313.8 2626.2 1321.8 2633.7 1321.8 2635.9Z" fill="#00ff70"/>
<path d="M912.2 2648.9C912.3 2645.7 920.9 2630.3 925.1 2626.3C929.3 2622.4 957.6 2604.3 962.6 2601.4C967.5 2598.6 979.8 2593.8 984.1 2592.5C988.4 2591.1 1006.7 2586.6 1014.1 2585.7C1021.4 2584.7 1063.8 2581.5 1072.1 2581.2C1080.3 2580.8 1107.1 2581.2 1113.1 2581.5C1119.0 2581.7 1136.5 2582.7 1143.6 2583.8C1150.6 2584.8 1186.1 2591.3 1198.1 2594.1C1210.0 2597.0 1280.1 2616.1 1286.6 2618.1C1293.0 2620.0 1302.7 2625.4 1304.7 2626.9C1306.8 2628.5 1311.4 2635.4 1311.6 2636.9C1311.7 2638.5 1308.5 2643.2 1306.3 2645.4C1304.2 2647.6 1290.7 2660.5 1286.0 2663.4C1281.3 2666.4 1256.7 2678.5 1250.1 2681.1C1243.4 2683.8 1213.9 2693.9 1206.6 2695.5C1199.2 2697.1 1167.2 2700.1 1161.6 2700.3C1155.9 2700.6 1145.9 2698.7 1139.1 2698.7C1132.2 2698.7 1087.7 2700.7 1079.6 2700.7C1071.4 2700.7 1049.6 2699.8 1041.6 2698.9C1033.6 2698.0 990.4 2691.4 983.6 2690.1C976.8 2688.8 964.5 2685.0 960.1 2683.3C955.6 2681.7 933.0 2671.3 930.4 2669.9C927.8 2668.6 925.1 2666.3 923.6 2664.6C922.1 2662.8 912.1 2652.1 912.2 2648.9Z" fill="#00fc40"/>
<path d="M929.2 2646.9C929.2 2644.9 931.6 2636.0 932.1 2634.4C932.7 2632.9 934.3 2630.1 936.1 2628.6C937.8 2627.0 959.5 2609.6 963.6 2607.0C967.6 2604.4 980.5 2598.5 985.1 2597.0C989.6 2595.5 1010.8 2590.1 1018.1 2589.0C1025.3 2588.0 1062.1 2584.8 1072.1 2584.6C1082.0 2584.4 1127.9 2585.8 1137.1 2586.6C1146.2 2587.4 1169.4 2591.3 1181.6 2594.4C1193.8 2597.5 1278.1 2622.1 1283.6 2623.8C1289.1 2625.5 1297.9 2629.1 1299.6 2630.2C1301.2 2631.3 1304.3 2634.7 1303.1 2636.9C1301.8 2639.1 1286.9 2657.0 1282.3 2660.4C1277.8 2663.8 1254.9 2674.8 1248.6 2677.5C1242.2 2680.2 1212.6 2691.1 1206.1 2692.7C1199.5 2694.2 1176.0 2696.0 1170.1 2696.2C1164.1 2696.3 1143.0 2694.7 1135.1 2694.8C1127.1 2694.9 1082.4 2697.0 1074.6 2697.1C1066.8 2697.1 1048.9 2696.3 1041.6 2695.4C1034.2 2694.5 993.1 2687.6 986.6 2686.2C980.0 2684.7 967.2 2680.0 963.1 2678.2C958.9 2676.3 938.5 2665.2 936.6 2663.9C934.6 2662.7 933.0 2659.8 932.4 2658.4C931.8 2657.0 929.2 2648.9 929.2 2646.9Z" fill="#00fa2d"/>
<path d="M941.5 2634.9C942.8 2632.6 964.2 2613.2 966.5 2611.6C968.7 2609.9 984.0 2602.5 986.5 2601.6C989.0 2600.7 1013.3 2593.9 1016.5 2593.3C1019.6 2592.6 1045.9 2589.2 1049.8 2588.9C1053.6 2588.6 1088.5 2587.2 1093.1 2587.3C1097.7 2587.3 1137.2 2590.0 1141.6 2590.6C1146.0 2591.1 1177.9 2597.4 1181.6 2598.2C1185.2 2599.1 1211.5 2607.2 1214.9 2608.2C1218.2 2609.3 1244.8 2618.8 1248.2 2619.9C1251.5 2621.0 1279.1 2629.1 1281.5 2629.9C1283.9 2630.6 1296.6 2633.6 1296.5 2634.9C1296.4 2636.2 1282.2 2654.6 1279.8 2656.5C1277.4 2658.5 1251.9 2671.5 1248.2 2673.2C1244.4 2674.9 1208.5 2688.9 1204.9 2689.9C1201.2 2690.8 1178.2 2692.5 1174.9 2692.5C1171.6 2692.6 1143.2 2690.8 1138.3 2690.9C1133.3 2690.9 1080.1 2693.2 1075.0 2693.2C1069.8 2693.2 1039.4 2692.1 1035.0 2691.5C1030.6 2690.9 989.9 2682.4 986.5 2681.5C983.1 2680.6 968.7 2674.4 966.5 2673.2C964.2 2672.0 942.8 2659.5 941.5 2657.5C940.3 2655.6 940.3 2637.2 941.5 2634.9Z" fill="#00f500"/>
<path d="M950.3 2640.3C950.9 2638.0 958.0 2628.2 959.6 2626.3C961.2 2624.3 966.2 2619.1 969.5 2617.1C972.8 2615.0 995.3 2603.6 999.5 2601.8C1003.7 2600.1 1016.1 2597.0 1020.0 2596.2C1023.9 2595.4 1040.0 2592.9 1046.0 2592.4C1052.0 2591.9 1084.1 2589.9 1092.0 2590.0C1099.9 2590.1 1133.4 2592.6 1141.0 2593.6C1148.6 2594.5 1173.3 2598.6 1183.5 2601.7C1193.7 2604.7 1257.5 2627.7 1263.5 2630.1C1269.6 2632.6 1279.3 2638.5 1280.2 2640.3C1281.2 2642.1 1276.3 2649.8 1274.7 2651.8C1273.0 2653.8 1265.8 2661.4 1260.0 2664.2C1254.2 2667.0 1210.6 2684.1 1204.0 2686.2C1197.4 2688.3 1186.1 2689.5 1181.0 2689.6C1175.9 2689.7 1151.1 2687.5 1142.5 2687.6C1133.9 2687.6 1086.4 2690.2 1077.5 2690.3C1068.6 2690.3 1043.5 2688.8 1036.0 2687.7C1028.5 2686.6 993.6 2678.5 988.0 2676.8C982.4 2675.1 972.0 2669.8 969.0 2667.8C966.0 2665.8 953.2 2655.0 951.7 2652.8C950.1 2650.5 949.6 2642.5 950.3 2640.3Z" fill="#2df800"/>
<path d="M959.9 2643.8C960.1 2642.6 962.3 2635.3 963.1 2633.8C963.9 2632.2 966.6 2627.2 969.5 2625.0C972.4 2622.9 997.3 2607.1 1003.1 2604.8C1008.8 2602.4 1031.1 2597.8 1038.5 2596.9C1045.9 2595.9 1083.3 2593.2 1092.0 2593.3C1100.7 2593.3 1134.6 2595.9 1142.5 2597.0C1150.4 2598.0 1180.9 2603.9 1187.2 2605.8C1193.5 2607.7 1212.2 2617.5 1218.0 2619.8C1223.8 2622.1 1254.6 2632.6 1257.0 2633.6C1259.4 2634.5 1262.6 2636.9 1263.5 2637.8C1264.5 2638.6 1268.6 2642.1 1268.5 2643.8C1268.3 2645.4 1262.9 2655.7 1262.0 2657.3C1261.0 2658.8 1259.2 2661.6 1257.0 2662.6C1254.8 2663.5 1207.0 2681.0 1201.0 2682.9C1195.0 2684.8 1185.9 2686.5 1182.5 2686.5C1179.1 2686.6 1167.6 2683.6 1160.0 2683.6C1152.4 2683.7 1101.8 2687.0 1091.5 2687.0C1081.2 2686.9 1044.8 2684.5 1036.5 2683.3C1028.2 2682.0 996.9 2674.0 991.6 2672.3C986.3 2670.5 975.6 2664.8 973.1 2662.8C970.5 2660.7 961.9 2648.9 961.1 2647.8C960.3 2646.6 959.8 2644.9 959.9 2643.8Z" fill="#64ff00"/>
<path d="M970.2 2637.3C970.5 2636.0 971.7 2631.1 974.0 2629.2C976.3 2627.3 1000.6 2610.2 1006.0 2607.8C1011.4 2605.4 1031.7 2601.3 1039.0 2600.3C1046.3 2599.4 1085.4 2596.5 1094.0 2596.5C1102.6 2596.5 1134.8 2599.1 1142.5 2600.1C1150.2 2601.1 1179.9 2606.5 1186.0 2608.5C1192.1 2610.6 1210.3 2622.0 1216.0 2624.5C1221.7 2627.0 1251.6 2637.2 1254.0 2638.4C1256.4 2639.5 1258.4 2643.2 1258.7 2644.8C1259.0 2646.3 1257.7 2656.0 1257.4 2657.3C1257.1 2658.5 1256.2 2659.9 1255.0 2660.4C1253.8 2660.8 1192.9 2681.8 1185.0 2683.3C1177.1 2684.9 1168.3 2679.2 1160.5 2679.3C1152.8 2679.3 1101.0 2683.6 1092.0 2683.8C1083.0 2684.1 1060.3 2682.8 1053.0 2681.7C1045.8 2680.7 1008.8 2672.3 1005.0 2671.4C1001.2 2670.5 996.2 2668.3 994.0 2667.3C991.8 2666.3 980.6 2661.1 978.6 2659.3C976.7 2657.4 971.5 2646.6 970.8 2644.8C970.1 2642.9 970.0 2638.6 970.2 2637.3Z" fill="#9bff00"/>
<path d="M977.1 2634.9C978.3 2632.6 1003.7 2613.1 1006.5 2611.6C1009.3 2610.1 1031.0 2605.4 1033.1 2604.9C1035.2 2604.5 1045.3 2602.8 1048.3 2602.6C1051.3 2602.3 1088.6 2599.9 1093.3 2599.9C1097.9 2599.9 1136.9 2602.7 1141.6 2603.2C1146.2 2603.8 1183.6 2610.6 1186.6 2611.6C1189.6 2612.6 1200.1 2622.3 1201.5 2623.2C1203.0 2624.1 1212.4 2628.9 1214.9 2629.9C1217.4 2630.9 1249.5 2641.8 1251.5 2643.2C1253.5 2644.6 1256.0 2656.2 1254.2 2657.5C1252.3 2658.9 1218.4 2668.7 1214.9 2669.9C1211.3 2671.0 1185.9 2680.3 1183.2 2680.5C1180.6 2680.8 1163.8 2675.1 1161.6 2674.9C1159.3 2674.7 1141.6 2676.2 1138.3 2676.5C1134.9 2676.8 1099.1 2680.4 1094.9 2680.5C1090.8 2680.6 1058.1 2678.6 1055.0 2678.2C1051.9 2677.8 1035.5 2673.8 1033.1 2673.2C1030.7 2672.6 1008.9 2667.4 1006.5 2666.5C1004.0 2665.7 985.3 2658.1 983.8 2656.5C982.3 2655.0 976.0 2637.1 977.1 2634.9Z" fill="#d0ff00"/>
<path d="M982.3 2636.9C984.1 2633.8 1004.5 2617.7 1008.6 2615.4C1012.8 2613.1 1026.8 2610.3 1032.1 2609.4C1037.5 2608.4 1066.2 2604.5 1073.1 2604.1C1080.1 2603.6 1109.5 2603.8 1115.1 2604.1C1120.8 2604.3 1135.4 2606.1 1141.1 2607.0C1146.9 2607.9 1179.3 2613.6 1184.1 2615.2C1189.0 2616.8 1196.8 2625.1 1199.1 2626.7C1201.5 2628.2 1208.6 2631.9 1212.6 2633.5C1216.6 2635.1 1244.9 2645.0 1247.1 2646.3C1249.4 2647.6 1251.5 2652.8 1249.1 2653.9C1246.8 2655.0 1190.6 2674.5 1183.1 2675.9C1175.7 2677.3 1167.4 2670.9 1160.1 2670.9C1152.9 2670.9 1104.4 2676.1 1095.6 2676.4C1086.9 2676.6 1062.3 2675.4 1054.6 2674.1C1047.0 2672.8 1009.8 2662.6 1004.1 2660.8C998.5 2659.1 989.0 2655.0 987.1 2653.0C985.3 2651.0 980.5 2640.0 982.3 2636.9Z" fill="#faff00"/>
<path d="M1194.8 2648.4C1194.2 2650.4 1185.5 2655.8 1181.6 2657.3C1177.8 2658.9 1154.8 2665.6 1148.1 2666.8C1141.5 2668.0 1107.9 2671.2 1101.6 2671.6C1095.4 2672.0 1078.6 2672.2 1073.1 2671.7C1067.7 2671.1 1040.9 2666.5 1035.9 2664.9C1030.9 2663.3 1016.1 2654.7 1013.1 2652.8C1010.2 2650.8 1000.8 2643.2 1000.0 2641.4C999.3 2639.6 1003.5 2632.8 1004.3 2631.4C1005.2 2630.0 1007.9 2626.0 1010.1 2624.7C1012.4 2623.3 1026.5 2616.5 1031.6 2615.1C1036.8 2613.7 1065.2 2608.4 1072.1 2607.8C1079.1 2607.1 1108.5 2606.8 1114.6 2607.2C1120.8 2607.5 1140.2 2610.6 1145.6 2612.0C1151.1 2613.3 1176.5 2621.5 1180.1 2623.3C1183.8 2625.1 1187.7 2631.3 1188.9 2633.4C1190.1 2635.5 1195.4 2646.4 1194.8 2648.4Z" fill="#ffd700"/>
<path d="M1010.9 2637.9C1011.1 2636.9 1012.7 2630.9 1014.6 2629.4C1016.6 2627.9 1029.9 2621.2 1034.6 2619.7C1039.4 2618.2 1065.0 2612.2 1071.1 2611.4C1077.3 2610.6 1102.8 2609.9 1108.6 2610.2C1114.5 2610.5 1135.4 2613.5 1141.1 2615.1C1146.9 2616.7 1174.5 2628.0 1177.1 2629.5C1179.8 2631.0 1180.7 2636.5 1180.7 2637.9C1180.7 2639.3 1179.3 2644.2 1177.0 2645.9C1174.6 2647.7 1153.2 2660.2 1148.1 2661.9C1143.1 2663.6 1123.1 2666.0 1116.6 2666.5C1110.1 2666.9 1076.6 2667.8 1070.1 2667.3C1063.7 2666.9 1043.7 2662.9 1039.6 2661.4C1035.6 2660.0 1024.3 2651.6 1022.0 2649.9C1019.8 2648.2 1013.4 2642.4 1012.5 2641.4C1011.6 2640.5 1010.7 2638.9 1010.9 2637.9Z" fill="#f8aa00"/>
<path d="M1018.3 2634.9C1018.7 2633.8 1032.3 2625.9 1035.0 2624.9C1037.7 2623.9 1067.6 2615.5 1071.6 2614.9C1075.6 2614.3 1111.4 2613.0 1114.9 2613.2C1118.4 2613.5 1139.3 2618.5 1141.6 2619.2C1143.9 2620.0 1160.0 2627.4 1161.6 2628.2C1163.2 2629.0 1174.0 2633.4 1173.2 2634.9C1172.5 2636.4 1149.5 2656.2 1146.6 2657.5C1143.7 2658.9 1118.7 2662.3 1114.9 2662.5C1111.2 2662.8 1075.3 2663.5 1071.6 2663.2C1068.0 2663.0 1043.8 2658.4 1041.6 2657.5C1039.5 2656.7 1029.5 2647.7 1028.3 2646.5C1027.2 2645.4 1018.0 2636.0 1018.3 2634.9Z" fill="#f58200"/>
<path d="M1222.5 2657.3C1222.5 2657.2 1227.1 2654.5 1227.5 2654.5C1227.9 2654.5 1233.5 2657.4 1233.5 2657.5C1233.5 2657.6 1228.4 2658.6 1228.0 2658.6C1227.6 2658.6 1222.5 2657.4 1222.5 2657.3Z" fill="#ffd700"/>
<path d="M1031.7 2634.9C1032.2 2633.7 1051.8 2624.0 1055.0 2623.2C1058.1 2622.4 1091.4 2619.3 1094.9 2619.2C1098.4 2619.2 1121.9 2620.8 1124.9 2621.6C1127.9 2622.3 1154.1 2633.6 1154.9 2634.9C1155.7 2636.1 1143.2 2645.6 1141.6 2646.5C1139.9 2647.5 1123.9 2652.8 1121.6 2653.2C1119.3 2653.6 1097.8 2654.9 1094.9 2654.9C1092.1 2654.8 1067.5 2653.0 1065.0 2652.5C1062.5 2652.1 1046.6 2647.4 1045.0 2646.5C1043.3 2645.7 1031.2 2636.1 1031.7 2634.9Z" fill="#ff5200"/>
<path d="M1046.6 2634.9C1046.6 2634.1 1069.2 2627.1 1071.6 2626.6C1074.0 2626.1 1092.6 2624.9 1094.9 2624.9C1097.3 2624.9 1116.0 2626.1 1118.3 2626.6C1120.5 2627.1 1139.9 2634.1 1139.9 2634.9C1139.9 2635.7 1120.5 2642.7 1118.3 2643.2C1116.0 2643.8 1097.3 2645.9 1094.9 2645.9C1092.6 2645.9 1074.0 2643.8 1071.6 2643.2C1069.2 2642.7 1046.6 2635.7 1046.6 2634.9Z" fill="#fa2800"/>
<path d="M1070.0 2634.9C1070.0 2634.6 1092.4 2632.2 1094.9 2632.2C1097.4 2632.2 1119.9 2634.6 1119.9 2634.9C1119.9 2635.2 1097.4 2638.2 1094.9 2638.2C1092.4 2638.2 1070.0 2635.2 1070.0 2634.9Z" fill="#ff0000"/>
<path d="M981.5 2365.6C981.9 2363.3 992.6 2343.2 994.8 2341.6C997.1 2340.0 1023.7 2333.8 1026.4 2333.2C1029.2 2332.7 1047.5 2330.8 1049.8 2330.6C1052.0 2330.3 1068.4 2328.3 1071.6 2328.2C1074.9 2328.2 1111.1 2329.6 1114.9 2329.9C1118.8 2330.2 1145.1 2334.3 1148.2 2334.9C1151.4 2335.5 1175.4 2340.1 1178.2 2341.6C1181.1 2343.1 1203.7 2362.6 1204.9 2364.9C1206.0 2367.1 1202.0 2384.3 1201.5 2386.5C1201.0 2388.8 1196.9 2407.4 1194.9 2409.9C1192.9 2412.3 1165.6 2432.9 1161.6 2434.8C1157.6 2436.8 1119.3 2447.4 1114.9 2448.2C1110.5 2449.0 1076.6 2450.5 1073.3 2450.5C1070.0 2450.4 1052.0 2447.5 1049.8 2447.2C1047.5 2446.9 1030.4 2444.9 1028.1 2444.2C1025.8 2443.5 1005.8 2434.9 1003.8 2433.2C1001.7 2431.5 988.0 2412.2 987.1 2409.9C986.3 2407.5 986.8 2388.8 986.5 2386.5C986.2 2384.3 981.1 2367.8 981.5 2365.6Z" fill="none" stroke="#0000a0" stroke-width="2.4" stroke-linejoin="round"/>
<path d="M558.2 2702.2C558.4 2701.6 568.6 2695.6 569.9 2694.9C571.2 2694.1 583.1 2687.3 584.9 2687.2C586.7 2687.1 604.0 2692.9 605.9 2692.5C607.7 2692.2 619.3 2680.8 621.5 2679.9C623.7 2678.9 647.6 2673.8 649.8 2673.2C652.1 2672.6 664.0 2669.1 666.5 2668.2C669.0 2667.3 696.5 2656.2 699.8 2654.9C703.1 2653.5 730.1 2642.9 733.1 2641.6C736.1 2640.2 757.3 2629.6 759.8 2628.2C762.3 2626.8 780.7 2614.5 783.1 2613.2C785.4 2612.0 803.9 2604.7 806.4 2603.9C808.9 2603.1 830.0 2597.2 833.0 2596.6C836.0 2595.9 863.0 2591.3 866.4 2590.6C869.7 2589.8 896.5 2582.5 899.9 2581.6C903.2 2580.6 930.5 2572.5 933.2 2571.6C935.8 2570.7 950.7 2564.0 953.2 2563.3C955.7 2562.6 979.1 2557.8 983.1 2557.3C987.1 2556.7 1028.6 2552.9 1033.1 2552.6C1037.6 2552.3 1069.0 2550.9 1073.1 2550.9C1077.2 2550.9 1110.3 2552.3 1114.9 2552.6C1119.5 2552.9 1159.9 2556.6 1164.9 2557.3C1169.9 2558.0 1209.9 2565.8 1214.9 2566.6C1219.9 2567.4 1259.8 2572.5 1264.8 2573.3C1269.8 2574.0 1310.6 2580.6 1314.8 2581.6C1319.0 2582.6 1344.8 2591.6 1348.1 2592.6C1351.4 2593.6 1378.6 2599.9 1381.4 2600.9C1384.3 2601.9 1402.4 2611.5 1404.7 2613.2C1407.0 2614.9 1427.0 2632.6 1427.4 2634.9C1427.8 2637.1 1415.4 2656.1 1413.1 2658.2C1410.8 2660.3 1384.7 2674.9 1381.4 2676.5C1378.2 2678.1 1351.4 2688.7 1348.1 2689.9C1344.8 2691.0 1319.0 2698.8 1314.8 2699.8C1310.6 2700.9 1269.8 2710.5 1264.8 2711.5C1259.8 2712.5 1219.9 2718.6 1214.9 2719.2C1209.9 2719.8 1169.1 2723.0 1164.9 2723.2C1160.7 2723.4 1135.1 2723.3 1131.6 2723.2C1128.1 2723.0 1099.1 2719.8 1094.9 2719.8C1090.8 2719.9 1053.1 2724.0 1048.3 2724.2C1043.6 2724.3 1003.9 2723.3 999.8 2723.2C995.7 2723.0 969.8 2720.8 966.5 2720.5C963.2 2720.2 936.5 2717.5 933.2 2717.2C929.8 2716.8 903.2 2713.5 899.9 2713.2C896.5 2712.8 869.9 2710.7 866.6 2710.5C863.2 2710.3 836.6 2709.4 833.2 2709.2C829.9 2709.0 803.3 2706.8 799.9 2706.5C796.6 2706.2 769.6 2703.6 766.6 2703.2C763.6 2702.8 742.5 2698.5 740.0 2698.2C737.5 2697.8 720.0 2696.0 716.7 2695.8C713.3 2695.7 677.0 2695.1 673.2 2695.5C669.3 2695.9 642.7 2702.7 639.8 2703.2C637.0 2703.6 619.3 2704.6 616.5 2704.8C613.8 2705.0 587.4 2707.1 584.9 2707.2C582.4 2707.2 567.9 2705.8 566.6 2705.5C565.2 2705.3 558.1 2702.7 558.2 2702.2Z" fill="none" stroke="#0000a0" stroke-width="2.4" stroke-linejoin="round"/>
<path d="M852.6 2657.5C852.7 2656.0 874.2 2636.7 876.5 2634.9C878.9 2633.1 897.9 2622.8 899.9 2621.6C901.9 2620.3 914.0 2611.2 916.5 2609.9C919.0 2608.6 946.5 2596.2 949.8 2594.9C953.2 2593.6 979.8 2584.1 983.1 2583.3C986.5 2582.4 1012.3 2577.7 1016.5 2577.3C1020.6 2576.8 1061.4 2575.0 1066.4 2574.9C1071.4 2574.8 1112.0 2574.8 1116.4 2574.9C1120.8 2575.1 1150.6 2577.7 1154.9 2578.3C1159.2 2578.8 1196.9 2585.7 1201.5 2586.6C1206.2 2587.5 1243.7 2595.6 1248.2 2596.6C1252.7 2597.6 1288.2 2605.4 1291.5 2606.6C1294.8 2607.7 1312.6 2618.5 1314.8 2619.9C1317.0 2621.3 1334.8 2633.1 1334.8 2634.9C1334.8 2636.7 1317.5 2654.5 1314.8 2656.5C1312.1 2658.6 1284.8 2674.9 1281.5 2676.5C1278.2 2678.2 1252.0 2688.6 1248.2 2689.9C1244.3 2691.1 1209.2 2700.6 1204.9 2701.5C1200.5 2702.4 1164.9 2708.0 1161.6 2708.2C1158.2 2708.4 1142.6 2705.9 1138.3 2705.8C1133.9 2705.8 1080.1 2707.2 1075.0 2707.2C1069.8 2707.1 1038.7 2705.1 1035.0 2704.8C1031.2 2704.6 1003.2 2701.9 999.8 2701.5C996.4 2701.1 969.8 2697.2 966.5 2696.5C963.2 2695.8 936.5 2689.2 933.2 2688.2C929.8 2687.2 902.9 2677.7 899.9 2676.5C896.9 2675.4 875.6 2665.8 873.2 2664.9C870.9 2663.9 852.4 2659.0 852.6 2657.5Z" fill="none" stroke="#000090" stroke-width="2.4" stroke-linejoin="round"/>
<path d="M941.5 2634.9C942.8 2632.6 964.2 2613.2 966.5 2611.6C968.7 2609.9 984.0 2602.5 986.5 2601.6C989.0 2600.7 1013.3 2593.9 1016.5 2593.3C1019.6 2592.6 1045.9 2589.2 1049.8 2588.9C1053.6 2588.6 1088.5 2587.2 1093.1 2587.3C1097.7 2587.3 1137.2 2590.0 1141.6 2590.6C1146.0 2591.1 1177.9 2597.4 1181.6 2598.2C1185.2 2599.1 1211.5 2607.2 1214.9 2608.2C1218.2 2609.3 1244.8 2618.8 1248.2 2619.9C1251.5 2621.0 1279.1 2629.1 1281.5 2629.9C1283.9 2630.6 1296.6 2633.6 1296.5 2634.9C1296.4 2636.2 1282.2 2654.6 1279.8 2656.5C1277.4 2658.5 1251.9 2671.5 1248.2 2673.2C1244.4 2674.9 1208.5 2688.9 1204.9 2689.9C1201.2 2690.8 1178.2 2692.5 1174.9 2692.5C1171.6 2692.6 1143.2 2690.8 1138.3 2690.9C1133.3 2690.9 1080.1 2693.2 1075.0 2693.2C1069.8 2693.2 1039.4 2692.1 1035.0 2691.5C1030.6 2690.9 989.9 2682.4 986.5 2681.5C983.1 2680.6 968.7 2674.4 966.5 2673.2C964.2 2672.0 942.8 2659.5 941.5 2657.5C940.3 2655.6 940.3 2637.2 941.5 2634.9Z" fill="none" stroke="#000040" stroke-width="2.4" stroke-linejoin="round"/>
<path d="M977.1 2634.9C978.3 2632.6 1003.7 2613.1 1006.5 2611.6C1009.3 2610.1 1031.0 2605.4 1033.1 2604.9C1035.2 2604.5 1045.3 2602.8 1048.3 2602.6C1051.3 2602.3 1088.6 2599.9 1093.3 2599.9C1097.9 2599.9 1136.9 2602.7 1141.6 2603.2C1146.2 2603.8 1183.6 2610.6 1186.6 2611.6C1189.6 2612.6 1200.1 2622.3 1201.5 2623.2C1203.0 2624.1 1212.4 2628.9 1214.9 2629.9C1217.4 2630.9 1249.5 2641.8 1251.5 2643.2C1253.5 2644.6 1256.0 2656.2 1254.2 2657.5C1252.3 2658.9 1218.4 2668.7 1214.9 2669.9C1211.3 2671.0 1185.9 2680.3 1183.2 2680.5C1180.6 2680.8 1163.8 2675.1 1161.6 2674.9C1159.3 2674.7 1141.6 2676.2 1138.3 2676.5C1134.9 2676.8 1099.1 2680.4 1094.9 2680.5C1090.8 2680.6 1058.1 2678.6 1055.0 2678.2C1051.9 2677.8 1035.5 2673.8 1033.1 2673.2C1030.7 2672.6 1008.9 2667.4 1006.5 2666.5C1004.0 2665.7 985.3 2658.1 983.8 2656.5C982.3 2655.0 976.0 2637.1 977.1 2634.9Z" fill="none" stroke="#000040" stroke-width="2.4" stroke-linejoin="round"/>
<path d="M1018.3 2634.9C1018.7 2633.8 1032.3 2625.9 1035.0 2624.9C1037.7 2623.9 1067.6 2615.5 1071.6 2614.9C1075.6 2614.3 1111.4 2613.0 1114.9 2613.2C1118.4 2613.5 1139.3 2618.5 1141.6 2619.2C1143.9 2620.0 1160.0 2627.4 1161.6 2628.2C1163.2 2629.0 1174.0 2633.4 1173.2 2634.9C1172.5 2636.4 1149.5 2656.2 1146.6 2657.5C1143.7 2658.9 1118.7 2662.3 1114.9 2662.5C1111.2 2662.8 1075.3 2663.5 1071.6 2663.2C1068.0 2663.0 1043.8 2658.4 1041.6 2657.5C1039.5 2656.7 1029.5 2647.7 1028.3 2646.5C1027.2 2645.4 1018.0 2636.0 1018.3 2634.9Z" fill="none" stroke="#000018" stroke-width="2.4" stroke-linejoin="round"/>
</g>
<rect x="1498.6" y="2820.69" width="96.80000000000018" height="46.01" fill="#0000ff"/>
<rect x="1498.6" y="2775.28" width="96.80000000000018" height="46.01" fill="#0000ff"/>
<rect x="1498.6" y="2729.88" width="96.80000000000018" height="46.01" fill="#0024ff"/>
<rect x="1498.6" y="2684.47" width="96.80000000000018" height="46.01" fill="#0054f9"/>
<rect x="1498.6" y="2639.06" width="96.80000000000018" height="46.01" fill="#0085f6"/>
<rect x="1498.6" y="2593.65" width="96.80000000000018" height="46.01" fill="#00aafc"/>
<rect x="1498.6" y="2548.24" width="96.80000000000018" height="46.01" fill="#00d5f3"/>
<rect x="1498.6" y="2502.84" width="96.80000000000018" height="46.01" fill="#00f5fc"/>
<rect x="1498.6" y="2457.43" width="96.80000000000018" height="46.01" fill="#00ffd4"/>
<rect x="1498.6" y="2412.02" width="96.80000000000018" height="46.01" fill="#00f0aa"/>
<rect x="1498.6" y="2366.61" width="96.80000000000018" height="46.01" fill="#00ff70"/>
<rect x="1498.6" y="2321.20" width="96.80000000000018" height="46.01" fill="#00fc40"/>
<rect x="1498.6" y="2275.80" width="96.80000000000018" height="46.01" fill="#00fa2d"/>
<rect x="1498.6" y="2230.39" width="96.80000000000018" height="46.01" fill="#00f500"/>
<rect x="1498.6" y="2184.98" width="96.80000000000018" height="46.01" fill="#2df800"/>
<rect x="1498.6" y="2139.57" width="96.80000000000018" height="46.01" fill="#64ff00"/>
<rect x="1498.6" y="2094.16" width="96.80000000000018" height="46.01" fill="#9bff00"/>
<rect x="1498.6" y="2048.76" width="96.80000000000018" height="46.01" fill="#d0ff00"/>
<rect x="1498.6" y="2003.35" width="96.80000000000018" height="46.01" fill="#faff00"/>
<rect x="1498.6" y="1957.94" width="96.80000000000018" height="46.01" fill="#ffd700"/>
<rect x="1498.6" y="1912.53" width="96.80000000000018" height="46.01" fill="#f8aa00"/>
<rect x="1498.6" y="1867.12" width="96.80000000000018" height="46.01" fill="#f58200"/>
<rect x="1498.6" y="1821.72" width="96.80000000000018" height="46.01" fill="#ff5200"/>
<rect x="1498.6" y="1776.31" width="96.80000000000018" height="46.01" fill="#fa2800"/>
<rect x="1498.6" y="1730.90" width="96.80000000000018" height="46.01" fill="#ff0000"/>
<text x="1610.5" y="2831.49" font-size="34.5" font-family='"Liberation Serif", "DejaVu Serif", serif'>0.000</text>
<text x="1610.5" y="2649.86" font-size="34.5" font-family='"Liberation Serif", "DejaVu Serif", serif'>43.33</text>
<text x="1610.5" y="2468.23" font-size="34.5" font-family='"Liberation Serif", "DejaVu Serif", serif'>86.67</text>
<text x="1610.5" y="2286.60" font-size="34.5" font-family='"Liberation Serif", "DejaVu Serif", serif'>130.0</text>
<text x="1610.5" y="2104.96" font-size="34.5" font-family='"Liberation Serif", "DejaVu Serif", serif'>173.3</text>
<text x="1610.5" y="1923.33" font-size="34.5" font-family='"Liberation Serif", "DejaVu Serif", serif'>216.7</text>
<text x="1610.5" y="1741.70" font-size="34.5" font-family='"Liberation Serif", "DejaVu Serif", serif'>260.0</text>
<rect x="205" y="2340" width="1390.4" height="1" fill="#fff" fill-opacity="0.28"/>
<rect x="208" y="1732.8" width="1286.5" height="1127.3999999999999" fill="none" stroke="#000" stroke-width="4.0" stroke-linejoin="round"/>
<line x1="208" y1="1730.8" x2="208" y2="2862.2" stroke="#000" stroke-width="5.4"/>
<line x1="209.3" y1="1725.8" x2="209.3" y2="1732.8" stroke="#000" stroke-width="1"/>
<line x1="274.54" y1="2859.5" x2="274.54" y2="2849.2" stroke="#000" stroke-width="5.0" stroke-linecap="round"/>
<line x1="385.45" y1="2859.5" x2="385.45" y2="2837.2" stroke="#000" stroke-width="5.0" stroke-linecap="round"/>
<line x1="496.35" y1="2859.5" x2="496.35" y2="2849.2" stroke="#000" stroke-width="5.0" stroke-linecap="round"/>
<line x1="607.26" y1="2859.5" x2="607.26" y2="2837.2" stroke="#000" stroke-width="5.0" stroke-linecap="round"/>
<line x1="718.16" y1="2859.5" x2="718.16" y2="2849.2" stroke="#000" stroke-width="5.0" stroke-linecap="round"/>
<line x1="829.07" y1="2859.5" x2="829.07" y2="2837.2" stroke="#000" stroke-width="5.0" stroke-linecap="round"/>
<line x1="939.97" y1="2859.5" x2="939.97" y2="2849.2" stroke="#000" stroke-width="5.0" stroke-linecap="round"/>
<line x1="1050.88" y1="2859.5" x2="1050.88" y2="2837.2" stroke="#000" stroke-width="5.0" stroke-linecap="round"/>
<line x1="1161.78" y1="2859.5" x2="1161.78" y2="2849.2" stroke="#000" stroke-width="5.0" stroke-linecap="round"/>
<line x1="1272.69" y1="2859.5" x2="1272.69" y2="2837.2" stroke="#000" stroke-width="5.0" stroke-linecap="round"/>
<line x1="1383.59" y1="2859.5" x2="1383.59" y2="2849.2" stroke="#000" stroke-width="5.0" stroke-linecap="round"/>
<line x1="208.7" y1="2747.46" x2="219" y2="2747.46" stroke="#000" stroke-width="5.0" stroke-linecap="round"/>
<line x1="208.7" y1="2634.72" x2="231" y2="2634.72" stroke="#000" stroke-width="5.0" stroke-linecap="round"/>
<line x1="208.7" y1="2521.98" x2="219" y2="2521.98" stroke="#000" stroke-width="5.0" stroke-linecap="round"/>
<line x1="208.7" y1="2409.24" x2="231" y2="2409.24" stroke="#000" stroke-width="5.0" stroke-linecap="round"/>
<line x1="208.7" y1="2296.50" x2="219" y2="2296.50" stroke="#000" stroke-width="5.0" stroke-linecap="round"/>
<line x1="208.7" y1="2183.76" x2="231" y2="2183.76" stroke="#000" stroke-width="5.0" stroke-linecap="round"/>
<line x1="208.7" y1="2071.02" x2="219" y2="2071.02" stroke="#000" stroke-width="5.0" stroke-linecap="round"/>
<line x1="208.7" y1="1958.28" x2="231" y2="1958.28" stroke="#000" stroke-width="5.0" stroke-linecap="round"/>
<line x1="208.7" y1="1845.54" x2="219" y2="1845.54" stroke="#000" stroke-width="5.0" stroke-linecap="round"/>
<text x="385.45" y="2921.7" font-size="48.6" text-anchor="middle" font-family='"Liberation Serif", "DejaVu Serif", serif'>300</text>
<text x="607.26" y="2921.7" font-size="48.6" text-anchor="middle" font-family='"Liberation Serif", "DejaVu Serif", serif'>350</text>
<text x="829.07" y="2921.7" font-size="48.6" text-anchor="middle" font-family='"Liberation Serif", "DejaVu Serif", serif'>400</text>
<text x="1050.88" y="2921.7" font-size="48.6" text-anchor="middle" font-family='"Liberation Serif", "DejaVu Serif", serif'>450</text>
<text x="1272.69" y="2921.7" font-size="48.6" text-anchor="middle" font-family='"Liberation Serif", "DejaVu Serif", serif'>500</text>
<text x="1494.50" y="2921.7" font-size="48.6" text-anchor="middle" font-family='"Liberation Serif", "DejaVu Serif", serif'>550</text>
<text x="181" y="2874.20" font-size="48.6" text-anchor="end" font-family='"Liberation Serif", "DejaVu Serif", serif'>200</text>
<text x="181" y="2648.72" font-size="48.6" text-anchor="end" font-family='"Liberation Serif", "DejaVu Serif", serif'>250</text>
<text x="181" y="2423.24" font-size="48.6" text-anchor="end" font-family='"Liberation Serif", "DejaVu Serif", serif'>300</text>
<text x="181" y="2197.76" font-size="48.6" text-anchor="end" font-family='"Liberation Serif", "DejaVu Serif", serif'>350</text>
<text x="181" y="1972.28" font-size="48.6" text-anchor="end" font-family='"Liberation Serif", "DejaVu Serif", serif'>400</text>
<text x="181" y="1746.80" font-size="48.6" text-anchor="end" font-family='"Liberation Serif", "DejaVu Serif", serif'>450</text>
<text x="851" y="3019" font-size="60.5" font-weight="bold" text-anchor="middle" font-family='"Liberation Serif", "DejaVu Serif", serif'>Emission (nm)</text>
<text transform="translate(82.5,2296.5) rotate(-90)" font-size="60.5" font-weight="bold" text-anchor="middle" font-family='"Liberation Serif", "DejaVu Serif", serif'>Excitation (nm)</text>
<text x="253" y="1828.5" font-size="84" font-family='"Liberation Serif", "DejaVu Serif", serif'>(b)</text>
</g>
</svg>
</body>
</html>
